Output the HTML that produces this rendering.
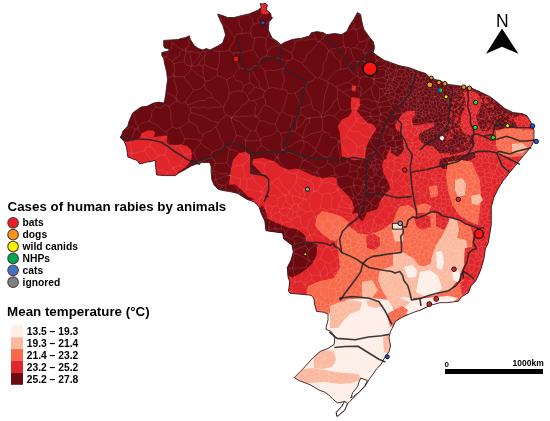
<!DOCTYPE html>
<html><head><meta charset="utf-8"><style>
html,body{margin:0;padding:0;background:#fff;width:550px;height:421px;overflow:hidden}
svg{position:absolute;left:0;top:0}
.t{font-family:"Liberation Sans",Arial,sans-serif;font-weight:bold;fill:#000}
</style></head><body>
<svg width="550" height="421" viewBox="0 0 550 421">
<defs><clipPath id="br"><polygon points="163.7,40.4 178,39.5 180.8,38.5 185.6,37.6 189.4,35.7 190.3,39.5 192.2,42.3 194.3,45.7 198.5,48.5 202.8,50 206.4,48.5 210,50 214.2,47.8 218.5,45.7 222.8,42.8 224.2,38.5 225.6,35 223.1,26.2 219.8,19.6 217.6,14.2 222,15.3 227.5,17.5 234,17.5 242.7,15.3 249.4,13.8 254.5,11.6 258.1,10.2 259.5,8.7 261.7,7.3 260.6,5.8 260.3,3.6 262.5,4 265.4,3.3 267.5,5.1 266.8,7.3 266.1,10.2 269,11.6 270.8,13.8 271.2,16.7 272.6,17.5 271.2,19.6 269,21.8 268.3,30 272.2,38.2 277.6,41.5 280.9,44.7 284.2,42.5 292.9,39.3 301.6,38.2 309.3,36 311.5,32.7 316.9,31.6 323.5,32.7 326.4,34.6 335,33.5 341.4,34.6 346.7,31.4 349.9,25 354.2,18.5 357.4,12.6 360.6,14.3 361.7,20.7 363.8,29.2 369.1,36.7 373.4,42 374.5,47.4 373.4,52.7 377.7,56 384.1,60.2 390.5,62.4 399,65.6 409.5,67.7 418.9,71.3 426,73.6 430.7,78.4 440.2,80.7 447.3,84.3 456.7,85.5 463.8,86.6 470.9,87.8 480.4,92 489.8,96.5 497,102 504.5,108.3 513,112.6 522,113.6 527,115.7 531.2,122.8 534,130 534,138.5 532.6,144.2 528.3,150 521.2,158.5 515.5,165.6 508.4,174.1 502.7,181.3 498.4,188.4 494.1,197 491.3,207 491.3,218.3 491.2,225.7 489.8,234.3 488.3,242.8 485.5,248.5 484,258.5 481.2,268.5 478.4,275.6 475.5,281.3 471.2,285.6 468.4,292.7 461.3,297 458.4,301.2 447,302.7 439.9,302.7 430,305.5 421.4,309.8 412.8,312.6 402.8,316.9 395.7,321.2 390.5,331.6 389,337.3 390.5,346 389,351.7 384.7,357.4 381.1,364.4 376.7,368.7 373.8,373.1 369.5,378.9 365.1,386.2 357.8,393.5 352,399.3 347.6,403.6 346.2,406.5 344.7,410.2 341.1,413.1 338.2,416 336.7,416 336.3,412.4 338.9,409.5 341.8,406.5 343.3,403.6 344.7,401.5 337.5,402.9 333.1,399.3 328.7,394.9 324.4,392 320,390.5 310,384.7 298.6,380.4 294.3,377.5 302.9,368.9 312.8,358 320.4,351.3 328,348.4 334.1,344.6 334.7,339 333.7,335.1 330.9,331.3 326.1,329.4 326.1,327.5 328,320 328,314.2 324.2,312.3 316.6,311.4 314.7,304.7 313.8,298 310.9,295.2 301.4,294.3 290,293.3 288.5,291.3 289.7,281.8 288,277 287.3,267.5 290.9,260.4 293.3,252 292,245 283.8,239 282.6,233 266,230.7 264.8,220.8 261.3,213.6 258.9,206.5 254,201.8 247,199.4 237.5,193.4 230,191.6 225.6,191 218.4,189.5 214,185 211.8,179.3 211.1,172 211.1,166.2 209.6,162.5 202.4,162.5 196.5,164 190.7,166.2 184.9,169.8 179.1,172.7 175.5,175.6 164.5,175.6 156.5,174.9 155.8,167.6 155.1,160.4 150,161.8 148,161.8 139.7,164.1 137.3,160.6 127.8,157 126.6,147.5 124.3,141.6 120.7,138 123,130.9 127.8,126.1 129,121.4 132.6,113 140.9,107.1 147.6,106 153.3,103.1 159,102.1 163.7,103.1 164.7,100.2 165.6,94.6 166.6,87 167.5,79.4 166.6,71.8 164.7,64.2 163.7,58.5 161.8,55.6 161.8,52.4 167.5,51.3 169.4,49 164.7,48 163.7,46.1"/></clipPath></defs>
<polygon fill="#6c0a12" points="163.7,40.4 178,39.5 180.8,38.5 185.6,37.6 189.4,35.7 190.3,39.5 192.2,42.3 194.3,45.7 198.5,48.5 202.8,50 206.4,48.5 210,50 214.2,47.8 218.5,45.7 222.8,42.8 224.2,38.5 225.6,35 223.1,26.2 219.8,19.6 217.6,14.2 222,15.3 227.5,17.5 234,17.5 242.7,15.3 249.4,13.8 254.5,11.6 258.1,10.2 259.5,8.7 261.7,7.3 260.6,5.8 260.3,3.6 262.5,4 265.4,3.3 267.5,5.1 266.8,7.3 266.1,10.2 269,11.6 270.8,13.8 271.2,16.7 272.6,17.5 271.2,19.6 269,21.8 268.3,30 272.2,38.2 277.6,41.5 280.9,44.7 284.2,42.5 292.9,39.3 301.6,38.2 309.3,36 311.5,32.7 316.9,31.6 323.5,32.7 326.4,34.6 335,33.5 341.4,34.6 346.7,31.4 349.9,25 354.2,18.5 357.4,12.6 360.6,14.3 361.7,20.7 363.8,29.2 369.1,36.7 373.4,42 374.5,47.4 373.4,52.7 377.7,56 384.1,60.2 390.5,62.4 399,65.6 409.5,67.7 418.9,71.3 426,73.6 430.7,78.4 440.2,80.7 447.3,84.3 456.7,85.5 463.8,86.6 470.9,87.8 480.4,92 489.8,96.5 497,102 504.5,108.3 513,112.6 522,113.6 527,115.7 531.2,122.8 534,130 534,138.5 532.6,144.2 528.3,150 521.2,158.5 515.5,165.6 508.4,174.1 502.7,181.3 498.4,188.4 494.1,197 491.3,207 491.3,218.3 491.2,225.7 489.8,234.3 488.3,242.8 485.5,248.5 484,258.5 481.2,268.5 478.4,275.6 475.5,281.3 471.2,285.6 468.4,292.7 461.3,297 458.4,301.2 447,302.7 439.9,302.7 430,305.5 421.4,309.8 412.8,312.6 402.8,316.9 395.7,321.2 390.5,331.6 389,337.3 390.5,346 389,351.7 384.7,357.4 381.1,364.4 376.7,368.7 373.8,373.1 369.5,378.9 365.1,386.2 357.8,393.5 352,399.3 347.6,403.6 346.2,406.5 344.7,410.2 341.1,413.1 338.2,416 336.7,416 336.3,412.4 338.9,409.5 341.8,406.5 343.3,403.6 344.7,401.5 337.5,402.9 333.1,399.3 328.7,394.9 324.4,392 320,390.5 310,384.7 298.6,380.4 294.3,377.5 302.9,368.9 312.8,358 320.4,351.3 328,348.4 334.1,344.6 334.7,339 333.7,335.1 330.9,331.3 326.1,329.4 326.1,327.5 328,320 328,314.2 324.2,312.3 316.6,311.4 314.7,304.7 313.8,298 310.9,295.2 301.4,294.3 290,293.3 288.5,291.3 289.7,281.8 288,277 287.3,267.5 290.9,260.4 293.3,252 292,245 283.8,239 282.6,233 266,230.7 264.8,220.8 261.3,213.6 258.9,206.5 254,201.8 247,199.4 237.5,193.4 230,191.6 225.6,191 218.4,189.5 214,185 211.8,179.3 211.1,172 211.1,166.2 209.6,162.5 202.4,162.5 196.5,164 190.7,166.2 184.9,169.8 179.1,172.7 175.5,175.6 164.5,175.6 156.5,174.9 155.8,167.6 155.1,160.4 150,161.8 148,161.8 139.7,164.1 137.3,160.6 127.8,157 126.6,147.5 124.3,141.6 120.7,138 123,130.9 127.8,126.1 129,121.4 132.6,113 140.9,107.1 147.6,106 153.3,103.1 159,102.1 163.7,103.1 164.7,100.2 165.6,94.6 166.6,87 167.5,79.4 166.6,71.8 164.7,64.2 163.7,58.5 161.8,55.6 161.8,52.4 167.5,51.3 169.4,49 164.7,48 163.7,46.1"/>
<g clip-path="url(#br)">
<polygon fill="#e0262a" points="122.4,142 131.4,141.2 139.5,137.9 142,133 147.7,130.5 153.5,130.5 155.1,133 153.5,137.1 156,137 164.1,135.5 167.4,136.3 166.6,141.2 169,145.3 173.9,145.3 180.5,144.5 187,146.1 191.1,149.4 191.9,154.3 191.1,160.8 187,165.7 182.9,169 178,172.3 175.6,180 150,180 115,170 115,142"/>
<polygon fill="#e0262a" points="259.5,2.5 267.8,4.5 266.1,10.2 269.7,12.4 266.8,14.5 261.7,13.8 261.2,8"/>
<polygon fill="#e0262a" points="229,185 231.6,166 233,160 239,153.1 245,151.9 249.7,154.3 250.9,159 250.9,173.3 262.8,175.6 267.5,179.2 268.7,187.5 266.3,194.7 262.8,200.6 255.6,199.4 248.5,197 242.6,191.1 234.3,184"/>
<polygon fill="#e0262a" points="252.1,163.8 253.3,159 262.8,157.8 274.7,161.4 281.8,167.3 288.9,169.7 296,168.5 303.2,170.9 312.7,175.6 322.2,178 331.7,176.8 340,179 345,170 370,165 384,160 388,157 400,158 420,157 442.8,156.3 453.5,154.2 462,152 468.5,150 472.7,147.8 474.9,143.5 472.7,137.1 474.9,132.8 480,132 495,130 510,128 530,126 540,126 540,420 250,420 250,200 268.7,197 266,187 268,180"/>
<polygon fill="#e0262a" points="351.7,97.1 359.2,98.2 360.3,105.7 357,111 361.3,116.4 367.8,122.8 374.2,124.9 376.3,129.2 372,135.6 369.9,144.2 367.8,154.9 365.6,161.3 352.8,162.4 342.1,160.2 341,148.4 340,133.5 337.8,126 342.1,119.6 348.5,116.4 351.7,112.1 350.6,103.5"/>
<polygon fill="#e0262a" points="351.7,85.3 356,86 355.5,91.8 352,91"/>
<polygon fill="#e0262a" points="402.4,113.3 408.3,110.8 414.9,110.8 414.9,116.6 411.6,120 413.3,125 419.9,125 426.6,123.3 433.2,123.3 434.9,125.8 426.6,130 419.9,133.3 418.3,138.3 424.9,144.9 433.2,146.6 439.9,153.2 450,153.2 450,160 400,165 385,156.6 386.6,146.6 400,144.9 403.3,141.6 401.6,133.3 396.6,130 395,125"/>
<polygon fill="#e0262a" points="463,92 470,90 478,94 482,100 480,108 476,116 478,124 482,132 476,134 470,135 463,133 460,126 461,116 466,106 465,99"/>
<polygon fill="#e0262a" points="513,118 522,115 530,118 533,127 518,128"/>
<polygon fill="#6c0a12" points="320,159.2 320,176.3 328.5,177.4 336,176.3 337.1,184.9 343.5,191.3 347.8,195.6 352.1,200.9 354.2,208.4 352.1,213.7 357.4,212.6 359.5,219.1 362.7,221.2 367,212.6 373.4,210.5 377.7,208.4 379.8,202 384.1,195.6 390.5,189.1 388.4,182.7 384.1,174.2 382,165.6 384.1,159.2 388.4,152.8 390.5,146.4 386.2,140 380,125 369.1,140 366,148.5 364.9,159.2 353.6,160.2 343,156.6"/>
<polygon fill="#6c0a12" points="390.5,140 403,141 404,150 398,157 391,153"/>
<polygon fill="#6c0a12" points="438.5,164.9 440.7,158.5 453.5,156.3 464.2,154.2 474.9,153.1 476,157.4 468.5,160.6 457.8,164.9 451.4,169.1 442.8,169.1"/>
<polygon fill="#6c0a12" points="262,205 265,209 267.5,218.4 277,223.2 284.2,226 289,228 296,229.1 301,232 305.3,236 306.3,241.3 312.3,242.3 317.4,245.3 316.4,255.4 312.3,263.5 306.3,269.5 300.2,273.6 292.1,277.6 285,275 280,260 265,232 255,215"/>
<polygon fill="#f86a4c" points="496,131 505,128.5 520,128 533,128 536,135 536,150 525,156 510,157 500,155 496,145"/>
<polygon fill="#fbb9a0" points="512,144 522,143 528,148 522,153 512,152"/>
<polygon fill="#f86a4c" points="448,162 462,160 472,162 476,172 480,180 481,195 480,210 478,225 470,222 460,216 452,205 448,190 446,175"/>
<polygon fill="#f86a4c" points="428.5,187 437,185 438,196 431,198"/>
<polygon fill="#f86a4c" points="415.7,206 425,203.5 431.4,206 428,212.8 417,213"/>
<polygon fill="#fbb9a0" points="455,180 462,178 466,184 465,195 458,197 455,190"/>
<polygon fill="#fbb9a0" points="471,196 480,194 483,200 478,205 472,204"/>
<polygon fill="#f86a4c" points="317,216 322.3,210.9 332.7,213.5 340.6,216.1 348.4,221.4 345.8,231.8 340.6,242.3 330,240 320,232 315,225"/>
<polygon fill="#f86a4c" points="330,213.3 340,216.6 345,223.3 351.6,228.3 358.3,233.3 368.3,235 378.3,231.6 384.9,228.3 393.2,221.6 396.6,211.6 399.9,206.6 408.2,205 413.2,208.3 418,216 432,212 450,217 460,220 466,224 471,227 473,236 473,243 471,251 468,254 467,259 462,271 458,276 452,285 440,294 425,298 411,298 396,304 385,306 370,300 353,298 340,300 330,300 318,292 306,296 308,286 320,281 334,278 340,268 338,250 333,236"/>
<polygon fill="#e0262a" points="366,236 374,234 380,238 380,246 374,250 367,248"/>
<polygon fill="#e0262a" points="338,238 336,250 333,262 330,250"/>
<polygon fill="#e0262a" points="414,217 424,214 430,217 431,227 422,230 416,226"/>
<polygon fill="#e0262a" points="436,213 446,214 450,221 444,230 436,226"/>
<polygon fill="#f86a4c" points="430,296 445,292 456,286 462,280 470,280 474,288 468,296 458,301 445,303 432,303"/>
<polygon fill="#e0262a" points="460,283 467,279 473,284 469,292 462,295"/>
<polygon fill="#fbb9a0" points="391.6,229 403.2,229 403.2,241.6 395,241.6"/>
<polygon fill="#fbb9a0" points="393,252 401.6,251.6 413.3,258.3 420,266.6 410,280 405,290 398,290 393,275"/>
<polygon fill="#fbb9a0" points="432,256 436,245 442,236 447,226 450,218 457,220 459,230 457,238 466,240 468,250 464,265 458,280 450,290 440,293 436,285 430,268"/>
<polygon fill="#fbb9a0" points="380,270 392,266 404,268 410,285 414,298 408,302 398,302 388,300 382,290 378,280"/>
<polygon fill="#fbb9a0" points="362,282 372,280 378,290 372,298 362,297"/>
<polygon fill="#fbb9a0" points="405,268 415,266 425,266 435,262 445,262 450,270 452,285 445,292 430,296 415,298 408,292"/>
<polygon fill="#fdeee8" points="404,267 412,265 417,270 416,277 408,278"/>
<polygon fill="#fdeee8" points="420,272 430,270 438,276 442,288 436,295 424,296 416,292 418,282"/>
<polygon fill="#fdeee8" points="436,252 442,251 444,262 442,270 437,268"/>
<polygon fill="#fdeee8" points="452,270 458,269 461,276 458,282 453,280"/>
<polygon fill="#e0262a" points="465,248 472,247 476,255 474,268 468,272 464,262"/>
<polygon fill="#fdeee8" points="395,300 404,297 414,299 424,298 436,297 448,296 458,298 452,303 440,305 428,306 420,310 410,314 400,315"/>
<polygon fill="#fdeee8" points="318,300 334,303 350,299 370,298 390,300 395,312 392,330 390,345 385,360 375,375 360,395 345,410 330,405 300,385 290,378 300,368 315,356 328,348 334,340 326,328 325,318"/>
<polygon fill="#f86a4c" points="306,290 318,288 330,290 345,292 350,298 340,304 333,310 328,315 318,313 312,300"/>
<polygon fill="#fbb9a0" points="330,306 340,302 352,300 362,302 360,310 350,314 344,320 338,328 330,328"/>
<polygon fill="#fbb9a0" points="366,300 378,301 384,306 376,308 368,306"/>
<polygon fill="#fbb9a0" points="388,300 400,298 410,302 404,308 395,310"/>
<polygon fill="#f86a4c" points="387,314 394,310 402,306 408,310 404,318 396,324 390,327"/>
<polygon fill="#fbb9a0" points="383,337 390,335 392,345 389,354 384,352"/>
<polygon fill="#fbb9a0" points="313,353 322,350 334,351 336,360 332,367 322,369 314,368"/>
<polygon fill="#fbb9a0" points="292,378 300,370 312,368 325,370 335,372 348,373 358,374 362,379 352,383 340,384 325,382 310,383 300,384"/>

<path d="M489.8 104.6l-0.2-0.1l-1.2 0.3l-0.4 0.1l2-0.6zM487.8 129.7l-1.1 0.3l-0.9-1.1l0.6-0.6l0.8 0.6zM488.4 114.7l-1.1 0.4l0.1-0.4l0.1-1.6l0.8-0.3zM489.6 118.5l-0.6 0.4l-1.8 0.6l1.6-2l0.2 0.6zM506 116.5l-1.6-0.2l0-1.3l-0.2-0.3l0.5 0.1zM509.2 127.3l-1.9-3.9l0.1-0.3l1.1 0.3l1.9 1.7zM469.7 112.6l-0.1-0.6l-0.1-1l1.1 0.5l0.2 0zM447.8 141.9l-0.9 1.4l-1.5-2.3l-0.2-0.4l0.6-0.1zM471.2 147.4l-0.5-1.5l-0.3-0.2l0.9-2.3l2.4 0.5zM455 100l-0.6 0.6l-0.9 0l-0.3-1.7l2-0.1zM475.8 132.5l-1.2-1.3l0.9-1.2l0.6 0.5l0.1 0.1zM492.2 116.8l-3.8-0.1l0.2-0.8l0.1-0.5l1.5-0.4zM492.3 129.8l-0.4-0.5l0.6-0.9l0.8 0.4l0.5 0.2zM456.5 130.6l-0.6 0.4l-1.4-0.9l-0.3-0.4l1-0.3zM459.1 106.7l0 0.3l-0.3 0.6l-1.2 0l1.8-1.3zM464.8 126.4l-2.7 0.5l-0.2-0.9l1.6-3.2l1 0.4zM485 111.9l-0.3 0.1l0 0l0-0.5l2.7-2.1zM455.3 145.2l-0.9 0.1l-0.6 0.2l1.3-1.7l0.4 0.8zM487.7 102.9l-1.2 1.1l-2.1-1.2l-0.5-1.1l3.5-0.3zM478.3 130.4l-2.6 0.9l-0.3-0.2l-0.5-0.8l3.9-1.4zM465.9 107.7l-3.7-1l1-0.4l1.9-2l1.1 1.6zM473.6 138.4l-1.7-1.4l0.9 0.3l0.9 0.7l-0.3 0.3zM458.6 139.7l-0.7 0.2l0.7 0.3l-0.9-1.3l0.4 0.4zM495.4 123.3l-2.1-1.3l0.8-0.6l0.5 0.4l0.6 0.8zM464.2 144.9l-0.6-2.9l1 0l0.4 1l0.9 0.6zM490.6 120l-0.7 0.9l-0.5 0.3l-0.2-0.7l1.8-1.2zM466 96.6l-2.6 0.6l-1-0.6l3.8-1.8l0.4 0.5zM486.4 103.1l-1.5-0.6l-1.1-2.5l1.6-0.4l0.7 0.3zM514.3 122.6l-0.3 0.3l-1.1-1.9l0.2-0.5l1.9 0.8zM486.6 113.8l-0.2 0.7l-1.5-1.5l1.1-1.2l0.7 0.5zM443.4 129.5l-0.6-0.9l-0.1-0.1l1.5-0.1l0.2 0.3zM473.2 102.3l-2-2.2l1.4-0.2l0.7-0.2l1.1 1.2zM510.9 115.9l-1.2 1.3l-0.9-2.1l1.4-0.3l0.5 0.7zM449.8 117.2l0.9 0.5l-1 0l-2.2-2.8l2.8 0.4zM449.7 118.4l0.4-1.1l-0.5-0.3l2-1.8l1.2 0.7zM478.6 102.6l-1.2-1.8l0.7-0.3l0-0.7l0.1 0.5zM468.3 146.7l-1-0.8l-0.7 0.4l0.1-1l0.3-0.6zM483.5 104.4l-2.5 1.2l0.6-0.9l-1.2-0.4l0.3-0.5zM487.8 129.3l0 0.1l-1.4 0.2l0.1-0.1l-0.1-0.1zM473.9 118.2l-3.6-1.7l1.3-0.6l1.3-0.9l1.8 2zM472.7 118.4l-1.1-1.4l0.6-0.2l0.4-0.2l0.5-0.2zM465.2 107.7l-0.4 0.5l0 0.2l-1.3-1.2l0.2 0.1zM466 115.3l-3.7 1.2l0.8-1.1l-0.4-0.9l1.6-1.3zM457.4 120.7l-2-0.3l-1.1-2.5l3.3-0.9l1.8 1.1zM451.8 133.5l-0.7 0.2l-0.1 0.3l-0.4-1.4l0.2-0.2zM472.4 93.5l-0.1 0.3l-1.7 0l1.1-1.8l0.1-0.1zM467.1 122.2l-0.2 0l-0.2-0.7l0.1-0.9l0.9-0.5zM458.5 108.9l0.1 0.2l-1.1 0.2l-2.6-1.3l2.4-0.3zM484.9 117.6l-0.1 0l-0.5-1.4l0.8-0.4l1.2 0.1zM508.1 125.4l0.2 0.2l-0.4 1.4l-1-0.2l-1.2-2.1zM486.5 116.6l-0.1 0.5l-1.4 0.2l0.4-1.4l0.5 0.1zM488.7 107.9l0.5 0.5l0.3 0.1l-0.1 0.4l0.8 0.4zM480.3 112.5l-2.6 0.2l1-2.2l0.3 0.6l0.4-0.9zM472.4 127.7l-0.7 0.5l-0.3 0.2l-0.6-1.4l1.7-0.1zM447.2 126.1l-0.1-0.6l-0.6-0.8l1.7-0.2l1.2 0.8zM452.3 115.7l-0.8 1.8l0.4-3.9l1.4 1.6l-0.5 0.3zM459.7 125.9l-2.2-1.3l0.7-0.8l0.5-1l1.2 0.9zM447.4 124.8l-0.3 0.6l-0.4 0l-0.7-0.2l0.3-1.4zM446.8 134.6l-1.2 0.5l-0.9 0.3l-0.4-1.5l0.2-1.2zM478.5 117l-0.9 0.5l-0.8-1l0-0.4l1.2-0.5zM451.8 125l-0.2 0.7l-3.4 0.8l-0.2-0.7l0.7-2.2zM466.2 114.2l-0.7-1l0.7-0.7l0.8-0.4l0.6 0zM457 123.4l-0.9 0.4l-1.8-3.3l0.7 0.3l1.8-1zM490.9 108.7l-1-1.9l0-1.3l0.8-1.2l0.9 0.1zM467.5 92.7l0.8-1.1l0.2 0.2l0.2 0.5l0.3 0.1zM458.5 121.9l-3.2 0.3l-0.7-0.1l-0.4-1l4.4 0.5zM460.7 149.2l-1.4 1l-1 0.1l-1.6 0.1l0.8-3.5zM490 98.3l-3.3-1.1l1.2-1.1l0.6-0.4l0.6 1zM456.2 89.6l-1.2 0.3l-0.7-1.3l0.2-0.3l0-0.4zM462.3 96.2l-1.1-0.3l0.9-2.4l0.4-0.1l1 0.4zM459.5 113.5l-2.2-2.3l0.3-1.5l2 0.9l0.4 0.4zM450.7 117l-0.1-0.7l-1.2-2.3l2.1-0.6l1.1 0.4zM469.7 95.9l-0.7-0.4l-0.2 1.1l0.3-2.9l0.1 1zM450.5 113.6l0.9 0.5l-4-1.3l2.4-1.8l1 1.7zM442.7 147.4l1.9-1.5l0.8-0.2l0.2 0.5l0.5-0.2zM483.7 97.6l-0.3-0.3l-1.3-0.4l0.5-1.7l1.3 0.7zM490.9 100.8l-0.6-0.8l-0.1-0.9l0.4 0l0.7-0.2zM449.4 136l0.1 0.7l-3.1 0.6l2.6-4.3l1.5 1.6zM470.1 121l-0.1-0.4l-0.3-0.7l1-0.1l1.3 0.7zM493 115.6l0.6 0l-0.6 0.1l-1.7 1.4l-0.6-1.2zM489.8 101.1l-1-0.4l-1.7 0.9l-0.3-0.5l-0.8-0.8zM464.4 145.3l-0.9 0.2l-0.3-1.2l2.2-1.8l0.1 0.9zM461.2 148.9l0 0.5l-0.8 0.1l-1.3-0.2l0.1-1.2zM481 134.7l-2.6 0.2l-0.9-0.1l1.1-2.6l1.4-0.8zM498.5 116.1l-1.5 0l0.4-2.1l0.3 0l0.6 0.4zM470.5 97.9l-3.1-0.7l1-1.3l-0.2-0.9l0.8 0.1zM474.6 129.1l-1.4-1.2l2.7-1.5l0.3 0l0.7-0.3zM458.9 114.9l-0.4 0.9l-2.7-0.4l-0.6-1.8l1 0.3zM446.6 140.7l-0.1-2l0.1-1.1l3.4 0.4l-0.5 1.2zM498.2 114.5l-1.3-0.1l-0.4-0.3l0.3-0.2l0.9-1.4zM520.7 125.7l-0.5-0.8l0.7 0l-0.3-0.1l2-1.3zM475.3 115.4l-0.1 0.6l-1.7-0.3l-0.9-0.5l0.8-3.1zM482.7 119l0 0.6l-0.6 0.3l-2.1-1.4l1.1-1zM460.7 103.1l-2.9 0.1l0.4-1.1l-1-0.2l0.9-0.9zM464.9 105.4l-0.9-1.2l-0.3-0.5l0.1 0l1.5-1.1zM492.9 128.2l-1.5 0.1l0.4-1.4l0.9-0.7l1 1.3zM465.7 89.8l-0.9-0.6l0.3-1.7l1.9 0l0.4 0.5zM469.1 133.6l-0.2 0.2l0.5-1.4l0.1 0.1l0.3 0zM512.3 116.9l-0.7 0l1-2.1l1.3 1l0 0.1zM467 145.5l0.2 0.7l-1-2.7l0.3 0.1l0.7 0.4zM463.4 124.9l-0.1-1.5l-0.1-0.2l0.9-0.5l0.3 0.4zM490.3 120.5l-0.5-1.4l0.1-0.2l0.4-0.4l1.2 0.9zM509.8 117.8l0-0.5l1.1-1.4l1.3 1.2l-0.4 0.1zM483.5 102.5l-1 0.6l-0.7 0.2l-0.8-3l0.7-0.5zM453.6 89.2l-1.4-1.9l1.6 0.1l0.3 0.3l-0.3 0.5zM493.3 120.8l-0.3 0l0.3-1.1l0 0.1l0-0.1zM458.4 118.4l-0.3 0.4l-0.3 0l-0.8 1.9l0.5-2.7zM495.5 102.1l0 0.4l-2.1 0.1l-0.4-0.9l3-0.5zM465 138l0.1-0.3l0.2 0.1l0.1-0.1l1 0.7zM516.2 115.9l-0.9-0.4l-0.2-1.3l0.4 0.3l0.5-0.3zM489.8 117.7l-0.9 0.5l-0.1-0.2l-0.9-1.2l1.4 0zM460.5 95.1l-2.5-0.1l0.1-0.3l-0.1-0.1l2.6-0.4zM496.6 107.6l-0.3-0.1l-0.3-0.9l0.8-0.2l1.3 0.5zM443.7 121.9l-0.1-1.2l-0.4-0.6l0.3 0.1l1-0.1zM456.8 100.7l-1.1 0.6l-1-0.8l1.1-1.7l1 0.5zM451.4 128.6l0.3 0.1l-0.4-0.1l-1.6-0.8l1-0.3zM493 109.3l-0.4-0.2l0.4-1.1l1 0.1l0.4 0.5zM455.6 110.1l-1.9 0.2l-0.2-1.6l0.8-0.5l1.6 1.2zM507.4 116l-0.1 0.1l-1.1 0l-1.4-1.8l2.4 0.4zM480.8 103.3l-1 0.4l0-1.3l1 0l0.1 0.6zM485.5 117.1l-0.1 0.2l-0.9 0.2l-0.3 0.2l0.3-1.7zM472.9 133l-2.6-1.5l0.7-0.5l0.3 0.4l0.2 0zM461.8 102.2l0.1 0l-1.2 0.8l0.2-1.5l1.3 0.5zM472.6 96.7l-2.7-2.8l0.8-0.1l1.4-0.9l0.3-0.3zM523.3 129.7l-2.2-0.9l0-0.1l1-0.3l3.3-0.5zM466.3 137.2l-0.1-0.3l-0.6-1.2l0.2-0.8l1.6-1.5zM463.1 87l0.1 0.6l-2.7 0.4l-0.8-0.5l3.5-1.2zM507.1 115.8l-0.4-0.3l-2-1.3l1.9-0.4l0.2 0.6zM460.6 134.2l-0.6 0.7l-1.9-0.5l1-1.5l0.3-0.7zM443.9 126.9l0-1.8l0.7-0.8l0.6 0.2l0.6 0.9zM453.5 132.8l-2.2 0.9l-0.8-1.3l1.6-2.3l0.8 0.9zM522.9 118.7l-1-1.7l0.1-0.2l0.9-1.4l0.4 0.1zM495.1 100.7l-0.7 0.5l-1.4-0.1l0-0.6l0.7-2.2zM470.8 108l-0.9-0.9l0-0.7l0.5-0.5l0.4 0.4zM491 127.9l0.5-0.6l1.2-1.9l-0.2 0.5l0.5-0.2zM458.7 116.6l-0.4-0.3l0.4-0.3l0.4-0.4l1 1zM468.2 128.5l-0.4 0.5l-1.1 0.7l-0.2-1.9l1-0.9zM483.1 120.3l-0.6 0l-0.3-0.3l0.2-1.6l0.2 0.7zM461.2 134.7l-1.3-1.4l0.5-0.2l0.7 0.9l0.3 0.1zM516.8 124.5l-1.1-0.3l-0.1-0.5l1-1.3l0.4-0.2zM446.3 123l-0.8 1.7l-0.7 0.3l1.3-3.9l0.3 1.8zM474.8 145.3l0.4 0.4l-2.1 0.8l-1.2-1.2l0.2-0.9zM526 127l0.5-0.5l0.4-0.9l0.9 0.1l0.3 0.5zM452.7 111l-1.9-1.8l0-0.2l1.2-2.4l0.6 0.3zM459.4 116.5l-2.5-0.5l-0.1-0.7l1.2-0.8l0.7-0.5zM469.9 136.2l-0.8-0.6l1.6-0.7l0.9-0.4l0.7 0.7zM457.2 129.4l-2.3-0.3l0.8-1.6l0.3 0l0.6 0.6zM456.4 107.5l1-0.6l0.2-0.1l0.6 0.4l0.5 0.5zM453.1 104.2l-1.9 0.1l-0.2-1l0.5-1.5l2.7-0.2zM452.2 89.4l0.4-0.5l-0.2-0.3l-0.2-0.2l0.2 0zM464.2 107.2l-1.2 0.3l-0.1 0.1l0.6-2.1l0.7 0.4zM443.6 144.7l-0.1 0l-0.2 0.1l0.9-1.5l0.1 0.4zM465.2 118.4l-1.6 0.8l-0.2-1.2l-0.1-0.8l1.5-0.1zM476.6 105.7l-0.2 0l0.6-2.4l0.5 0.3l0.4 0zM453.9 134.5l-2.5-1.9l0.7-1.2l0.4-0.4l1.2 0.6zM491.4 119.4l-2.2 0.4l-0.9-1l0.9-0.7l2.3 0.6zM488.6 127.7l-1.9-2.8l1.5-2.5l0.7 1l0.8 0.9zM469.9 146.9l-0.1-1.5l0.3-0.2l0.5 0.3l0.1 0.3zM444.1 132.9l-0.8 0.8l-1.8-1.8l2-0.4l0.5 0.5zM529.5 130.1l-1.1-0.2l-0.8 0.2l-0.6-0.6l-1.5-0.8zM462.9 101.2l-2.4 1.7l-1-2l2.3-1.5l0.2-0.1zM447.7 146.9l-2.7-0.8l0.5-0.8l2.6 0.1l0.4 0.1zM511.7 116.9l-0.5 0.1l-2.1 1.4l0.4-3.6l1 0.5zM488.1 103.4l-2.6-1.2l0.5-0.1l0.9-1.8l2.1 1zM523.5 124.8l-4.4-0.3l0.1-2l3 0.1l0.2 1.6zM448.8 140.2l-0.5-4.8l1.2 0.8l1.3-0.2l1 1.7zM456.6 149.2l0.3 0.3l-0.5 0.4l-1.4-1.3l1.7-0.2zM523.9 120.2l-2.2-1.6l0.9-0.7l0.6-0.2l0.1-0.4zM494.5 113.5l-0.9 0.8l-1-0.1l-0.4-0.6l1.5-1.7zM499.2 118.1l-2.3 1.3l-0.4-0.3l0.3-1.5l1.4-2.7zM448.6 111.4l0.3 0.3l-0.5-0.2l0.7-0.8l-0.5 0.1zM502.6 112.2l-1 0.9l0 0.6l-0.5-3.1l1.8-0.2zM448.5 111.5l-1.3-0.4l0-0.2l0 0l0.4-0.2zM528.2 117.1l-2.7-0.9l1.7-0.4l0.7 0.4l-0.1 0.4zM463.6 145.2l-0.9 0.2l-1.8-1l0.8-0.3l1.1 0.2zM447.2 136.2l-2.2-0.7l0.5-0.9l0.2 0l1.6 0.5zM474.9 94.3l0.1 1.1l-2.4-2.1l0.1-0.9l1.6-0.6zM487.1 101.2l-2 0.1l-0.5-0.1l-0.9-1.3l2.1-2.8zM448.8 123.2l-1.8-0.2l0.1-1.7l0.7-0.2l0.6 1.2zM475 107.5l-0.6 0.5l-0.2 0.2l-0.2-0.4l1.5-0.9zM496.4 129.3l-1-0.4l0.1-1.8l0.7 0.6l0.4 0.1zM452.5 93.4l-0.9-0.8l0-1l0.1-0.1l1.1 0.5zM456.7 116.5l-0.4 0.2l-0.9-2.2l0.7-0.4l2.7 0.6zM465.5 137.4l-0.6-0.2l0.1-0.6l2.4-0.3l2.1 1.4zM484.2 120.3l-2.5-0.2l0.4-0.4l-0.3-0.7l3.3-0.3zM452.7 113.8l-3.2-0.6l1-1.3l1.2 0.5l0.7 0.5zM465.7 147.6l-0.2 0.9l-0.9-0.3l-2.1-0.6l0-0.4zM519.2 119.9l-1.2 1.2l0.5-3.7l1.3 1.5l0.5 0.1zM452 131.4l-0.1 0.2l-3.3-0.1l0.9-0.6l2.7-1.9zM455.8 122.1l-2.3 0.5l0.2-0.3l0-0.4l0.6-1.5zM451.1 136.9l-1 1.2l-1.1-2.4l-0.4-0.6l2.1 0.6zM511.2 124.9l-5.5 0.2l1.9-2.8l2.6 0.2l-0.7 1zM491.7 126.5l-0.8 0.9l-0.1 0l-2-1.8l2.5 0.1zM531.6 130.9l-0.4-0.6l0.3-0.7l2.3-1.8l0.1 0.4zM460.2 129.3l-2.7 2.2l-0.7-1.9l-0.3-1.9l1.2-0.2zM477.4 123.7l-0.7 1l-1.2-0.5l1.2-2.8l1.8 1.4zM484.5 97.1l-1.3 1.1l-0.1 0.2l-1.2-1l-0.6-2.3zM496.5 110.3l0.4 0.2l-0.1 0.1l-0.2 0.2l-0.5-1.9zM455.8 91.9l-0.2-0.7l1.5-1.1l1.9 0.4l0.2 0.4zM524 125.8l-2.7 0.9l1.2-3.1l1.6 1.3l-0.4 0.1zM471.7 115.8l-0.7 0.1l-0.7-0.1l1-3.2l1.4 1.5zM478.9 113.5l-0.7-0.2l-0.7-1.1l-0.2-0.4l2.2 0.4zM473.1 97.8l0.3 0.2l-0.4 0.3l-1.8 0.3l0-2.5zM512.5 120.9l-2.4-0.8l1.4-0.4l0.4-0.4l-0.1 0.4zM502.7 119.6l-0.6-0.2l-0.7-0.5l0-0.4l0.2-0.5zM516.6 127.3l-1.4 0.8l0.2-0.4l0.1-1.4l1.5 0.4zM489.3 107.7l-1.2 0.8l-0.4-0.8l-1.2-1.2l2.7-1.3zM511.3 121.2l-3.6-1.6l1.8-0.9l0.3 0.4l0.7 0.4zM463.7 136.9l-0.1 0.4l-0.6-0.3l-0.2-1.9l1.8 0.6zM451.6 131.8l-0.6-0.8l-0.1-0.1l0.5-0.7l0.8 0.1zM493.7 108.1l-2.8-0.9l0.9-1.8l2.3-0.7l-0.1 1.8zM490.3 130.7l0.1 0.8l-1 1.5l-0.5-4.4l1.5 1.5zM463.2 100.5l-0.2-0.2l-0.1-0.1l-1.6-1.2l2.7-0.7zM528.3 124.1l-0.7 0.3l0.1 0.6l-1.2-0.2l-0.2-1.3zM486.5 97.9l-0.6-0.5l-1.4-0.4l0.7-1.3l1.1 0.2zM445.6 126.6l-0.4-0.2l-1.6 0.1l0.2-1l0.2 0zM478.2 114.5l-0.7 0.6l-0.6 0.1l-0.7-1.1l1.5-0.1zM485.6 120.8l-0.5 0l-0.3 0.1l-0.4-2.7l0.5 1zM453.7 141l-1.4 0.5l0.2-0.4l-0.4 0l0.4-0.2zM498.9 122.4l-1.6 2.1l0.1-1.1l-1.2 0.4l0.1-1.5zM470 139.9l-0.6 0.6l-0.6 0.6l-2.4-1.4l1.7-1.8zM492.7 129.6l-0.1 0.5l0 0.1l-2.7 0.3l1.2-3.2zM454.6 121.8l-0.1-2.2l1.7-2l0.3 0.9l1 0.4zM452 118.7l-2.2 0.2l-0.4 0.6l3.3-2.8l-0.3 0.6zM491.5 113.7l-0.2 1.1l-1.1-0.3l-0.8-0.4l1.2-1.6zM473.5 130.8l-0.5-0.8l0.4 0.2l1.3-1l0.4 0.2zM471.1 112.3l-0.9 1.6l-1.6-2.6l1.4-2l0 0.8zM483.2 110.3l0.5-2.6l0.6-0.5l1 0.9l0.2 0zM493.6 130l-0.6-0.5l0.8-1.8l0.1 0.3l0.7 0.3zM472.4 106.4l-0.9 0.4l-0.4 0l-0.5-0.9l1-0.3zM474.9 110.8l0.3 0.2l-1.1 0.1l0.3-1.6l0.5-0.2zM487.1 129.1l-3.9 0.3l0.6-0.8l1.7-1.1l1-0.1zM486.1 112.4l-0.4-0.3l-0.5 0.4l-0.6-2.9l0-0.3zM453.3 93.3l-2.5 0.7l-0.1-0.9l0.8-2.1l2.5 0.2zM524.9 115.2l-0.3 0.4l-0.4-0.2l-1.1-0.4l0.9-0.8zM467.7 143.2l-2-0.5l1-1.4l-0.2-0.1l3.4 0.2zM476.2 131.3l-0.5-0.4l-0.2-1.5l0.5-1.8l0.8 0.3zM529.7 128.6l-0.1 0.8l-2.2-1.6l2.1-0.9l1 0.8zM487.2 101.4l-1.1 0.2l0 1l-0.6-0.4l0.2-3.5zM521.7 117.7l-2.3-1.4l-0.8-0.9l0.4-1l0.3 0.2zM476.2 101l-1.1 0.5l0.2-2.3l0.1 0l0.7 0.1zM446.9 144.1l-0.9 0l-0.1-0.1l-0.3-1l0.1-0.5zM478.2 94.9l-1.5-3.7l0.8 1.6l0.1-0.1l0.2 0.6zM495.8 103.4l-1-0.8l-1.2-1.9l0.9-0.3l1 0.2zM518.1 115.3l-0.7-0.2l-0.4 0.3l0.5-1.6l0.6 0.3zM467.4 120.1l-0.3 0.5l-1.5 0l0.3-0.3l0.8-1zM457.1 106.4l0.5-0.6l-0.3 0l0.7-0.4l-0.2-0.5zM474.3 112.5l-0.2-0.2l-0.8-2.3l0.7-0.3l0.3 0.5zM495.8 122.8l0 0.1l-0.5 0l-1.2 0.2l0.2-2.2zM446.2 116.5l-0.6 0l0.5-0.8l1.4-0.4l0.2 0.1zM526.6 129.2l-1.6 1.3l-1.3-0.3l-0.5-2.1l0.9 0zM453.5 137.9l-2.6 0l0.8-1.1l1.6-0.2l0 0.7zM531.5 128.8l-0.6 1.6l-1.8-1.4l-0.3-0.4l2.8-0.9zM519 126.3l0-0.6l0.8 0.1l0.4 0.1l0.7 0.5zM498.5 124.8l-1.1-0.2l1.1-1.2l0.4 0.1l0.2-0.1zM465.6 143.4l-0.4-0.3l-0.4-0.2l-0.4 0.1l-1-0.5zM487.4 128.5l0.2-1.8l0 0l1.2-0.1l0.2 0.5zM477 112.8l1.2-0.9l0.4 0.7l0.5 0l-0.5 0.5zM485.6 131.1l-0.2-0.3l-1-0.7l0.8-1.1l0.9 0.4zM454.7 87.6l-0.6-1l0.8-1.3l0.3 0l0-0.2zM492.6 105.5l-0.6-0.2l-1.8 0.5l-0.6-1.4l2.3-0.6zM484.7 108.8l-0.4 0l-0.3 0.8l-0.3 0l-1.4-1.4zM512.3 119.3l-0.4 0.2l-0.2-0.9l0.4-0.1l0.1 0.5zM478.4 131l-2.5-1.5l2.2-2.8l1.8 1.5l-0.5 1.1zM479.2 119.8l-2.7-3.3l0.3 0.9l2 0.1l0.6 0.1zM469.6 148.5l-0.1 0.8l-1.2-1l-0.5-1.4l2.7-1.6zM451.9 138.4l0 0.5l-1 0.3l-0.9-2.3l1.3-0.1zM460.9 95.9l-0.8-0.3l1-1.2l1.2 0.2l0.4 0.1zM526.4 124.7l-0.1 0l-1.5 1l-0.7-1.1l1.6-0.5zM451.3 127.2l-0.2 0l-0.1 0.1l-1.2-1.8l0.5 0.1zM452.6 132.5l0.1 0.2l-0.7-1.6l1.3 0.7l-0.6 0.2zM486.4 109.5l-0.5-0.2l0.3 0.2l-1.1 0.2l0.7-1.7zM483.3 125.4l0-0.6l0.1-0.4l1.7 0.4l-0.1 0.4zM512.7 120.5l-3.4-2l3.1-1.2l0.2 0.1l0.4-0.1zM466.1 129.2l-0.5 0.2l-0.2 0.2l-0.1-1.9l1.1 0.5zM457.8 107.5l0-0.5l0.5-1.3l1.3 0.6l0.3 0.7zM466 107.4l-1.1-1.8l1.8-0.3l0.6-0.4l0.1 0.4zM460.5 142.1l-1-0.1l0.7-1.8l0.6 0l0.2 0.2zM472.8 90.4l-1.5-0.3l-2.7-0.8l0.8-1.4l2.7-1zM488.3 96.9l-1.8 0l-0.3-0.5l-0.3-0.6l0.4-1.6z" fill="#e0262a" fill-opacity="0.75"/>
<path d="M416.3 90.6l0.1-0.5l0.1-0.3l0.4 0.1l0.7 0.1zM416.2 86.3l-0.1 0.1l-0.5 0.2l-0.3-0.6l-0.1-0.5zM440.5 115.4l-0.1-1l0.2-0.5l0 0.4l0.4 0.2zM451 98.4l-1.3 0.1l-0.4-0.5l0.9-0.9l0.3 0.8zM409.3 101.9l-0.8 0.5l-0.7-1.5l0.6-0.3l0.1-0.3zM420.2 91.7l-0.7 0.7l-0.7-0.1l-0.9 0.1l1.7-1.4zM427.9 105.3l0.1 0.1l-1 0.1l0.3-0.8l0-0.1zM406.6 103.3l-0.8-1.4l-0.2-0.4l1.4-1.1l0.2 0.5zM426.2 126.3l-0.9 0l-0.3-0.2l0.7-1.1l0 0.2zM413.6 88.7l0.4-0.1l0.7-1.1l0-0.2l1.1 0.8zM419.5 126l-0.3 0.1l0 0l0.4-0.8l0.2 0.2zM433.8 120.6l-3.2-0.1l0.5-0.1l-0.5-0.7l2.1-0.2zM439.6 84l0-0.1l-0.7-0.9l0.7-0.1l0.3 0.4zM427.7 114.3l-0.5 0.2l0.9-1.9l0.5-0.1l0.7 0.4zM413.6 101l-0.1-0.6l-0.6-0.3l0.6-0.2l0.2-0.4zM442.6 123.3l-0.4-0.4l-0.3-1.7l0.2-0.1l0.3-0.6zM434.1 98.1l-1 0.9l-0.4-0.2l0.1-0.4l0.7-0.9zM421.1 123.8l-2.6-1.2l1.5-0.6l0.1 0.6l0.9 0.6zM418.6 84l-1.4 0.7l0-0.9l0.4-0.8l0.6 0.3zM421.7 86.8l-0.4 0.1l-1.3-1.7l0.9-0.2l0.6 0.8zM429.6 103.6l-0.4-0.4l-0.1-0.2l-0.1-0.5l1.1 0.4zM425.4 116.8l0.1 0.2l0 0.5l-0.8-0.1l-0.6-0.7zM435.6 97.3l-1.2 0.4l-0.3-0.2l-0.4-0.7l1.5-1zM428.4 115l-0.1-0.5l-0.6-0.5l-0.1-0.4l1.2-0.8zM410.4 89.6l-0.4 0l-0.4-0.2l-0.3-0.2l-0.1-0.4zM415.5 72.7l-0.2 0.3l-0.8-0.1l-0.6 0.1l-0.3-1.4zM416.8 94.4l-0.2 0l-0.2-0.1l-0.5-0.4l0.5-0.7zM413.8 93.6l-0.6 0.4l-0.7-0.7l0.6-0.4l0.1-0.2zM412.6 86.9l-1.2-0.2l0-0.3l0-0.2l-0.2-0.3zM418.3 78l0.4 0.6l0.1 0.2l-0.2 0.3l0.5 0.2zM428.1 120.3l-1.1 0l0.7-0.6l0.2-0.2l0.5 0.4zM442.4 109.1l-1 0.6l0.4-1.4l0.4 0l0.3 0zM442.5 109l-0.6-2.3l0.8 0.4l1 0.3l-0.1 0.4zM415.9 83.8l-0.2-1.1l0.1-0.2l0.7-0.2l0.4 0.6zM421 88.1l-1.2-0.1l0.5-1.5l0.1 0.2l0.1-0.1zM421.1 122.8l-0.6-1.1l0-0.8l0.7 0.2l1.2 0.2zM430.1 112.9l-1.1 0.9l-0.7-1.4l0.1-0.3l1-1.2zM442.1 82.9l-0.7 0.4l-1.8-1.8l0.6-0.2l0.9-0.7zM416.5 84.4l-0.1-0.2l-0.6-2.4l0.5 0.3l1.6 0.8zM441.6 129.8l-1 0.3l-0.3-0.2l0-1.7l1-0.4zM450.8 91.9l-0.4-0.3l-0.2-0.7l1.6-0.7l-0.2 0.7zM423.4 82.4l-0.5 1l-0.4-0.3l-1-0.2l1.6-2.3zM430.9 111.4l-0.1 0.1l-0.1-0.3l-0.2 0.2l-0.2-1.4zM427.3 95.7l-0.8 1l-0.6 0.1l-0.8-0.8l0.3-1.4zM426.9 125.8l-0.6-0.1l2.5-1.6l-0.3 0.4l0.9 0.6zM415.8 93l-0.4-0.8l-0.2-0.5l0.1-0.1l0.2-1.2zM427.2 138.3l-0.9-2l0.1-0.3l1.1 0.4l0.2 0.5zM416 110.6l-0.2 0.3l0.1-0.4l-0.4-0.8l1.8-0.8zM420.7 107.4l-0.7 0.1l0.2-0.9l0.7 0l0 0.3zM435 131.4l0 0.2l0.2 0.5l-1.4-0.5l1-1zM424 122.5l0-0.1l0.9 0l0 0.1l0 0zM420.4 112.3l1.4-0.9l0.1-0.2l0.5 0l0.5 0.7zM446.7 101l-0.8-0.3l-0.2-0.2l0-0.9l0.3 0zM409.8 98.3l-2.1 0.7l0.6-1.6l1.4 0.2l-0.2 0.2zM431 123.8l-0.6-0.1l-0.1 0l0 0l0.7-1.4zM417.4 98.6l-1.3-0.8l1.3 0.3l-0.2 0.3l0.2 0.1zM415.7 114.7l-1.3-1.2l0.4-0.8l0.6 0l0.8 0.5zM441.5 92.6l-1.2-1.8l0.4 0.3l0.1-0.3l0.6 0.2zM433.8 93.1l-0.7 0.1l-0.6-0.2l0.2-0.3l1.5-1.7zM418.3 103.9l-1.3 0.5l0.1-0.3l-0.3-0.4l-0.3-0.3zM407.8 99l-0.3 0.5l-0.4-0.6l0-0.3l1.3-1.6zM438 130.7l-0.2 0l0.3-0.2l0.6-0.3l0.3 0.4zM447.8 102.8l-0.3 0.3l-1.4-0.9l1.6-1.4l0.2 0.2zM423 115.7l0.2-1.2l0.9 0.4l0 0.2l-0.1 0zM409.4 105.8l-1.6-1.2l0.5-0.6l0.9-0.4l0.5 0.1zM435.6 104.8l-0.1 0.3l-0.5 0l0.1-1l0.1 0.2zM415.7 89.6l0.1 0.6l0 0.1l-1.5-2.2l1.8 0.9zM441.3 98.8l0 0.7l-1.5 0l0.4-1.8l1.4 0.2zM428.2 133.3l-0.6-0.2l-0.9-1.3l1.9-0.2l0.1 0.5zM419.5 100.7l-0.4 0.3l-2-0.2l0.7-1.6l0-0.2zM414.9 103.6l-0.6 0.1l-0.8-0.2l0.9-0.8l0.3 0.3zM433.2 102.5l-0.3-0.1l-0.4-1l0.5-0.3l1 0.4zM440.7 89.5l-1.1-0.6l0.3-0.1l0.5 0.4l0.3 0.1zM419.4 87.7l-0.5 0.4l-0.1-0.1l-0.4-2.4l0.9 0.8zM413 108l-0.2-0.3l-0.4-0.5l1.3-0.3l0.2 0.1zM416.4 92.7l-0.5-1.9l0.5-0.1l0.5 0.4l0.7-0.3zM414.2 80l-0.7-0.2l-0.5 0.8l-0.5-2.9l0.8 0.8zM433 131.7l-0.3-0.3l1.1-1l-0.1 0.4l0.5 0.3zM427.5 96.1l-0.1 0.6l-0.6 0.6l-0.9-1.8l1.1-0.6zM447.7 86.1l-0.3 0.2l-0.4 0.1l-0.4-0.4l0-0.5zM418.5 75.9l0.1 0.3l-1.6-0.4l0-1l0.7-0.7zM433.7 123.4l-1.7 0.6l0.3-1.7l0.2 0.1l0.7-0.4zM425.5 134.5l-0.5 0.3l0.4-1.3l0.7-0.4l0.5-0.3zM420.4 93.1l-0.5 0.2l-0.5-0.1l-0.1-0.6l0.7 0zM423 116.6l0.2 0.1l-2.9-0.5l2-0.9l1.1 0.8zM434.3 84.4l-0.8-1.7l0.1-0.2l0.4-0.6l1.3 0.7zM424.2 114.9l-1.2 0.5l-1-1.1l0.2-0.7l0.1 0zM430.5 105l-1.2-0.4l-0.4-0.4l0-0.1l0.8-1zM443.8 87.7l-0.5-0.1l-0.8-0.7l-0.1-0.2l1.6 0.2zM445.9 98.4l-0.3-0.2l-0.7 0.4l-1.1-1.7l1-0.4z" fill="#b8303a" fill-opacity="0.6"/>
</g>
<path d="M294.7 377.8l0.2-0.9M298.7 375.9l-3.2 0.4M302.6 378.1l-3.9-2.2M298.7 375.9l0.1-2.9M300.6 381.2l2-3.1M304.8 373.8l-3.3-3.5M302.6 378.1l1.1-0.3M307.3 364.5l-0.3-0.1M306.8 379.6l-3.1-1.8M303.7 377.8l1.1-4M307 372l-2.2 1.8M307.5 383.8l-0.7-4.2M306.8 379.6l1.3-0.5M311.2 374.6l-4.2-2.6M307 372l1.3-4.2M313.2 358.3l-0.4-0.3M308.3 367.8l-1-3.3M312.5 361.4l-5.2 3.1M314.1 381.3l-6-2.2M310.8 376.5l-2.7 2.6M315.2 371.6l-6.9-3.8M310.8 376.5l3.9 2M310.8 376.5l0.4-1.9M314.1 300.6l1-1.6M315.2 371.6l-4 3M312.5 386.1l1.9-3.3M320.3 367.8l-7.8-6.4M312.5 361.4l0.7-3.1M313.2 358.3l0.9-0.8M314.1 357.5l-0.1-0.6M315.5 307.5l2-1.8M314.1 381.3l0 0.3M314.7 378.5l-0.6 2.8M314.1 357.5l3.3-1.1M316.2 309.9l4.7 1.9M314.4 382.8l-0.3-1.2M314.1 381.6l5.2-2.5M314.4 382.8l3.6 0.2M314.7 378.5l4.6-3.9M319.4 371.3l-4.2 0.3M317.1 388.8l1.9-1M317.5 305.7l-1.6-6.6M317.6 356.2l-0.3-2.1M321 301.5l-4.7-2.4M320.2 360.1l-2.8-3.7M317.4 356.4l0.2-0.2M320.3 305.9l-2.8-0.2M318.4 355.9l-0.8 0.3M321.7 391.1l0.8-0.4M318 383l1.9 1.7M318 383l1.3-3.9M325.8 356.2l-7.4-0.3M318.4 355.9l2.2-4.7M319 387.8l1.4 0.8M319 387.8l0.9-3.1M319.3 374.6l1.1 2.3M319.4 371.3l-0.1 3.3M320.4 376.9l-1.1 2.2M319.4 371.3l0.6-0.9M319.9 384.7l3.1-1.1M320 370.4l8 3M320.3 367.8l-0.3 2.6M320.2 360.1l0.4 7.4M320.2 360.1l4.9-2.2M320.3 305.9l1.1 2.2M320.3 305.9l0.7-4.4M320.3 367.8l0.3-0.3M323.4 379.7l-3-2.8M320.4 388.6l2.1 2.1M320.4 388.6l2.6-1.3M320.6 367.5l1-0.6M320.9 311.8l0.1 0.1M320.9 311.8l0.3-0.5M321 301.5l0.5 0l4.6 2.8M321.4 308.1l-0.2 3.2M321.2 311.3l2.3-0.8M326.1 304.3l-4.7 3.8M325.4 349.9l-0.9-0.2M325.1 357.9l-3.5 9M329.4 364.7l-7.8 2.2M322.5 390.7l0.3 0.2M322.7 391.4l0.1-0.5M323.6 390.5l-0.8 0.4M324 386.1l-1-2.5M324.3 381.7l-1.3 1.9M323 387.3l0.6 3.2M324 386.1l-1 1.2M324.3 381.7l-0.9-2M329.3 374.9l-5.9 4.8M323.5 310.5l4.9 2M323.5 310.5l4.3-2.4M327.8 389.6l-4.2 0.9M327.8 389.6l-3.8-3.5M327.2 329.8l-1.1-1.6M327.8 382.4l-3.5-0.7M327.7 321.2M326 356.7l-0.9 1.2M325.4 349.9l0.7 1.6M325.4 349.9l0.3-0.6M325.8 356.2l0.2 0.5M326.1 351.5l-0.3 4.7M326 356.7l2.2 1.3M329.5 304.6l-3.4-0.3M326.1 351.5l5.5 0.2M328 314.2l0.8-0.7M328.9 391.8l-1.4 2.3M327.7 321.2l2.9 1.7M327.7 321.2l0.1-0.3M328.7 389.7l-0.9-0.1M328.4 312.5l-0.6-4.4M329.5 305.5l-1.7 2.6M333.9 315.3l-6 5.3M330.2 385.4l-2.4-3M328.4 381.3l-0.6 1.1M328 373.4l0.8 0.6M328 373.4l2.2-7.5M328.2 358l2.1 4.3M328.2 358l4.4-2.4M328.6 330.4l1.1-0.6M328.8 313.5l-0.4-1M328.4 381.3l1-6.3M333.8 378.9l-5.4 2.4M328.9 391.8l-0.2-2.1M330.2 388l-1.5 1.7M328.8 313.5l4.9-0.3M329.3 374.9l-0.5-0.9M332.8 369.9l-4 4.1M331.5 393.9l-2.6-2.1M329.4 375l-0.1-0.1M333.7 376.3l-4.3-1.3M329.4 364.7l0.8 1.2M329.4 364.7l0.9-2.4M329.5 304.6l0 0.9M330.1 303.7l-0.6 0.9M329.5 305.5l3.5 4.5M329.7 298.2l0.4 5.5M335.4 329.9l-5.7-0.1M329.7 329.8l0.9-6.9M330.6 303.7l-0.5 0M335.2 388.9l-5-0.9M330.2 385.4l0 2.6M332.3 367.4l-2.1-1.5M333.8 382.7l-3.6 2.7M330.3 362.3l5.7-1.3M331 346.5l0.7 0.7M337.6 344.3l-5.2 1.4M337 306.9l-6.4-3.2M330.6 303.7l3.6-0.9M330.6 322.9l1.8 0.1M332.4 398.4l-0.1 0.1M331.2 250.1l8.1-2M331.5 393.9l0.9 4.5M331.5 393.9l4.4-0.6M331.6 351.7l1 3.9M331.6 351.7l0.2-0.2M337.9 348.5l-6.2-1.3M331.8 351.5l-0.1-4.3M336.5 350.6l-4.7 0.9M332.8 369.9l-0.5-2.5M336 366.9l-3.7 0.5M336.6 327.3l-4.2-4.3M335.9 319.4l-3.5 3.6M332.4 398.4l1.5 0.4M332.6 355.6l2.7 0.6M335.6 372l-2.8-2.1M332.8 226.1l4.6 2M333 310l0.7 3.2M337 307.1l-4 2.9M338.1 271.7l-4.5 1.8M334 313.5l-0.3-0.3M334.4 377.2l-0.7-0.9M335.6 372l-1.9 4.3M333.8 382.7l2.1 0.9M333.8 378.9l0 3.8M333.8 378.9l0.6-1.7M333.9 398.8l0.2 1.3M333.9 398.8l3.3-1.2M333.9 315.3l2 4.1M333.9 315.3l0.1-1.8M334 336.1l0.3-0.5M334 275.4l2.6 3.3M338.5 312.7l-4.5 0.8M337.4 228.1l-3.3 7.2M334.2 274.7l5.1 0.7M336.5 296.7l-0.1 0.1l-2.2 6M336.5 302.7l-2.3 0.1M334.3 335.6l1-3.1M334.3 335.6l6.2 0M334.4 377.2l1.4 0.3M334.6 340.1l3 1.7M337.1 390l-1.9-1.1M335.2 388.9l0.7-5.3M335.3 332.5l5.1 2.1M335.3 332.5l0.1-2.6M335.3 356.2l0.3 0.4M335.3 356.2l1.2-5.6M335.4 329.9l1.2-1.5M337.6 371l-2 1M336 361l-0.4-4.4M342.9 354.7l-7.3 1.9M335.8 377.5l4.5 3.1M341.8 372.8l-6 4.7M338 410.5l0.8 1.5M335.9 393.3l1.3 4.3M337.1 390l-1.2 3.3M335.9 383.6l3.1-0.3M335.9 319.4l2.3 0.5M337.2 367.9l-1.2-1M336.5 361.2l-0.5 5.7M336.5 361.2l-0.5-0.2M338 349.1l-1.5 1.5M340.2 361.6l-3.7-0.4M336.5 296.7l1.2 0.6M336.5 296.7l-0.6-5.3l5 0.2M336.5 302.7l1.3 3M339.4 299.9l-2.9 2.8M336.6 327.3l0 1.1M339.3 324l-2.7 3.3M336.6 278.7l-0.3 2.3l3.2 1.3M336.6 278.7l2.7-3.3M340.6 268.4l-4-0.3M336.6 268.1l-0.1 0.1l1.6 3.5M337.8 264l-1.2 4.1M336.6 328.4l3.6 1.5M339.7 311l-2.7-3.9M337 306.9l0 0.2M337 306.9l0.8-1.2M338.3 389.7l-1.2 0.3M337.2 367.9l0.4 3.1M337.2 367.9l3.7-1.9M340.1 398.4l-2.9-0.8M338.8 412l-1.3 4M337.4 228.1l1.9 0.1M338.6 402.7l1.5-4.3M337.6 344.3l0.3 4M337.6 341.8l0 2.5M337.6 371l4.2 1.8M337.6 341.8M345.2 345.4l-7.6-3.6M337.6 341.8l4.3-3.1M339.4 299.9l-1.7-2.6M337.7 297.3l5.2-4M337.8 264l5.4 0.3M337.8 264l-3.2-4.1l1-2.1l2.6-0.5M342.3 304.8l-4.5 0.9M338 349.1l-0.1-0.6M337.9 348.3l0 0.2M345.2 345.4l-7.3 2.9M343.4 353.5l-5.4-4.4M340.9 273.8l-2.8-2.1M340.6 241.1l-2.5-0.3M339.3 247.2l-2.8-4.6l0.3-0.5l1.3-1.3M338.1 240.8l-2.4-5.2l4.2-1.1M338.2 319.9l1.1 4.1M341.5 317.4l-3.3 2.5M341 258.4l-2.8-1.1M341.7 250.8l-3.5 6.5M338.3 389.7l3.6 3M338.3 389.7l0.8-1.4M338.5 312.7l3 4.7M338.5 312.7l1.2-1.7M338.8 412l2.8-1.2M339 383.3l0.1 5M339 383.3l0.8-1M339.1 388.3l4.9-1.4M339.3 247.2l0 0.9M339.3 247.2l1.5-4M339.9 234.5l-0.6-6.3M339.3 228.2l0.6-0.5M340 275.2l-0.7 0.2M339.3 248.1l0.1 0M342.1 324l-2.8 0M342.2 301l-2.8-1.1M341.7 250.8l-2.3-2.7M345 244.9l-5.6 3.2M341.3 287l-6.9 1.9l5.1-6.6M340.1 282.2l-0.6 0.1M340.1 310.8l-0.4 0.2M339.8 382.3l3 2.4M339.8 382.3l0.5-1.6M340.2 234.6l-0.3-0.1M339.9 227.7l3.9 1M340.7 222.5l-0.8 5.2M341 279.7l-1-4.5M340.9 273.9l-0.9 1.3M342.8 285.1l-2.7-2.9M340.1 282.2l0.9-2.5M340.9 398.2l-0.8 0.2M340.1 310.8l3.4 1.3M342.5 307.3l-2.4 3.5M341.9 411.1l-0.5 1.8M340.2 329.9l0.4 4.2M340.2 329.9l4-0.8M342 239.8l-1.8-5.2M340.2 234.6l1.6-0.4M340.2 361.6l0.7 4.4M340.2 361.6l2.7-1.8M340.3 380.7l4.3 2.3M340.3 380.6l0 0.1M342.3 378.8l-2 1.8M340.6 407.7l1 3.1M341.9 406.3l0.5-0.2M340.5 335.6l-0.1-1M340.4 334.6l0.2-0.5M341.9 338.7l-1.4-3.1M340.8 243.2l-0.2-2.1M340.6 241.1l1.4-1.3M340.6 334.1l2.8-1M340.6 268.4l0.3 5.4M340.6 268.4l0.8-0.7M340.8 243.2l4 0.9M340.9 273.8l0 0.1M340.9 398.2l2.9 1.1M341.9 392.7l-1 5.5M340.9 366l1 0.8M340.9 291.6l2 1.7M340.9 291.6l0.4-4.6M340.9 273.9M340.9 273.9l2.9-2.6M346.4 276.3l-5.5-2.4M341 258.4l2 2.9M343.4 256.7l-2.4 1.7M346.6 278.3l-5.6 1.4M342.8 285.1l-1.5 1.9M343.8 271.3l-2.4-3.6M341.4 267.7l2.2-2.8M341.5 317.4l2.2 0.3M341.9 411.1l-0.3-0.3M342.1 250.9l-0.4-0.1M347.7 237.7l-5.9-3.5M341.9 234l-0.1 0.2M341.8 372.8l1.2 0.1M341.9 366.8l1.1 6.1M347.4 365.1l-5.5 1.7M347.7 390.6l-5.8 2.1M341.9 338.7l2.1 0M343.8 228.7l-1.9 5.3M347.1 231.8l-5.2 2.2M343.3 411.4l-1.4-0.3M342 239.8l3.3 0.3M342.1 324l2.2 5.1M345.7 320.8l-3.6 3.2M345.3 253.1l-3.2-2.2M346 247.7l-3.9 3.2M342.2 301l0.8 2.2M342.2 301l1.7-2.2M342.3 304.8l0.2 2.5M343 303.2l-0.7 1.6M342.3 378.8l5.9 3M343.8 373.4l-1.5 5.4M342.4 406.1l0 0.1M343.8 399.3l-0.5 2.5M342.7 404.8l-0.3 1.3M342.4 406.2l2.8 2.8M347 404.8l-4.6 1.4M342.5 307.3l4.5 2.4M344 386.9l-1.2-2.2M342.8 384.7l1.8-1.7M346.2 285.5l-3.4-0.4M342.9 359.8l1.1 0.6M342.9 359.8l0-5.1M343.4 353.5l-0.5 1.2M342.9 293.3l2.5 0.5M343.8 373.4l-0.8-0.5M343 261.3l0.2 3M347.7 258.6l-4.7 2.7M343 303.2l0.7 0.1M343.2 264.3l0.4 0.6M343.4 353.5l2.4-1M347.7 258.6l-4.3-1.9M343.4 256.7l1.9-3.6M345.3 337l-1.9-3.9M343.4 333.1l1.2-3.1M344.8 315.9l-1.3-3.8M343.5 312.1l3.5-2.4M346.6 266.1l-3-1.2M348.3 309.2l-4.6-5.9M348.6 303.2l-4.9 0.1M345.7 320.8l-2-3.1M344.8 315.9l-1.1 1.8M343.8 271.3l3.6-1.7M343.8 228.7l0.1 0M343.8 399.3l1.7 0M343.8 373.4l1.5-0.2M347.1 299.7l-3.2-0.9M343.9 298.8l1.6-4.8M343.9 228.7l2.8 1.6M346.2 223.2l-2.3 5.5M347.9 343.8l-3.9-5.1M344 338.7l1.3-1.7M344 360.4l3.4 4.6M349.3 358.7l-5.3 1.7M346.6 387.8l-2.6-0.9M344.6 330l-0.4-0.9M344.3 329.1l-0.1 0M350.2 325l-5.9 4.1M347.8 382.5l-3.2 0.5M347.3 332.8l-2.7-2.8M344.8 244.1l0.2 0.8M345.3 240.1l-0.5 4M344.8 315.9l3.8-2.3M345 244.9l0.2 0.1M347.9 345.3l-2.7 0.1M346 247.7l-0.8-2.7M350.6 244.3l-5.4 0.7M345.8 253.2l-0.5-0.1M346 336.5l-0.7 0.5M345.3 240.1l2.9-1.6M345.3 373.2l3 1.5M345.3 373.2l2.5-5.5M345.5 294l-0.1-0.2M345.4 293.8l0.2-0.5M345.5 294l0.3 0.2M347.9 400.5l-2.4-1.2M347.7 390.6l-2.2 8.7M346.2 285.5l-0.6 7.8M345.6 293.3l4-1.6M349.7 322.5l-4-1.7M345.8 253.2l2.8 1.3M347.8 248.4l-2 4.8M352 295.2l-6.2-1M348.8 298l-3-3.8M349.7 357.8l-3.9-5.3M346.9 351.3l-1.1 1.2M350.3 337l-4.3-0.5M347.3 332.8l-1.3 3.7M347.8 248.4l-1.8-0.7M347.7 284.6l-1.5 0.9M346.6 278.3l-0.2-2M346.4 276.3l2.5-3.2M347.9 390.4l-1.3-2.6M346.6 387.8l1.2-5.3M347.8 280.2l-1.2-1.9M346.6 266.1l0.8 2.8M351 262.3l-4.4 3.8M346.7 230.3l0.7 1M346.7 230.3l2.3-5.9l1.5 5.5M351.9 353.3l-5-2M348.5 346.5l-1.6 4.8M347.8 309.7l-0.8 0M348.6 303.2l-1.5-3.5M347.1 299.7l1.7-1.7M347.1 231.8l0.6 5.9M347.4 231.3l-0.3 0.5M347.3 332.8l2.5-0.5M347.4 231.3l2.1-0.3M347.4 365.1l0.4 2.6M347.4 365.1l0-0.1M348.9 273.1l-1.5-3.5M347.4 268.9l0 0.7M347.4 365l1.7-0.9M353.2 268.5l-5.8 0.4M348.2 258.5l-0.5 0.1M347.9 390.4l-0.2 0.2M347.7 284.6l2.7 0.8M347.8 280.2l-0.1 4.4M348.2 238.5l-0.5-0.8M348.2 381.8l-0.4 0.7M347.8 248.4l4-0.6M347.8 280.2l5.7-2.5M348.6 313.6l-0.8-3.9M348.3 309.2l-0.5 0.5M347.8 367.7l4.7 1.5M347.9 400.5l0.5 0.7M352.7 393.6l-4.8 6.9M347.9 390.4l0.7 0.1M347.9 345.3l0-1.5M349 342.7l-1.1 1.1M348.5 346.5l-0.6-1.2M349.5 381l-1.3 0.8M349.8 238.9l-1.6-0.4M348.2 258.5l2.9 3.5M348.6 254.5l-0.4 4M348.3 309.2l1.4-1.3M348.9 375.2l-0.6-0.5M348.3 374.7l4.2-5.5M348.4 401.2l0.6 1.1M352.4 398.9l-4 2.3M348.5 346.5l3.5 0.5M349.2 303.4l-0.6-0.2M352.7 393.6l-4.1-3.1M353.6 385.6l-5 4.9M348.8 313.7l-0.2-0.1M351.1 253.3l-2.5 1.2M352.4 313.8l-3.6-0.1M350.6 320l-1.8-6.3M351.2 299.2l-2.4-1.2M349.6 380.3l-0.7-5.1M348.9 375.2l7.4-0.9M351.3 273.6l-2.4-0.5M350.3 337l-1.3 5.7M355.7 339.4l-6.7 3.3M353.8 366.9l-4.7-2.8M350.2 362.7l-1.1 1.4M349.2 303.4l0.5 4.5M349.2 303.4l1.9-1.5M349.3 358.7l1 3.6M349.3 358.7l0.4-0.9M349.5 381l2.2 1.3M349.6 380.3l-0.1 0.7M349.5 231l2.5 2.9M350.2 230.2l-0.7 0.8M349.6 380.3l8.4-4.3M351.5 291.9l-1.9-0.2M350.4 285.4l-0.8 6.3M349.7 322.5l0.8 1.5M350.6 320l-0.9 2.5M353.7 356.9l-4 0.9M349.7 307.9l2.3 0.5M349.8 238.9l0.7 0.9M349.8 238.9l2.4-3.8M349.8 332.3l0.5 0.5M351 327.6l-1.2 4.7M351 327.6l-0.8-2.6M350.5 324l-0.3 1M350.2 230.2l3.6 1.4M350.5 229.9l-0.3 0.3M354.1 363.6l-3.9-0.9M350.3 362.3l-0.1 0.4M351 336.6l-0.7 0.4M355.7 332.8l-5.4 0M351 336.6l-0.7-3.8M353.4 360.1l-3.1 2.2M351.3 285.5l-0.9-0.1M350.5 229.9l3-1.6M350.5 324l9.2-0.3M350.5 239.8l0.4 0.9M355.7 238l-5.2 1.8M351.9 247.7l-1.3-3.4M350.6 244.3l0.3-3.6M354.8 315.9l-4.2 4.1M350.9 240.7l6.9 1.6M355.4 337.6l-4.4-1M356.2 331.7l-5.2-4.1M353.8 266.4l-2.8-4.1M351 262.3l0.1-0.3M351.1 253.3l3.1 1.7M351.1 253.3l0.7-5.5M352.4 302.3l-1.3-0.4M351.1 301.9l0.1-2.7M351.2 262l-0.1 0M352.2 298l-1 1.2M354.2 255l-3 7M352.8 261.8l-1.6 0.2M353.5 277.7l-2.2-4.1M351.3 273.6l3.2-2.4M351.3 285.5l3.9 3.2M354.5 281.4l-3.2 4.1M352 295.2l-0.5-3.3M355.2 288.7l-3.7 3.2M351.7 382.3l1.8 2.3M359.8 377.1l-8.1 5.2M351.8 247.8l0.1-0.1M354.3 247.6l-2.4 0.1M353.7 356.9l-1.8-3.6M354.2 351l-2.3 2.3M352 347M352 347l5.5-4.4M352.2 235.1l-0.2-1.2M352 233.9l1.8-2.3M352 347l5.9 1.6M354.2 351l-2.2-4M352.4 295.5l-0.4-0.3M353.4 310.2l-1.4-1.8M352 308.4l1.5-1.2M355 298.5l-2.8-0.5M352.2 298l0.2-2.5M356.1 234.9l-3.9 0.2M352.4 295.5l3-1.2M352.4 313.8l2.4 2.1M352.4 313.8l1-3.6M352.4 302.3l2.9 0.3M352.4 302.3l1.1 4.9M352.5 369.2l2.1-0.3M354 393.9l-1.3-0.3M357.8 263.8l-5-2M357.5 258.9l-4.7 2.9M353.2 268.5l1.3 2.7M353.8 266.4l-0.6 2.1M353.4 360.1l1.4 2.4M354 357l-0.6 3.1M358.9 311.2l-5.5-1M353.6 385.6l-0.1-1M358.4 381.5l-4.9 3.1M354.6 231.1l-1.1-2.8M353.5 228.3l1.7-4.6l2 7.4M355.2 306.4l-1.7 0.8M355 278.4l-1.5-0.7M359.5 389.5l-5.9-3.9M354 357l-0.3-0.1M353.8 266.4l2.1-0.1M353.8 366.9l0.8 2M354.1 363.6l-0.3 3.3M353.8 231.6l0.8-0.5M354 357l0.4-0.1M354 393.9l1.1 2.3M354 393.9l5.5-4.3M354.1 363.6l0.7-0.7M355.9 351.5l-1.7-0.5M354.6 255l-0.4 0M357.9 250.8l-3.6-3.2M354.3 247.6l1.9-1.9M357.7 357.8l-3.3-0.9M354.4 356.9l1.7-5M354.5 271.2l3.3 0.5M359.5 284.9l-5-3.5M354.5 281.4l0.5-3M357.5 257.3l-2.9-2.3M357.9 250.8l-3.3 4.2M354.6 231.1l1.6 0.6M354.6 368.9l0.7 0.4M354.8 362.5l0 0.4M354.8 362.5l2.9-4.7M354.8 315.9l2.8 0M359.9 363.8l-5.1-0.9M355 278.4l2.2-0.7M355 298.5l1.5 3.5M355 298.5l2.1-1.9M356.5 289.1l-1.3-0.4M358.3 307.9l-3.1-1.5M355.3 302.6l-0.1 3.8M355.3 302.6l1.2-0.6M356.3 374.3l-1-5M358.1 367.4l-2.8 1.9M355.4 294.3l1.7 2.3M355.4 294.3l1.3-4.6M355.6 338.1l-0.2-0.5M355.7 332.8l-0.3 4.8M355.6 338.1l0.1 1.3M355.6 338.1l6.7-2.2M356.2 331.7l-0.5 1.1M355.7 339.4l1.8 3.2M355.7 238l3 2.5M356.2 235l-0.5 3M355.9 351.5l0.2 0.4M355.9 351.5l2-2.9M355.9 266.3l1.9 5.4M355.9 266.3l2-1.3M356.1 351.9l5.8 2.8M356.2 235l-0.1-0.1M356.1 234.9l0.1-3.2M358.5 235.5l-2.3-0.5M356.2 245.7l3 1.3M356.2 245.7l1.6-3.4M357.2 231.1l-1 0.6M356.2 331.7l2.4-1.3M358 376l-1.7-1.7M356.5 302l3.6-0.1M356.5 289.1l0.2 0.6M359.9 285.9l-3.4 3.2M356.7 289.7l3.9 3.3M357.1 296.6l2.9 0.8M359.6 279.2l-2.4-1.5M358.7 272.4l-1.5 5.3M360.7 230.8l-3.5 0.3M357.5 257.3l0 1.6M359.6 256.1l-2.1 1.2M357.5 342.6l3.9 2M357.5 258.9l1.7 2.1M357.6 315.9l2.5 3.7M357.6 315.9l1.3-4.7M357.7 357.8l3.3 0.2M357.8 242.3l0.1 0M357.8 263.8l0.1 1.2M359.2 261l-1.4 2.8M357.8 271.7l0.5 0.2M358.3 242.6l-0.4-0.3M358.7 240.5l-0.8 1.8M360.7 347.2l-2.8 1.4M357.9 250.8l0.3 0M360 268l-2.1-3M357.9 265M363 264.2l-5.1 0.8M358 376l1.8 1.1M358.1 367.4l3.4 2.5M359.9 363.8l-1.8 3.6M358.2 250.8l0.4 0.1M358.2 250.8l1-3.8M365.3 243.8l-7-1.2M360.9 246.1l-2.6-3.5M358.7 272.4l-0.4-0.5M358.3 271.9l1.7-3.9M359.4 310.6l-1.1-2.7M360.2 301.9l-1.9 6M359.6 389.2l-1.2-7.7M359.9 377.2l-1.5 4.3M360.6 237.9l-2.1-2.4M360.7 230.8l-2.2 4.7M362.3 335.9l-3.7-5.5M358.6 330.4l2.1-4.1M361.4 254.3l-2.8-3.4M364.3 247.3l-5.7 3.6M358.7 272.4l2.1 0.4M360.7 238.7l-2 1.8M359.3 310.6l-0.4 0.6M359.2 247l1.7-0.9M359.2 261l2.2 0.1M359.3 310.6l3.9 2.6M359.4 310.6l-0.1 0M362.8 308.8l-3.4 1.8M360.5 390.8l-1-1.2M359.5 389.6l0-0.1M359.5 389.5l0.1-0.3M359.9 285.9l-0.4-1M359.5 284.9l0.1-5.7M359.6 256.1l2.8 3.9M359.6 256.1l1.8-1.8M363.6 278.6l-4 0.6M359.6 389.2l1.9-1.4M360.7 326.3l-1-2.6M359.7 323.7l0.4-1.2M359.8 377.1l0.1 0.1M360.3 377.1l-0.4 0.1M359.9 285.9l0.3 0M361.4 362.6l-1.5 1.2M362.3 267.2l-2.3 0.8M360.7 298.4l-0.7-1M360.6 293l-0.6 4.4M360.1 319.6l0 2.9M360.1 319.6l1.2-0.8M360.1 322.5l6.9-1M360.1 301.9l0.1 0M360.1 301.9l0.6-3.5M360.2 301.9l1.8 0.9M360.2 285.9l3.2 6.4M364.4 285.4l-4.2 0.5M360.3 377.1l3.8 0.8M361.5 369.9l-1.2 7.2M360.6 237.9l0.1 0.8M360.6 237.9l2.4-3.3M363.4 292.3l-2.8 0.7M360.7 238.7l3.1 1.4M360.7 298.4l5.5-1.6M362.6 353.7l-1.9-6.5M361.4 344.6l-0.7 2.6M360.7 230.8l0.6-0.3M360.7 326.3l3.7 1.6M360.8 272.8l4 1.2M360.8 272.8l2.4-4.5M360.8 225.7l0.6 4.5M364.3 247.3l-3.4-1.2M361.4 359l-0.4-1M361.9 354.7l-0.9 3.3M361.3 318.8l2.2-2.9M361.3 318.8l5.7-0.7M361.3 230.5l1.7 4.1M361.4 230.2l-0.1 0.3M361.4 261.1l1.6 3.1M362.4 260l-1 1.1M364.2 343.3l-2.8 1.3M362.1 363.1l-0.7-0.5M361.4 362.6l0-3.6M363.9 254.5l-2.5-0.2M371.2 359.1l-9.8-0.1M364.3 230.2l-2.9 0M361.5 387.8l2.6-9.9M361.5 387.8l2.6-0.6M361.5 369.9l1.9-0.8M362.6 353.7l-0.7 1M365.3 303.1l-3.3-0.3M362.8 308.8l-0.8-6M368.1 364.8l-6-1.7M362.1 363.1l1.4 5.2M363.2 268.3l-0.9-1.1M362.3 267.2l1.1-2.6M362.3 335.9l2 0.7M363.6 259.2l-1.2 0.8M362.6 353.7l4.5-1M365.6 308.7l-2.8 0.1M363 264.2l0.4 0.4M363 234.6l3.8 0.6M363.2 313.2l0.3 2.6M363.2 313.2l4-1.3M364.9 269.4l-1.7-1.1M363.4 369.1l3.7 3.8M363.5 368.3l-0.1 0.8M363.4 292.3l1.8 0M367.2 264.3l-3.8 0.3M363.5 315.9l0-0.1M363.5 315.9l3.5-0.2M367.2 311.9l-3.7 3.9M367.6 367.3l-4.1 1M363.6 259.2l4 2.8M364.5 255.3l-0.9 3.9M365.1 280.5l-1.5-1.9M363.6 278.6l1.2-4.6M363.8 240.1l1.5 3.7M363.8 240.1l2.7-2.5M364.5 255.3l-0.6-0.8M363.9 254.5l2.1-6.8M364.1 377.9l0.5-0.1M364.3 343.4l-0.1-0.1M364.2 343.3l0.1-6.7M364.3 343.4l3.4 5M372.1 342l-7.8 1.4M365.6 247.2l-1.3 0.1M367.2 334.2l-2.9 2.4M364.3 230.2l4.6 2.4M364.3 230.2l3.3-4.3l4 4.3M367.2 334.2l-2.8-6.3M364.4 327.9l4.8-2.1M367.2 288.2l-2.8-2.8M365.4 282.2l-1 3.2M364.5 255.3l2.8 0.6M365.9 384.9l-1.3-7.1M364.7 377.8l-0.1 0M367.7 381.9l-3-4.1M367.4 376.2l-2.7 1.6M364.9 273.9l-0.1 0.1M364.9 269.4l0 4.5M366 268.5l-1.1 0.9M366.2 273.9l-1.3 0M365.4 282.2l-0.3-1.7M369 278.6l-3.9 1.9M365.2 292.3l1.2 2.8M367.2 288.2l-2 4.1M365.9 244.8l-0.6-1M365.6 308.7l-0.3-5.6M366.7 302.5l-1.4 0.6M370.5 282.2l-5.1 0M365.6 308.7l0.5 0.3M366 247.7l-0.4-0.5M365.6 247.2l0.3-2.4M368.1 243.2l-2.2 1.6M372 250.3l-6-2.6M370 270.3l-4-1.8M367.2 264.3l-1.2 4.2M366.1 309l1.2 2.4M369.1 306.7l-3 2.3M368.1 299.4l-1.9-2.6M366.2 296.8l0.2-1.7M369 278.6l-2.8-4.7M369.5 272.8l-3.3 1.1M370.6 293.9l-4.2 1.2M366.5 237.6l3.3 3.1M366.5 237.6l0.3-1.8M366.7 302.5l2.4 4.2M368 301.1l-1.3 1.4M366.8 235.2l0 0.6M368.9 232.6l-2.1 2.6M366.8 235.8l5.6 3.3M367 315.7l0 2.4M367 315.7l1.3-2M367 318.1l1.3 1.5M367 321.5l2.2 4.2M368.3 319.6l-1.3 1.9M370.1 354.3l-3-1.6M367.1 352.7l0.6-4.3M367.1 372.9l0.5 2.6M368 369.2l-0.9 3.7M367.9 263.8l-0.7 0.5M368.9 288.1l-1.7 0.1M373 334.4l-5.8-0.2M367.3 311.9l-0.1 0M367.3 311.4l0 0.5M367.3 311.4l4.8-2.3M367.3 311.9l1 1.8M367.3 255.9l1.3 3.1M367.3 255.9l4.8-3.1M369.5 378.9l-2.1-2.7M367.5 376.1l-0.1 0.1M371.3 376.4l-3.8-0.3M367.6 375.5l-0.1 0.6M367.6 262l0.3 1.8M368.6 259l-1 3M368 369.2l-0.4-1.9M368.1 364.8l-0.5 2.5M374.4 369.3l-6.8 6.2M367.7 348.4l5.6-0.9M369.1 264.3l-1.2-0.5M373.8 368.7l-5.8 0.5M368 301.1l3.1 1.8M368 301.1l0.1-1.7M373.4 297.2l-5.3 2.2M374 245.4l-5.9-2.2M368.1 243.2l1.7-2.5M369.8 363.9l-1.7 0.9M368.3 319.6l2.7-0.3M368.3 313.7l0.4 0.1M373.3 258.5l-4.7 0.5M368.7 313.8l2.5 5.3M371.4 313.5l-2.7 0.3M368.9 232.6l2.5-1M368.9 288.1l2.1 1M371.1 283l-2.2 5.1M370.7 278.8l-1.7-0.2M369.1 306.7l2.8-0.1M371.4 265.9l-2.3-1.6M373.3 258.5l-4.2 5.8M373.8 333.7l-4.6-7.9M369.2 325.8l0-0.1M370.8 324.7l-1.6 1M369.5 272.8l3.2 2.2M369.5 272.8l0.5-2.5M369.8 240.7l2.5-1.1M369.8 363.9l1.4 1.1M369.8 363.9l1.4-4.8M370.1 270.1l-0.1 0.2M372 358.2l-1.9-3.9M370.1 354.3l4.1-5.5M370.1 270.1l5.8 0.8M371.4 265.9l-1.3 4.2M370.5 282.2l0.6 0.8M370.7 278.8l-0.2 3.4M373.2 296.1l-2.6-2.2M371 289.1l-0.4 4.8M372.5 277.4l-1.8 1.4M371 319.3l-0.2 5.4M374 324.6l-3.2 0.1M373 289l-2 0.1M371.2 319.1l-0.2 0.2M371.1 283l0.9 0.1M371.1 302.9l1 3.5M375 300.4l-3.9 2.5M372 358.2l-0.8 0.9M373.8 368.7l-2.6-3.7M371.2 365l6.4-1.6M371.2 319.1l2.1-0.4M375.1 265.5l-3.7 0.4M371.4 313.5l1 1.1M372.6 311.8l-1.2 1.7M371.4 231.6l0.4 0.5M371.7 230.4l-0.3 1.2M371.6 230.2l0.1 0.2M374 220.1l-2.4 10.1M375.5 228.9l-3.8 1.5M375.1 233l-3.3-0.9M371.8 232.1l1.3 5.3M371.9 306.6l0.2 2.5M372.1 306.4l-0.2 0.2M372 358.2l5.6 0M372 283.1l2.9 1.6M374 280.7l-2 2.4M372.1 252.8l-0.1-2.5M372 250.3l3.2-2.8M373.2 346.4l-1.1-4.4M372.1 342l1-1.6M374.9 305.7l-2.8 0.7M372.2 309.3l-0.1-0.2M372.1 252.8l0.8 1M372.2 309.3l5.2 0.7M372.2 309.3l0.4 2.5M372.9 240.3l-0.6-0.7M372.3 239.6l0.1-0.5M372.4 314.6l0.9 4.1M372.4 314.6l3.2-0.6M373.1 237.4l-0.7 1.7M374 280.7l-1.5-3.3M372.5 277.4l0.4-0.7M372.6 311.8l2.9 0.7M372.9 276.7l-0.2-1.7M372.7 275l2.8-2.3M376.6 254.1l-3.7-0.3M373.7 258.3l-0.8-4.5M372.9 240.3l4.4 0.8M372.9 240.3l1.1 5.1M372.9 276.7l3.7 1.3M373 289l1.8 4.4M374.2 288.2l-1.2 0.8M373.1 340.4l-0.1-6M373 334.4l0.8-0.7M373.1 237.4l4.3-0.2M373.1 340.4l3.2 1M373.2 346.4l0.1 1.1M373.2 346.4l6.6-2.9M373.4 297.2l-0.2-1.1M374.8 293.4l-1.6 2.7M373.5 318.8l-0.2-0.1M374.2 348.8l-0.9-1.3M373.7 258.3l-0.4 0.2M375.6 299l-2.2-1.8M375.8 322.7l-2.3-3.9M377 316.4l-3.5 2.4M374.6 259l-0.9-0.7M374.4 369.2l-0.6-0.5M373.8 333.7l1.5-0.8M374 280.7l3.3 1.4M375.2 247.5l-1.2-2.1M375.9 332.1l-1.9-7.5M375.8 322.7l-1.8 1.9M378.7 350.6l-4.5-1.8M374.2 288.2l3.2 0.8M374.2 288.2l0.7-3.5M374.4 369.3l0.6 2M374.4 369.3l0-0.1M374.4 369.2l1.4-0.6M375.4 264.7l-0.8-5.7M376.9 258.5l-2.3 0.5M376.9 293.1l-2.1 0.3M374.9 305.7l4.1 1.4M374.9 305.7l0.1-5.3M374.9 284.7l1.5-1.1M375 300.4l0.6-0.9M375.1 233l4.5 2.8M380.1 231.1l-5 1.9M375.1 265.5l0.9 1.1M375.1 265.5l0.3-0.8M379.1 247l-3.9 0.5M381.1 337l-5.8-4.1M375.3 332.9l0.6-0.8M375.4 264.7l5.1-3M375.5 272.7l3.3 2.7M375.5 272.7l0.4-1.1M378.7 229.5l-3.2-0.6M376.9 224.1l-1.4 4.8M375.5 312.5l0.1 1.5M375.5 312.5l1.9-2.5M375.6 299.5l4.9 5.2M375.6 299.5l0-0.5M378 297.7l-2.4 1.3M375.6 314l1.4 2.4M375.8 368.6l0.5 0.7M375.8 368.6l2.6-2M380.2 323.1l-4.4-0.4M380.4 272.8l-4.5-1.2M375.9 270.9l0 0.7M376.2 269.8l-0.3 1.1M382 327.7l-6.1 4.4M381.4 267.2l-5.4-0.6M376 266.6l0.2 3.2M382.2 271.1l-6-1.3M379.8 343.5l-3.5-2.1M381.1 337l-4.8 4.4M376.4 283.6l2.5 3M377.3 282.1l-0.9 1.5M376.6 278l1.7 3.3M376.6 278l2.2-2.6M377.9 254.9l-1.3-0.8M376.6 254.1l3.4-5.6M376.9 293.1l1.1 4.6M376.9 293.1l2-1.3M376.9 258.5l3.5 0.7M377.9 254.9l-1 3.6M378.6 316.5l-1.6-0.1M377.3 282.1l1-0.8M377.3 241.1l1.4 1.5M377.3 241.1l0.1-3.9M377.4 289l1.5 2.8M377.4 289l1.7-1.7M377.4 237.2l2.2-1.4M378.7 309.3l-1.3 0.7M377.6 363.4l0-5.2M377.6 358.2l1.6-1.1M377.6 363.4l0.8 3.2M380.1 254.6l-2.2 0.3M378 297.7l1.6-0.3M378.1 102.7l10.1-2.1M378.3 281.3l2 0.1M378.8 366.7l-0.4-0.1M378.6 316.5l0.8 1M378.6 316.5l1.1-2M378.7 309.3l1 5.2M379.1 308.6l-0.4 0.7M379.8 245.5l-1.1-2.9M378.7 242.6l1-2.7M378.7 350.6l0.7 5.5M378.7 350.6l2.9-3.3M378.7 229.5l1.4 1.6M378.7 229.5l1.7-4.3l0.4-0.1l2 4.7M378.8 275.4l0.6-0.1M378.9 291.8l1.7 0.6M378.9 286.6l0.2 0.7M380.7 282.4l-1.8 4.2M379.1 308.6l-0.1-1.5M380.5 304.7l-1.5 2.4M380 248.5l-0.9-1.5M379.1 247l0.7-1.5M379.1 287.3l3.4 0.1M379.1 308.6l5.5 2.5M383.7 359.4l-4.5-2.3M379.4 356.1l-0.2 1M379.4 317.5l0.8 5.6M382.6 317.3l-3.2 0.2M380.9 276.5l-1.5-1.2M379.4 275.3l1-2.5M379.4 356.1l6.6-3.3M379.5 97.9l5.3-3.3M379.6 235.8l0.1 0M380 297.6l-0.4-0.2M380.6 292.4l-1 5M380.3 236.3l-0.6-0.5M380.7 231.6l-1 4.2M379.7 314.5l1.5-0.3M384.1 240.2l-4.4-0.3M379.7 239.9l0.6-3.6M382.4 344.5l-2.6-1M379.8 245.5l3.9-2.2M382.6 302.4l-2.6-4.8M383.6 296.8l-3.6 0.8M380 248.5l0.5 0.5M380.1 254.6l0.3 4.6M380.1 254.6l0.3-0.4M380.1 231.1l0.6 0.5M380.3 323.2l-0.1-0.1M382 327.7l-1.7-4.5M384.7 320.1l-4.4 3.1M380.4 281.5l-0.1-0.1M381.3 280l-1 1.4M384.5 238l-4.2-1.7M380.4 254.2l3.6 1M380.4 254.2l0.1-5.2M380.4 259.2l0.4 0.4M382.2 271.1l-1.8 1.7M385.6 282.7l-5.2-1.2M380.4 281.5l0.3 0.9M382.3 264.1l-1.8-2.4M380.5 261.7l0.3-2.1M382.1 303.8l-1.6 0.9M382 249.6l-1.5-0.6M381.5 292.1l-0.9 0.3M382.5 285.3l-1.8-2.9M382.2 231.1l-1.5 0.5M382.4 259.1l-1.6 0.5M381.3 280l-0.4-3.5M383.3 275.4l-2.4 1.1M384.9 338.7l-3.8-1.7M382.7 315.2l-1.5-1M384.6 311.1l-3.4 3.1M381.3 280l3.7-1.1M381.4 267.2l2.3 3.2M382.3 264.1l-0.9 3.1M383.7 293.7l-2.2-1.6M383.3 288.5l-1.8 3.6M381.6 347.3l5 3.9M382.4 344.5l-0.8 2.8M382.2 327.8l-0.2-0.1M386.3 250.2l-4.3-0.6M384.3 255.1l-2.3-5.5M388.1 307.3l-6-3.5M382.6 302.4l-0.5 1.4M383.7 270.4l-1.5 0.7M382.2 231.1l2.1 0.9M382.8 229.8l-0.6 1.3M382.2 327.8l2.3 3.2M382.2 327.8l1.5-0.6M382.3 264.1l4.3-0.7M386 341.2l-3.6 3.3M382.4 259.1l5.2 1.6M382.4 259.1l1.6-3.9M383.3 288.5l-0.8-1.1M382.5 285.3l0 2.1M385.6 283.9l-3.1 1.4M384.8 318.2l-2.2-0.9M382.7 315.2l-0.1 2.1M386.4 299.3l-3.8 3.1M382.7 315.2l3.3-0.5M382.8 229.8l1.7-1.8M383.1 223.5l1.3 3.7M385.7 288.6l-2.4-0.1M384.2 276.7l-0.9-1.3M384.6 272.5l-1.3 2.9M386.4 299l-2.8-2.2M383.7 293.7l-0.1 3.1M383.7 270.4l0.6 0.2M383.7 327.2l4.1-5.2M390.8 326.9l-7.1 0.3M387.3 244.6l-3.6-1.3M383.7 243.3l0.4-3.1M386.8 293.2l-3.1 0.5M384.3 255.1l-0.3 0.1M384.1 240.2l0.4-2.2M384.2 276.7l0.8 2.2M387.1 275.3l-2.9 1.4M384.3 255.1l0.2 0M384.3 232l1.4 3.6M386.7 230.9l-2.4 1.1M384.6 272.5l-0.3-1.9M384.6 270.4l-0.3 0.2M384.5 228l-0.1-0.8M384.4 227.2l6-1.6M384.5 228l2 0.8M384.5 255.1l3.7 3.9M384.5 255.1l2.2-2.2M384.5 238M385.7 235.6l-1.2 2.4M384.5 238l4.1 1.1M385.6 335.6l-1.1-4.6M391.2 330.1l-6.7 0.9M384.6 311.1l0.5 0M387.1 275.3l-2.5-2.8M386.6 263.4l-2 7M386.3 270.3l-1.7 0.1M387.8 322l-3.1-1.9M384.7 320.1l0.1-1.9M384.8 94.6l3.6 3.6M384.8 94.6l0.2-0.3M384.8 88.3l1.3 2.7M384.8 88.3l-3.1 0.2l3.3 5.8M385.5 88l-0.7 0.3M385.7 317.1l-0.9 1.1M386 341.2l-1.1-2.5M384.9 338.7l0.7-3.1M385 94.3l0.9-0.7M385.1 278.9l-0.1 0M386 281.9l-0.9-3M386.4 278.3l-1.3 0.6M385.1 311.1l1.2 3.1M388.2 307.4l-3.1 3.7M385.3 75.8l-2.6 1.7l4.5 2.3M385.3 75.8l0.4-4.9l0.9-0.2M388.2 74.9l-2.9 0.9M385.5 88l3.2 0.3M386 84.9l-0.5 3.1M390.2 332.9l-4.6 2.7M385.6 283.9l0-1.2M385.6 282.7l0.4-0.8M385.6 283.9l2.7 2.7M386.7 291.4l-1-2.8M385.7 288.6l2.6-2M389.4 318.4l-3.7-1.3M385.7 317.1l0.3-2.4M388.6 234.3l-2.9 1.3M386.1 91l-0.2 2.6M389.5 93.1l-3.6 0.5M386.1 341.2l-0.1 0M386 314.7l0.3-0.5M386 84.9l4.1 0M386 84.9l-1-1.3l2.5-1.8M387 354.4l-1-1.6M386.6 351.2l-0.6 1.6M386 281.9l1.7-0.1M388.9 89.7l-2.8 1.3M389 345.6l-2.9-4.4M386.1 341.2l3.4-0.9M388 314.4l-1.7-0.2M387.3 251.1l-1-0.9M387.3 244.6l-1 5.6M392.6 273.4l-6.3-3.1M390.4 266.8l-4.1 3.5M386.4 299.3l0-0.3M388.2 294.3l-1.8 4.7M388.1 300.2l-1.7-0.9M388.5 279.1l-2.1-0.8M387.3 275.5l-0.9 2.8M386.7 230.9l-0.2-2.1M386.5 228.8l3.9-3.2M388.8 74.4l-2.2-3.7M386.6 70.7l1.7-2.2M387.5 262.7l-0.9 0.7M388.5 350.5l-1.9 0.7M386.7 291.4l0.1 1.8M386.7 291.4l1.9-0.8M386.7 252.9l2.9 4.5M387.3 251.1l-0.6 1.8M389.8 232.3l-3.1-1.4M386.8 293.2l1.4 1.1M387.3 275.5l-0.2-0.2M387.5 81.8l-0.3-2M387.2 79.8l0.2 0M387.3 251.1l1.1-0.1M387.3 244.6M387.3 244.6l1.5-4.8M389.3 244.8l-2-0.2M393.2 274.9l-5.9 0.6M392.6 80.3l-5.2-0.5M388.9 77.8l-1.5 2M387.5 61.5l3.3 2M387.5 61.5l-3.7 4l4.6 2.7M387.5 61.5l-0.1-0.2M387.5 262.7l3 2.9M387.6 260.8l-0.1 1.9M387.5 81.8l3.1 2.3M387.6 260.8l0-0.1M387.6 260.7l0.6-1.7M394 261.3l-6.4-0.5M387.7 281.8l3.1 4.4M388.8 280.6l-1.1 1.2M390.1 322l-2.3 0M389.4 318.4l-1.4-4M391.7 313.8l-3.7 0.6M388.1 300.2l0 7.1M392.7 299.8l-4.6 0.4M388.1 307.3l0.1 0.1M388.2 74.9l0.7 2.9M388.2 74.9l0.6-0.5M388.2 259l1.4-1.6M389.4 294.1l-1.2 0.2M390.2 307.7l-2-0.3M388.2 100.6l3.3 3.7l1.2-0.7M388.4 100.2l-0.2 0.4M388.3 286.6l1.2-0.1M388.3 68.5l2.5 5.6M388.4 68.2l-0.1 0.3M388.4 100.2l0-2M388.4 100.2l6.2-2.8M388.4 98.2l1.8-2.2M389.9 252.1l-1.5-1.1M388.4 251l1.3-1.4M389.2 67.8l-0.8 0.4M389.2 350.9l-0.7-0.4M389 345.6l-0.5 4.9M388.5 279.1l0.3 1.5M393.8 275.5l-5.3 3.6M388.6 239.1l0.2 0.7M390.4 237.6l-1.8 1.5M390.9 292.1l-2.3-1.5M388.6 290.6l0.9-4.1M390.4 237.6l-1.8-3.3M388.6 234.3l1.2-2M389.1 88.9l-0.4-0.6M390.1 84.9l-1.4 3.4M388.8 280.6l3.6 1.6M391.6 241.8l-2.8-2M388.8 74.4l1.9-0.3M393.1 79.1l-4.2-1.3M389.6 93l-0.7-3.3M389.1 88.9l-0.2 0.8M389 345.6l1.5 0.5M389.1 88.9l3.8 0.5M389.2 67.8l4.9 2.5M390.8 63.5l-1.6 4.3M389.3 244.8l1.2 1.4M389.3 244.8l2.4-2.5M389.4 294.1l3.3 5.7M390.1 293.6l-0.7 0.5M390.5 319.2l-1.1-0.8M390.8 286.2l-1.3 0.3M390.2 96l-0.7-2.9M389.6 93l-0.1 0.1M394.7 91.8l-5.1 1.2M389.9 257.2l-0.3 0.2M389.7 249.6l0.8-3.4M393.2 249.4l-3.5 0.2M393 230.8l-3.2 1.5M394.1 260.8l-4.2-3.6M392 255.4l-2.1 1.8M389.9 252.1l2.1 3.3M393.5 250.6l-3.6 1.5M390.1 84.9l0.3-0.3M390.8 326.9l-0.7-4.9M390.1 321.9l0 0.1M390.1 293.6l2.9 1.3M390.9 292.1l-0.8 1.5M390.5 319.2l-0.4 2.7M395.3 321.9l-5.2 0M394.6 97.2l-4.4-1.2M392.8 310.2l-2.6-2.5M393.1 303.2l-2.9 4.5M390.4 237.6l3.5 0M392.8 270.8l-2.4-4M390.4 266.8l0.1-1.2M390.4 84.6l0.8 0.9M390.4 84.6l0.2-0.5M390.4 225.6l1.6 0.3l1 4.9M390.8 318.7l-0.3 0.5M390.5 246.2l0.3 0M391.3 265.4l-0.8 0.2M390.6 84.1l1.3-1.2M390.7 74.1l2.9 4M390.7 74.1l0.1 0M393.4 248.8l-2.6-2.6M395.2 245l-4.4 1.2M394.1 70.3l-3.3 3.8M392.5 63.1l-1.7 0.4M391.8 286.2l-1 0M391.6 327.8l-0.8-0.9M390.8 318.7l0.9-4.9M390.8 318.7l5.5-0.6M394.1 288.3l-3.2 3.8M391.2 85.5l5.5 2.6M392.9 89.4l-1.7-3.9M395.7 267.8l-4.4-2.4M393.9 263.3l-2.6 2.1M391.6 327.8l0.2 1.2M392.7 327.1l-1.1 0.7M391.7 242.3l-0.1-0.5M393.6 238.7l-2 3.1M391.7 242.3l3.4 1.8M393.3 312.4l-1.6 1.4M394.1 288.3l-2.3-2.1M392.4 282.2l-0.6 4M391.9 82.9l6.2 3.3M392.6 80.3l-0.7 2.6M395.9 255.1l-3.9 0.3M395.6 276.7l-3.2 5.5M393 79.5l-0.4 0.8M393.2 274.9l-0.6-1.5M392.8 270.8l-0.2 2.6M396 65.9l-3.2-2.6M393.1 299.9l-0.4-0.1M392.7 103.6l6.1 0.6M392.7 103.6l2.1-5.6M392.8 310.2l0.5 2.2M394.4 309.2l-1.6 1M392.8 270.8l2.9-3M394.8 90.6l-1.9-1.2M394.7 232.2l-1.7-1.4M393 294.9l1.4 4.2M394.8 293.1l-1.8 1.8M399 83.7l-6-4.2M393.1 79.1l-0.1 0.4M393.1 299.9l0 3.3M393.1 299.9l1.3-0.8M393.1 79.1l0.5-1M393.1 303.2l2.8 1.4M393.8 275.5l-0.6-0.6M393.5 250.6l-0.3-1.2M393.2 249.4l0.2-0.6M395.7 314l-2.4-1.6M395.5 247.2l-2.1 1.6M395.8 253.4l-2.3-2.8M393.6 78.1l0.1-0.1M393.6 238.7l1.9 4.7M393.9 237.6l-0.3 1.1M395.8 69.8l-2.1 8.2M395.2 77.7l-1.5 0.3M395.6 276.7l-1.8-1.2M396 267.7l-2.1-4.4M394.4 262.6l-0.5 0.7M395.9 235.9l-2 1.7M394.4 262.6l-0.4-1.3M394.1 260.8l-0.1 0.5M394.1 70.3l1.7-0.5M395.9 257.6l-1.8 3.2M395.6 288.6l-1.5-0.3M394.4 223.3l5.6 3.8M394.4 299.1l1.4-0.3M394.4 262.6l0.4 0.1M395.9 304.6l-1.5 4.6M394.4 309.2l4.6-1.5M394.6 97.2l0 0.2M395.7 93.8l-1.1 3.4M394.8 98l-0.2-0.6M394.7 232.2l1.2 3.7M394.7 232.2l4.3-2.4M394.7 91.8l1 2M394.7 91.8l0.1-1.2M394.8 293.1l1.8 4.8M395.6 288.6l-0.8 4.5M394.8 262.7l4.9 3.1M394.8 262.7l3.9-2M394.8 90.6l1.9-2.5M398.7 99.9l-3.9-1.9M401.8 112.7l-6.8 1.5M395.2 245l-0.1-0.9M395.1 244.1l0.4-0.7M400.1 81.5l-4.9-3.8M396.6 76.6l-1.4 1.1M395.2 245l0.8 1.1M396.9 250.9l-1.4-3.7M395.5 247.2l0.5-1.1M400 239.6l-4.5 3.8M395.9 288.6l-0.3 0M395.6 276.7l0.4 0M398.5 94.1l-2.8-0.3M396 267.7l-0.3 0.1M396.3 318.1l-0.6-4.1M395.7 314l1.3-0.4M398.4 301.7l-2.6-2.9M396.6 297.9l-0.8 0.9M396.2 69.7l-0.4 0.1M396 254.9l-0.2-1.5M396.9 250.9l-1.1 2.5M395.9 288.6l2.9 2.6M395.9 288.6l3.4-3.7M398.9 237.4l-3-1.5M395.9 257.6l0-2.5M395.9 255.1l0.1-0.1M395.9 257.6l2.8 3.1M399.6 304.8l-3.7-0.2M396.2 267.7l-0.2 0M396 255l6.5 3.4M396 254.9l0 0.1M397.5 246.2l-1.5-0.1M399.3 284.9l-3.3-8.2M396 276.7l1.6-0.7M396 254.9l5.3-2.1M396 65.9l0.2 3.8M396 65.9l1.3-1M396.2 267.7l2.1 6.2M396.2 267.7l3.5-1.9M396.2 69.7l0.8 0.4M397.6 320l-1.3-1.9M402 125.4l-5.5-4.5M398.4 296.8l-1.8 1.1M401.5 76.6l-4.9 0M397.3 70.9l-0.7 5.7M396.7 147l7.3-2.7M396.7 88.1l1.3-1.2M399.3 249.2l-2.4 1.7M397 70.1l0.3 0.8M399.5 69.6l-2.5 0.5M397 313.6l5.3 0.1M397 313.6l2.3-5M406.7 124.9l-9.5-4.7M401.5 75.1l-4.2-4.2M397.5 246.2l1.8 3M397.5 246.2l1.4-0.7M403 207.1l-5.4-1.6M397.6 276l7.3 7.5M397.7 275.9l-0.1 0.1M397.7 275.9l0.6-2M397.7 275.9l4.9-0.4M402.4 90.6l-4.4-3.7M398 86.9l0.1-0.7M398.8 84.9l-0.7 1.3M401.7 267.7l-3.4 6.2M398.4 296.8l1.9 0.3M398.8 291.2l-0.4 5.6M398.4 301.7l1.2 3.1M398.4 301.7l2.2-1.5M399.8 96.8l-1.3-2.7M401.9 92.3l-3.4 1.8M398.7 260.7l2.3 1.1M400.1 102l-1.4-2.1M398.7 99.9l1.1-3.1M398.8 291.2l2.1 0.2M401.9 109.2l-2.8-1.4l-0.3-3.6M398.8 104.2l0.8-1.1M398.8 84.9l4.2 0.3M399 83.7l-0.2 1.2M398.9 245.5l3.7 1.3M398.9 245.5l1.8-5.2M400 239.6l-1.1-2.2M401.7 234.8l-2.8 2.6M400.1 81.5l-1.1 2.2M399 134.1l3.8 1M399 307.7l0.3 0.9M399 307.7l1.1-2.3M400 230.5l-1-0.7M400 227.1l-1 2.7M399.3 308.6l3.5 4.6M399.3 249.2l2.4 0.5M399.3 284.9l4.6-0.5M399.5 69.6l1.4-3.6M405 69.5l-5.5 0.1M404.9 106.2l-5.3-3.1M400.1 102l-0.5 1.1M399.6 304.8l0.5 0.4M399.7 265.8l0.3 0M404.2 96.5l-4.4 0.3M400 227.1l4.2-1.9M401.7 267.7l-1.7-1.9M400 265.8l1-4M400 230.5l4 0.3M401.7 234.8l-1.7-4.3M400.7 240.3l-0.7-0.7M400.1 81.5l1.7-1.5M400.1 102l2.8-1.1M400.1 305.4l4.6 4.3M400.1 305.2l0 0.2M402.1 304.1l-2 1.1M400.3 297.1l0.3 3.1M400.3 297.1l1.6-0.1M402.3 301l-1.7-0.8M400.7 129.7l0.6 0M400.7 240.3l0.2 0M402.4 155.3l-1.6-0.4M400.9 240.3l3.5 4.6M400.9 240.3l4.7-1.6M400.9 291.4l0.7 1.2M400.9 291.4l3-1.3M402 260.9l-1 0.9M401.3 252.8l1.7 1.5M401.3 252.8l0.4-3.1M401.3 129.7l1.8 0.6M401.3 129.7l0.7-4.3M401.8 77.2l-0.3-0.6M401.5 75.1l0 1.5M404.4 71.8l-2.9 3.3M401.6 292.6l2.6 1.8M401.6 292.6l0.3 4.4M401.7 234.8l2.1-0.9M401.7 249.7l0.2-0.2M403.2 268l-1.5-0.3M403.8 115.3l-2-2.6M401.8 112.7l0.1-3.5M401.8 80l0-2.8M401.8 77.2l4.1-0.6M401.8 80l2.5 1.1M403 297.2l-1.1-0.2M401.9 249.5l5.6 1.7M402.6 246.8l-0.7 2.7M401.9 92.3l2.4 4.1M401.9 92.3l0.5-1.7M401.9 109.2l2-0.4M402 125.4l4.4-0.2M402.1 317.3l0.2-3.6M402 260.9l4.4 1.7M402.5 258.4l-0.5 2.5M403.9 304.1l-1.8 0M402.4 301.2l-0.3 2.9M408.2 168.7l-5.9-2M405 174.9l-4.6-3.7l-0.7-1.2l2.6-3.3M402.3 166.7l-0.1-2.6l0.5-0.8M402.3 301l0.1 0.2M403 297.2l-0.7 3.8M402.3 313.7l0.5-0.5M402.4 90.6l3-1.3M405.9 300.1l-3.5 1.1M402.4 155.3l0.5 0.6M402.4 155.3l0.8-4.8M403.1 257.8l-0.6 0.6M402.6 246.8l1.8-1.9M402.6 275.5l3.5 2.9M404 273.4l-1.4 2.1M408.2 164l-5.5-0.7M403.7 158.8l-1 4.5M402.8 135.1l1.5 2.4M403.1 130.3l-0.3 4.8M402.8 313.2l1.1-0.5M402.9 100.9l0.6 0.3M402.9 100.9l1.3-4.4M402.9 155.9l0.8 2.1M402.9 155.9l6.2-4.3M405.7 89l-2.7-3.8M403 85.2l1.3-1.3M403.1 257.8l-0.1-3.5M403 254.3l3.9-1.7M405.2 210.9l-2.2-3.8M405.1 204.3l-2.1 2.8M404.3 297l-1.3 0.2M403.1 130.3l2.2-0.7M403.1 257.8l5.1-0.3M404 273.4l-0.8-5.4M403.2 268l1.5-0.3M403.2 150.5l-3.1-1.8l4.1-3M403.2 150.5l0.9-0.5M403.5 101.2l3.6 0.7M403.5 101.2l1.4 5M403.7 158l-0.1 0.2l0.1 0.6M403.7 158l2.8-0.5M403.7 158.8l5.7 3.7M403.8 233.9l2.3 1.2M403.8 233.9l0.2-3.1M403.8 115.3l-5.8 4.6l6.4 0.8M406.2 115.2l-2.4 0.1M404.7 290.5l-0.8-0.4M403.9 284.4l0 5.7M403.9 222.4l0.1 0.5M404.5 212.8l-0.3 0.1l-6.1 5.2l5.8 4.3M408 217.2l-4.1 5.2M407.7 114.6l-3.8-5.8M403.9 108.8l1.7-1.8M406.9 313.8l-3-1.1M403.9 312.7l0.8-3M403.9 284.4l0.8-0.6M403.9 304.1l1.9 4.6M405.2 303.7l-1.3 0.4M404 144.3l0 0.1M404.2 142l-0.2 2.3M404 144.4l7.2 2.2M404 144.4l0.2 1.3M404 273.4l2.7-0.5M404.2 225.2l-0.2-2.3M409.6 222.1l-5.6 0.8M404 230.8l1.2-1.8M409.1 151.6l-5-1.6M404.1 150l0.7-2.1M407.3 200.9l-3.2-3.3M404.1 197.6l-1.9 0.7l-0.8 2.8l3.7 3.2M404.1 197.6l2-2.8M412.5 143.1l-8.3-1.1M404.2 142l-1.2-2.4l1.3-2.1M404.8 147.9l-0.6-2.2M404.2 96.5l0.1-0.1M405 226.1l-0.8-0.9M404.2 294.4l0.1 2.6M405.1 292.9l-0.9 1.5M405.5 96.2l-1.2 0.2M407.2 298l-2.9-1M404.3 81.1l0 2.8M406.8 80.8l-2.5 0.3M404.3 137.5l2-0.7M407.4 85.9l-3.1-2M404.4 71.8l1.9 4.4M405 70.2l-0.6 1.6M404.4 244.9l3.6 0.2M404.4 120.7l2.4 4M405.2 119.8l-0.8 0.9M407.8 216.6l-3.3-3.8M404.5 212.8l0.5-0.9M404.7 290.5l0.4 2.4M408.1 290.4l-3.4 0.1M404.7 267.7l2.5 2.2M406.5 265.6l-1.8 2.1M408.1 289l-3.4-5.2M404.7 283.8l0.2-0.3M404.7 309.7l1.1-1M404.8 147.9l6.2-1.1M404.9 106.2l0.7 0.8M405.7 283l-0.8 0.5M405 226.1l0.4 1.3M405 226.1l6.3-1.4M405 211.9l7.1 0.2M405 211.9l0.2-1M405 69.5l0 0.7M405 69.5l0.4-0.7M405 174.9l-2.4 4.4l4.6 5.3M405 174.9l2.5-0.7M405.1 66.8l0.3 2M405 70.2l4.5 4.1M410.1 295.1l-5-2.2M406.5 204l-1.4 0.3M409.5 305.1l-4.3-1.4M405.2 303.7l0.7-3.6M411.6 120.9l-6.4-1.1M406.2 115.2l-1 4.6M405.2 229l4 4.2M405.4 227.4l-0.2 1.6M405.2 210.9l2.1-2M405.3 129.6l1.8 5.5M405.5 129.4l-0.2 0.2M411.7 229.4l-6.3-2M409 68.7l-3.6 0.1M405.4 89.3l1.6 5.7M405.4 89.3l0.3-0.3M405.5 129.4l5.5 1.5M405.5 129.4l0.9-4.2M405.5 96.2l2.3 3.5M406.9 95.3l-1.4 0.9M407.2 106.5l-1.6 0.5M405.6 238.7l2.4 6.4M405.9 238.4l-0.3 0.3M405.7 89l0.8-0.3M411.4 284.4l-5.7-1.4M406.2 279.7l-0.5 3.3M405.7 186.1l1 8.4M405.7 186.1l-2.7 1.1l-2 3l5.1 4.6M405.7 186.1l1.5-1.3M407.9 307.9l-2.1 0.8M406.9 80.5l-1-3.9M406.3 76.2l-0.4 0.4M407.2 298l-1.3 2.1M409.9 239.1l-4-0.7M405.9 238.4l0.2-3.3M408.4 234.2l-2.3 0.9M406.1 278.4l0.1 1.3M406.1 278.4l2.4-2.5M406.7 194.5l-0.6 0.3M406.2 115.2l1.5-0.6M406.2 279.7l4.4-0.4M406.3 136.8l5.8 3M406.3 136.8l0.8-1.7M409.6 75.5l-3.3 0.7M406.4 262.6l0.5 0.9M406.4 262.6l1.9-5.1M406.4 125.2l0.3-0.3M409.8 90.2l-3.3-1.5M406.5 88.7l0.9-2.8M406.5 265.6l4 1.5M406.5 265.6l0.4-2.1M406.5 204l1.1 1M407.3 200.9l-0.8 3.1M406.5 157.5l3.6 1M406.5 157.5l3.5-4.2M406.7 272.9l1.4 1.1M407.2 269.9l-0.5 3M406.8 124.7l-0.1 0.2M406.7 194.5l0.9 0M408.3 82.7l-1.5-1.9M406.9 80.5l-0.1 0.3M411.3 123.4l-4.5 1.3M406.9 315.1l0-1.3M408.7 313.5l-1.8 0.3M406.9 95.3l4.6 2.6M406.9 95.3l0.1-0.3M406.9 80.5l4.1-3.6M408.2 257.5l-1.3-4.9M406.9 252.6l0.6-1.4M406.9 263.5l4.5-0.7M407 95l2.3-1.8M407.8 102.8l-0.7-0.9M407.8 99.7l-0.7 2.2M407.1 135.1l4.3-3M407.2 184.8l0-0.2M407.2 184.6l3.7-5M407.2 184.8l1.8 1.2M407.2 298l3-0.5M408.3 114.6l-1.1-8.1M408.1 105.9l-0.9 0.6M407.2 269.9l2.2 0M407.6 205l-0.3 3.9M407.3 208.9l4.5-0.2M407.3 200.9l5.5-0.9M409 84.1l-1.6 1.8M409.4 249.5l-1.9 1.7M407.5 174.2l3.4 5.4M410.1 170.6l-2.6 3.6M407.6 194.5l5.4 3.4M407.6 194.5l3.7-4.7M408.8 204.9l-1.2 0.1M407.7 114.6l0.6 0M411.5 97.9l-3.7 1.8M407.8 216.6l0.2 0.6M407.8 216.6l4.3-4.5M408.1 105.9l-0.3-3.1M407.8 102.8l4.3-1.9M410.1 311.5l-2.2-3.6M409.5 305.1l-1.6 2.8M408 217.2l0.2 0.1M409.3 245.5l-1.3-0.4M408.1 290.4l0-1.4M408.1 289l3.3-4.6M408.1 290.4l2.4 1.8M408.5 275.9l-0.4-1.9M408.1 274l0.8-0.6M410.7 106.8l-2.6-0.9M408.2 257.5l0.1 0M408.2 164l0 4.7M409.4 162.5l-1.2 1.5M411.3 217.8l-3.1-0.5M408.2 217.3l1.4 4.8M410.1 170.6l-1.9-1.9M408.3 257.5l0.2 0.1M408.3 82.7l0.7 1.4M408.3 82.7l4-4M408.3 114.6l0.3 0.1M410.5 238.3l-2.1-4.1M409.2 233.2l-0.8 1M408.5 275.9l3 0.4M408.5 257.6l2.9 4.3M412.3 256l-3.8 1.6M411.6 120.7l-3-6M408.6 114.7l1.9-1.5M409.2 314.1l-0.5-0.6M410.1 311.5l-1.4 2M408.8 204.9l3 3.8M408.8 204.9l4.2-2.4M408.9 273.4l3.5 0M408.9 273.4l1.1-2.8M409 186M409 186l6.6-4M410 69.4l-1-0.7M409 68.7l0.7-0.9M409 84.1l1.8 0.2M411.3 189.8l-2.3-3.8M409 186l6.1-0.7M409.1 151.6l0.1 0M409.8 232.9l-0.6 0.3M409.2 151.6l0.8 1.7M409.2 151.6l1.3-2.7M410.1 247.6l-0.8-2.1M409.7 244.7l-0.4 0.8M409.9 93.6l-0.6-0.4M409.3 93.2l0.5-3M411.7 253.1l-2.3-3.6M410.1 247.6l-0.7 1.9M410 270.6l-0.6-0.7M410.5 267.1l-1.1 2.8M409.4 162.5l0.3-0.1M409.5 74.3l0.1 1.2M409.5 74.3l0.7-1.1M409.5 305.1l0.9-0.5M410.6 222.5l-1-0.4M411 76.9l-1.4-1.4M409.7 244.7l0.2-5.6M414.5 241.8l-4.8 2.9M412.1 166.8l-2.4-4.4M409.7 162.4l0.8-0.7M412.4 235l-2.6-2.1M411.1 231l-1.3 1.9M409.8 90.2l1-0.2M410.5 238.3l-0.6 0.8M409.9 93.6l2.9 0.3M411.7 97.9l-1.8-4.3M410 69.4l2.4 0.5M410 69.4l0.2 3.8M410 153.3l1.9 1.4M410 270.6l1.8 0.6M410.1 295.1l0.1 2M410.5 292.2l-0.4 2.9M410.5 161.7l-0.4-3.2M410.1 158.5l1.3-1.1M411.4 247.8l-1.3-0.2M410.5 170.5l-0.4 0.1M412 311.2l-1.9 0.3M410.2 297.5l1 1.3M410.2 297.1l0 0.4M410.2 73.2l2.7-1.5M417.9 292.5l-7.7 4.6M413.1 310.2l-2.7-5.6M411.4 303.4l-1 1.2M410.5 267.1l2.5-1.4M410.5 148.9l4 3.6M411 146.8l-0.5 2.1M414.1 289.2l-3.6 3M410.5 170.5l0.7 0.2M412.1 166.8l-1.6 3.7M414.3 161.9l-3.8-0.2M410.9 238.3l-0.4 0M410.7 106.8l-0.2 6.4M410.9 113.2l-0.4 0M411.3 224.7l-0.7-2.2M412.2 220l-1.6 2.5M410.6 279.3l1 5.1M410.6 279.3l0-0.1M410.6 279.2l3.8 0.9M411.5 276.3l-0.9 2.9M411.2 106.6l-0.5 0.2M412.9 93.1l-2.1-3.1M412.3 88.8l-1.5 1.2M412.8 85.7l-2-1.4M412.8 80l-2 4.3M410.9 238.3l4.1 1.7M410.9 238.3l1.7-2.4M410.9 179.6l2.9-0.2M410.9 113.2l5.1 2M413.7 111.3l-2.8 1.9M411 76.9l1.1 0.4M411 130.9l0.4 1.2M412.4 126.4l-1.4 4.5M411.2 146.6l-0.2 0.2M414.2 233.6l-3.1-2.6M411.7 229.4l-0.6 1.6M411.2 170.7l0.8 0.6M411.2 170.7l7.8-4M412.6 145.1l-1.4 1.5M414 108.4l-2.8-1.8M411.2 106.6l2-2.2M411.2 298.8l0.6 1.2M411.2 298.8l7.7-3.9M411.3 217.8l0.9 2.2M415.7 214.4l-4.4 3.4M411.3 189.8l3 0.9M411.3 123.4l1.1 3M411.3 123.4l0.2-0.3M413.9 226.5l-2.6-1.8M413.1 265.1l-1.7-2.3M411.4 262.8l0-0.9M411.4 284.4l0.2 0M414.3 161.3l-2.9-3.9M411.4 157.4l1-1.5M411.4 132.1l2.3 1.7M411.4 303.4l7.3 4.1M411.8 300l-0.4 3.4M411.4 247.8l4.2 3.4M417.7 246.1l-6.3 1.7M411.4 261.9l3.1-3M411.5 123.1l6.9 0.5M411.6 120.9l-0.1 2.2M412.3 276l-0.8 0.3M411.5 97.9l0.2 0M411.6 120.9l0-0.2M411.6 284.4l1.7 0.4M411.6 120.7l4.7-2.8M411.7 253.1l0.6 2.9M415.7 252l-4 1.1M413.3 228.1l-1.6 1.3M411.7 97.9l0.2 0M411.8 271.2l0.6 2.2M414.7 268.6l-2.9 2.6M411.8 208.7l1.8 0.4M411.8 300l4.5 0.4M411.9 97.9l0.6 1.6M413.5 95.9l-1.6 2M411.9 154.7l0.5 1.2M414.5 152.5l-2.6 2.2M412 311.2l0.7 1.5M413.1 310.2l-1.1 1M412 171.3l4.6 1M414.2 176.4l-2.2-5.1M414.7 211.2l-2.6 0.9M412.1 77.3l0.2 1.4M412.1 77.3l0.2-0.1M412.5 143l-0.4-3.2M412.1 139.8l2.5-4.3M412.1 100.9l1.1 3.5M412.1 100.9l0.4-1.4M415.8 163.3l-3.7 3.5M415.8 221.5l-3.6-1.5M412.3 88.8l2.3 1.2M412.8 85.7l-0.5 3.1M412.3 276l2.7 2.9M412.3 276l0.7-1.7M412.3 77.2l4.6 1.8M412.3 77.2l0.6-0.6M412.3 78.7l0.5 1.3M413.8 256.6l-1.5-0.6M415.1 157l-2.7-1.1M412.4 126.4l4.1 1.9M412.6 235.9l-0.2-0.9M414.2 233.6l-1.8 1.4M412.4 273.4l0.6 0.9M412.4 69.9l0.5 0.5M412.4 69.9l0.3-1M412.5 143.1l0.1 2M412.5 143.1l0-0.1M412.5 143l4.4-1.3M412.5 99.5l4 0.8M414.8 146.5l-2.2-1.4M416.6 237.3l-4-1.4M412.8 80l2.8 2M412.8 85.7l1.6-0.5M413 202.5l-0.2-2.5M412.8 200l0.5-1.1M413.5 95.9l-0.7-2M412.8 93.9l0.1-0.8M412.9 71.7l1 1.3M412.9 71.7l0-1.3M412.9 70.4l2.3-0.5M413.7 75l-0.8 1.6M412.9 76.6l6-0.4M414.7 91.9l-1.8 1.2M417.3 272.9l-4.3 1.4M413 265.7l1.7 2.7M413 265.7l0.1-0.6M413 197.9l0.3 1M413 197.9l2.8-6M414.2 204.5l-1.2-2M417.2 309.6l-4.1 0.6M413.1 265.1l3.2-1.9M413.2 104.4l2.8-0.1M414.1 289.2l-0.8-4.4M413.3 284.8M419.2 199.3l-5.9-0.4M413.3 284.8l1.1-4.7M413.3 284.8l6.6-1.3M413.3 228.1l3.1 3.8M413.3 228.1l0.6-1.6M413.5 95.9l2-0.3M413.6 209.1l1.1 2.1M413.6 209.1l0.6-4.6M413.7 133.8l0.9 1.7M416.8 129.1l-3.1 4.7M413.9 73l-0.2 2M413.7 75l4.8-1.2M413.7 111.3l3.1 0.3M413.7 111.3l0.3-2.9M415.8 180.6l-2-1.2M413.8 179.4l0.4-3M413.8 256.6l0.7 2.3M417.1 254.2l-3.3 2.4M415.4 225.5l-1.5 1M413.9 73l4.9-1.7M414 108.4l2.5-0.2M416.3 290.3l-2.2-1.1M422.1 204.2l-7.9 0.3M416.4 233.3l-2.2 0.3M414.2 176.4l2.9-1.7M415.8 191.9l-1.5-1.2M414.3 190.7l0.8-5.4M414.3 161.9l0-0.6M414.3 161.3l0.8-4.3M415.8 163.3l-1.5-1.4M415 278.9l-0.6 1.2M417.7 86.9l-3.3-1.7M415.6 82l-1.2 3.2M417.1 244.4l-2.6-2.6M415 240l-0.5 1.8M414.7 152.4l-0.2 0.1M414.5 258.9l1.3 0.8M414.6 90l0.1 1.9M417.7 89l-3.1 1M414.6 135.5l1.8 0M414.7 152.4l2.6 2.4M416.1 149.9l-1.4 2.5M414.7 268.4l0 0.2M414.7 268.4l6-3.1M414.7 91.9l1.9 1.3M414.7 268.6l2.3 2.7M415.3 211.6l-0.6-0.4M416.1 149.9l-1.3-3.4M419.1 146.2l-4.3 0.3M415.7 278.7l-0.7 0.2M416.7 238.4l-1.7 1.6M415.8 156.8l-0.7 0.2M415.1 185.3l0.6-0.6M415.3 211.6l0.4 2.8M418.5 210.2l-3.2 1.4M420.6 226.6l-5.2-1.1M415.4 225.5l0.4-4M415.5 95.6l1.6 3.4M415.5 95.6l0.5-0.4M415.6 251.2l0.1 0.8M419.6 247.2l-4 4M415.7 184.7l-0.1-2.7M415.8 180.6l-0.2 1.4M416.2 81.7l-0.6 0.3M417.2 309.6l-0.4 1.7M415.7 278.7l2 0.5M415.7 278.7l2-5.4M418.4 217.7l-2.7-3.3M417.3 185.7l-1.6-1M417.1 254.2l-1.4-2.2M415.8 191.9l2.4-0.4M418 218.9l-2.2 2.6M415.8 180.6l2-0.5M416.3 263.2l-0.5-3.5M419.5 258.8l-3.7 0.9M415.8 163.3l3.8 0.6M419.9 163.7l-4.1-6.9M415.8 156.8l1.7-1.3M416.3 117.9l-0.3-2.7M416 115.2l0.5-0.7M416.4 104.8l-0.4-0.5M416 104.3l1.2-2.8M419.3 96l-3.3-0.8M416.6 93.2l-0.6 2M418.4 151.1l-2.3-1.2M416.2 81.7l3.3 0.8M416.9 79l-0.7 2.7M416.3 300.4l2.4 7.1M416.3 300.4l3.1-1.1M416.3 117.9l2.5 0.9M416.3 290.3l1.6 2.2M416.3 290.3l4.4-3.8M419.3 264l-3-0.8M419.6 137.5l-3.2-2M417.3 134.3l-0.9 1.2M416.4 104.8l3.3 0.6M416.5 108.2l-0.1-3.4M417.2 234.8l-0.8-1.5M416.4 233.3l0-1.4M416.4 231.9l5.4-3.2M416.5 128.3l0.3 0.8M416.5 128.3l0.1-0.2M416.5 114.5l0.3-2.9M419.7 114.4l-3.2 0.1M416.5 108.2l0.4 0.4M416.5 100.3l0.7 1.2M416.5 100.3l0.6-1.3M416.7 238.4l-0.1-1.1M416.6 237.3l0.6-2.5M418.8 91.6l-2.2 1.6M418.8 124l-2.2 4.1M416.6 128.1l6.2-1.9M417.1 174.7l-0.5-2.4M419.5 170.4l-2.9 1.9M419.8 239.8l-3.1-1.4M418.4 129.9l-1.6-0.8M416.8 111.6M419.2 111.7l-2.4-0.1M416.9 108.6l-0.1 3M416.9 79l2.5-1.9M420.4 143.2l-3.5-1.5M416.9 141.7l2.9-3.9M416.9 108.6l2.5-0.4M417.3 272.9l-0.3-1.6M421.7 267l-4.7 4.3M417.1 254.2l0.8 0.1M417.1 99l1.2-0.7M417.7 246.1l-0.6-1.7M419.8 239.8l-2.7 4.6M420.4 177.3l-3.3-2.6M417.2 234.8l3.1-0.5M417.2 309.6l2.1-1.6M417.8 101.6l-0.6-0.1M417.7 273.3l-0.4-0.4M418.4 129.9l-1.1 4.4M420.1 132.7l-2.8 1.6M419.7 189.8l-2.4-4.1M417.3 185.7l3.4-2.2M417.5 155.5l-0.2-0.7M418.4 151.1l-1.1 3.7M420.7 156.3l-3.2-0.8M417.7 273.3l1.7 0.6M417.7 246.1l1.9 1.1M418.9 91.4l-1.2-2.4M418 87.7l-0.3 1.3M417.7 279.2l2.2 4.3M417.7 279.2l1.7-1.2M418 87.7l-0.3-0.8M417.7 86.9l2.4-3.5M417.8 180.1l2.9 3.4M420.4 177.3l-2.6 2.8M417.8 101.6l2.9 3M417.8 101.6l0.1-0.1M417.9 101.5l1.8-2.5M422.1 100.8l-4.2 0.7M417.9 254.3l1.8 4.4M417.9 254.3l1.2-0.7M417.9 292.5l0.9 0.7M418 218.9l3.3 5.5M418 218.9l0.4-1.2M418 87.7l3.2 0.1M419.9 195.7l-1.7-4.2M418.2 191.5l0.2-0.1M419.7 99l-1.4-0.7M418.3 98.3l1-2.3M419.2 129.9l-0.8 0M424.9 195.1l-6.5-3.7M419.7 189.8l-1.3 1.6M418.4 217.7l0.7-0.1M418.4 123.6l0.4 0.4M418.4 123.6l0.4-4.8M419.2 151l-0.8 0.1M418.5 210.2l6.7 3.4M418.5 210.2l3.7-5.9M418.5 73.8l0.4 2.4M418.8 71.3l-0.3 2.5M418.7 307.5l0.6 0.5M418.8 91.6l1.4 3.5M418.9 91.4l-0.1 0.2M418.8 124l3.9 1.2M418.8 118.8l1.5-0.5M418.8 293.2l0.1 1.7M423.1 291.2l-4.3 2M418.9 71.3l-0.1 0M419.4 77.1l-0.5-0.9M422.6 90.9l-3.7 0.5M418.9 294.9l1.1 2.2M419 166.7l0.5 3.7M419.6 163.9l-0.6 2.8M419.1 217.6l4 5M419.1 217.6l5.7-1.7M419.1 146.2l1.4 2M420.9 143.9l-1.8 2.3M419.1 253.6l4.7 1.2M421.1 247.5l-2 6.1M419.2 111.7l1 1.1M420.7 109l-1.5 2.7M420.9 154.6l-1.7-3.6M419.2 151l1.1-0.8M420.1 132.7l-0.9-2.8M419.2 129.9l3.7-1.6M422.1 204.2l-2.9-4.9M419.2 199.3l0.5-0.8M420.7 265.3l-1.4-1.3M419.5 258.8l-0.2 5.2M419.3 96l0.8-0.3M419.3 308l0.2 0M419.4 77.1l1.2 0.7M422.6 279.1l-3.2-1.1M419.4 273.9l0 4.1M419.4 273.9l3.8-0.4M419.4 108.2l1.3 0.8M419.4 108.2l0.3-2.8M419.4 299.3l3 4.3M420 297.1l-0.6 2.2M419.5 170.4l0.8 0.7M420.3 310.2l-0.8-2.2M419.5 308l3.2-2.2M419.5 82.5l0.6 0.9M420.6 77.8l-1.1 4.7M419.5 258.8l0.2-0.1M419.6 247.2l1.5 0.3M419.8 137.8l-0.2-0.3M419.6 137.5l2.2-4.3M419.6 163.9l0.3-0.2M419.7 105.4l1-0.8M419.7 198.5l0.2-2.8M419.7 198.5l5.4-1.4M421.3 117.2l-1.6-2.8M420.2 112.8l-0.5 1.6M421.2 99.2l-1.5-0.2M419.7 258.7l5.6-0.2M419.7 189.8l0.5-0.2M419.8 137.8l0.4 0.2M421.3 239.9l-1.5-0.1M419.9 283.5l1.2 0.4M419.9 195.7l5-0.6M420.7 163.4l-0.8 0.3M423.3 297l-3.3 0.1M420.1 83.4l2 0.4M421.8 133.2l-1.7-0.5M421.3 96.7l-1.2-1M420.2 95.1l-0.1 0.6M422.4 112.4l-2.2 0.4M420.2 189.6l6.1 3.5M423.6 185.9l-3.4 3.7M423.2 93l-3 2.1M420.2 138l0.5 1.2M420.2 138l3.3-0.8M422.1 235.8l-1.8-1.5M420.3 234.3l1.6-4.8M420.3 150.2l0.8 0.3M420.3 150.2l0.2-2M420.3 118.3l3.7 5.1M420.3 118.3l1-1.1M425.9 171.5l-5.6-0.4M420.3 171.1l0.2 6.2M420.4 177.3l0.1 0M420.4 143.2l0.5 0.7M420.4 143.2l0.3-4M420.5 148.2l3.9-0.7M420.5 177.3l3.2 0.2M420.6 226.6l1.3 2M421.3 224.4l-0.7 2.2M420.6 77.8M420.6 77.8l0.2 0.1M423 74.8l-2.4 3M421.9 109.1l-1.2-0.1M421.3 265.6l-0.6-0.3M422.3 184.2l-1.6-0.7M423.8 141.3l-3.1-2.1M420.7 286.5l2.5 4.7M420.7 286.5l0.4-2.6M422.1 157.8l-1.4-1.5M420.7 156.3l0.2-1.7M422.5 104.2l-1.8 0.4M420.7 163.4l0.6 0.2M420.7 163.4l1.4-5.6M420.8 77.9l3.3 3.7M425.8 77.6l-5 0.3M420.9 143.9l1.3 0.1M420.9 154.6l1.5-2.3M422.4 152.3l-1.3-1.8M421.1 150.5l4.5-1.3M421.1 283.9l1-0.5M421.7 247.3l-0.6 0.2M423.2 89.9l-2-2.1M421.2 87.8l1.4-3.1M422.1 100.8l-0.9-1.6M421.3 96.7l-0.1 2.5M424.8 96.2l-3.5 0.5M421.3 239.9l0.6 0.6M421.3 239.9l0.8-4.1M421.3 265.6l0.4 1.4M425.5 261.2l-4.2 4.4M421.3 224.4l1.8-1.8M422 116.9l-0.7 0.3M421.3 163.6l5.2 3.7M421.3 163.6l7-2.9M421.7 72.2l1.3 2.6M424.8 250.5l-3.1-3.2M422.2 246.5l-0.5 0.8M423.5 268.9l-1.8-1.9M421.8 228.7l0.1 0.8M421.8 228.7l0.1-0.1M422.4 133l-0.6 0.2M427.6 228l-5.7 0.6M424.9 234.7l-3-5.2M423.4 110l-1.5-0.9M421.9 109.1l0.6-4.9M422.2 246.5l-0.3-6M421.9 240.5l1.8-0.3M422 116.9l0.4-4.5M422 116.9l1.5 0M422.6 84.7l-0.5-0.9M424.1 81.6l-2 2.2M422.1 157.8l2.2-0.9M422.1 235.8l2.8-1.1M423.7 101.9l-1.6-1.1M422.1 283.4l2.1 1M423.2 280.2l-1.1 3.2M422.2 204.3l-0.1-0.1M424.4 147.5l-2.2-3.5M423 143.3l-0.8 0.7M422.2 246.5l4.3-1.7M422.2 204.3l1.1 0M422.3 184.2l1.3 1.7M422.3 184.2l1.4-6.7M422.4 303.6l0.3 2.2M424.6 299.6l-2.2 4M422.4 152.3l2.9-0.2M422.4 112.4M423.4 110.2l-1 2.2M422.4 133l1.3 0.8M422.4 133l0.5-4.7M425.8 115.1l-3.4-2.7M423.6 103.4l-1.1 0.8M422.6 90.9l0.6 2.1M423.2 89.9l-0.6 1M424.1 85.7l-1.5-1M422.6 279.1l0.6 1.1M423.2 273.5l-0.6 5.6M422.7 125.2l0.1 1M424 123.4l-1.3 1.8M426.3 306.4l-3.6-0.6M423.2 127.9l-0.4-1.7M423.2 127.9l-0.3 0.4M423 74.8l3.5 0M423 143.3l3.7 0.7M423.8 141.3l-0.8 2M423.1 222.6l1.7-0.8M424.4 296l-1.3-4.8M423.1 291.2l0.1 0M423.2 291.2l2-0.6M423.2 280.2l4.6-1.4M424.7 128.5l-1.5-0.6M425.6 95.1l-2.4-2.1M423.2 89.9l4.7 2M423.2 89.9M423.2 273.5l1.8-1.2M423.2 89.9l1.6-2.1M423.3 297l1.3 2.6M424.4 296l-1.1 1M423.3 204.3l2.9 7.9M423.3 204.3l2.5-1.3M423.4 110l0 0.2M423.4 110l1.9-1.8M425.1 111.4l-1.7-1.2M423.5 116.9l2.5 5.4M423.5 116.9l2.1-1.2M423.5 268.9l1.6 3.2M423.5 268.9l4.7-4.1M423.5 137.2l1 1.3M424.3 135.8l-0.8 1.4M423.6 103.4l0.1 0.2M423.7 101.9l-0.1 1.5M423.6 185.9l3.6 0M423.7 133.8l0.6 2M423.7 133.8l2.4-1.6M423.7 177.5l1-0.2M423.7 103.6l4.2 1.7M425.3 108.2l-1.6-4.6M424.8 101l-1.1 0.9M423.7 240.2l4.5 0.1M425.2 234.8l-1.5 5.4M423.8 141.3l0.6-0.4M423.8 254.8l1.5 3.7M424.8 250.5l-1 4.3M424 123.4l2-1.1M424.8 87.8l-0.7-2.1M426.6 84.3l-2.5 1.4M424.4 81.5l-0.3 0.1M426.7 286.4l-2.5-2M428.5 280.4l-4.3 4M424.3 156.9l3.5 0.8M424.3 156.9l1-4.8M427.4 135.6l-3.1 0.2M424.4 147.5l0.4 0.2M428.3 295.9l-3.9 0.1M424.4 140.9l2.8 0.7M424.4 140.9l0.1-2.4M425.7 82l-1.3-0.5M425.8 77.6l-1.4 3.9M427.6 138.7l-3.1-0.2M429.5 298.8l-4.9 0.8M428.5 179.8l-3.8-2.5M426 171.7l-1.3 5.6M424.7 128.5l1.4 3.7M424.7 128.5l2.7-0.2M426 307.5l0.3-1.1M429.4 88.1l-4.6-0.3M425.6 149.2l-0.8-1.5M424.8 147.7l1.9-3M424.8 96.2l0 4.8M429.6 100.5l-4.8 0.5M424.8 215.9l1.1 1.6M425.2 213.6l-0.4 2.3M427.1 224.4l-2.3-2.6M425.9 217.5l-1.1 4.3M427.6 250.5l-2.8 0M425.6 95.1l-0.8 1.1M425.2 234.8l-0.3-0.1M425 195.1l-0.1 0M425 272.3l2.8 6.5M425.1 272.1l-0.1 0.2M425.1 197.1l-0.1-2M425 195.1l1.3-2M425.1 197.1l2.2 4.5M426.2 271.8l-1.1 0.3M425.1 111.4l0.9 3.5M429.1 110.9l-4 0.5M425.2 213.6l1-1.4M428.4 295l-3.2-4.4M425.2 290.6l1.2-1.6M425.2 234.8l1 0M425.5 261.2l-0.2-2.7M425.3 258.5M428.2 257.2l-2.9 1.3M425.3 108.2l2.8-0.1M425.3 152.1l1.5-1.6M425.5 261.2l2 1.8M426.8 150.5l-1.2-1.3M425.6 95.1l1.4-0.4M425.6 115.7l2.1 2.2M425.6 115.7l0.2-0.6M425.7 82l0.9 1.9M428.7 80.3l-3 1.7M427.1 76.7l-1.3 0.9M429.1 207.7l-3.3-4.7M427.3 201.6l-1.5 1.4M426 114.9l-0.2 0.2M432.2 219.5l-6.3-2M425.9 171.5l0.1 0.2M426.5 167.3l-0.6 4.2M429.2 172.5l-3.2-0.8M426 122.3l1-0.2M426 114.9l3.5-1.9M427.5 132.8l-1.4-0.6M429.6 238.9l-3.4-4.1M428.5 230.5l-2.3 4.3M430.4 273.8l-4.2-2M429.9 268.4l-3.7 3.4M428.8 211.4l-2.6 0.8M426.3 193.1l0.1-0.1M427.4 306.5l-1.1-0.1M430.6 194l-4.2-1M427.2 185.9l-0.8 7.1M426.4 289l6.4 2.2M426.4 289l0.3-2.6M426.5 167.3l3.1-1.4M428.9 246.6l-2.4-1.8M426.5 244.8l1.7-4.5M427.1 76.7l-0.6-1.9M426.5 74.8l0.1-0.6M429.5 87.5l-2.9-3.2M426.6 83.9l0 0.4M429.2 82.6l-2.6 1.3M426.7 144l0 0.7M427.6 142.6l-0.9 1.4M430.4 147.4l-3.7-2.7M428.2 285.6l-1.5 0.8M426.8 150.5l1.3 0.1M427.9 123.1l-0.9-1M428.3 120.2l-1.3 1.9M429.8 98.5l-2.8-3.8M427.7 93.7l-0.7 1M427.6 228l-0.5-3.6M432.2 219.5l-5.1 4.9M427.1 76.7l2.4 1.4M427.2 141.6l0.4 1M428 139.3l-0.8 2.3M428.1 185.4l-0.9 0.5M427.3 201.6l1.3-0.2M427.4 135.6l0.2 3.1M428 134.9l-0.6 0.7M427.4 306.5l0.2 0.2M430.5 303l-3.1 3.5M428.5 131.8l-1.1-3.5M427.8 128.1l-0.4 0.2M428 134.9l-0.5-2.1M427.5 132.8l1-1M428.2 264.8l-0.7-1.8M427.5 263l3.4-1M427.6 142.6l3.2 0.7M427.6 250.5l0.7 1M427.6 250.5l1.8-2.5M428 139.3l-0.4-0.6M427.9 228.1l-0.3-0.1M427.7 117.9l0.6 2.3M427.7 117.9l2.5-2.4M427.7 93.7l3.3 0.5M427.9 91.9l-0.2 1.8M427.8 157.7l1.1 1.2M427.8 157.7l1.5-4.3M427.8 128.1l3.4 2.4M429.1 126.4l-1.3 1.7M427.8 278.8l0.2 0.1M427.9 105.3l0.2 2.8M427.9 105.3l1.1-1.1M428.1 228.5l-0.2-0.4M430.9 225.5l-3 2.6M429.1 125.1l-1.2-2M427.9 123.1l6.1-0.5M427.9 91.9l1.6-2.5M428.9 139.2l-0.9 0.1M428 134.9l1.3 0.2M428.3 279.1l-0.3-0.2M430.6 274.2l-2.6 4.7M428.1 185.4l2.3 0.9M428.1 185.4l0.4-5.6M429.3 109.1l-1.2-1M435.4 228.8l-7.3-0.3M428.5 230.5l-0.4-2M429.3 153.4l-1.2-2.8M429 149.9l-0.9 0.7M429.1 239.7l-0.9 0.6M434.7 286.9l-6.5-1.3M429.3 282l-1.1 3.6M428.2 257.2l3.3 0.9M428.2 257.2l0.1-0.2M430.2 266.9l-2-2.1M428.3 257l0-5.5M432.2 252.6l-3.9 4.4M428.5 280.4l-0.2-1.3M430.7 278.6l-2.4 0.5M428.3 295.9l1.2 2.9M428.3 295.9l0.1-0.9M429.6 165.9l-1.3-5.2M428.3 160.7l0.6-1.8M428.3 120.2l2.9-0.7M432.2 252.6l-3.9-1.1M428.4 295l4.4-3.8M428.5 131.8l2.3-0.6M431.3 232.8l-2.8-2.3M429.3 282l-0.8-1.6M430.8 178.6l-2.3 1.2M428.6 201.4l1.9 0.4M430.6 194l-2 7.4M429.2 82.6l-0.5-2.3M428.7 80.3l0.8-2.2M428.8 211.4l2.9 0.3M428.8 211.4l0.3-3.7M428.9 139.2l2.6 3.2M431.2 137.9l-2.3 1.3M429.4 248l-0.5-1.4M431.1 243.7l-2.2 2.9M428.9 158.9l0.8 0M429 104.2l2 1.5M429.9 100.8l-0.9 3.4M429 149.9l4.7 1.6M430.4 147.4l-1.4 2.5M429.1 125.1l0 1.3M433.3 124.4l-4.2 0.7M429.1 126.4l1.9 1M430.4 207l-1.3 0.7M429.1 110.9l0.5 1.8M429.1 110.9l0.2-1.8M431.1 243.7l-2-4M429.6 238.9l-0.5 0.8M432 174.4l-2.8-1.9M433.4 166.6l-4.2 5.9M429.2 82.6l2 2M435.4 283.2l-6.1-1.2M429.3 135.1l1.9 2.8M429.3 135.1l1.8-1.2M429.3 153.4l1.2 0.5M430.8 108.4l-1.5 0.7M429.4 248l1.6 0.1M429.5 88.2l-0.1-0.1M429.4 88.1l0.1-0.6M429.5 89.4l1.2 1M429.5 88.2l0 1.2M430.2 115.5l-0.7-2.5M429.5 113l0.1-0.3M429.5 88.2l4.2 0.2M429.5 298.8l1.1 1.2M429.5 78.1l0.8-0.1M429.5 87.5l1.7-2.9M429.6 112.7l2.7 0.1M429.6 165.9l3.5 0.4M429.6 100.5l0.3 0.3M429.6 100.5l0.2-2M431.9 237.9l-2.3 1M433.8 163.2l-4.1-4.3M429.7 158.9l1.7-0.9M429.8 98.5l1.3-1.2M429.9 100.8l1.6 0.5M429.9 268.4l2.9 2.4M429.9 268.4l0.3-1.5M431.5 116.7l-1.3-1.2M430.2 266.9l1.6-0.7M431.3 146.7l-0.9 0.7M430.4 273.8l0.2 0.4M430.9 273.3l-0.5 0.5M430.4 186.3l2.2 6.9M433.9 185.6l-3.5 0.7M430.6 78.3l2.3 3.8M432.3 211l-1.9-4M430.4 207l0.6-0.6M430.5 303l2 1.8M430.7 302.6l-0.2 0.4M430.5 153.9l2.2 0.1M431.6 157.6l-1.1-3.7M431 206.4l-0.5-4.6M434.9 201.6l-4.4 0.2M430.6 194l2-0.8M431.4 274.7l-0.8-0.5M430.6 300l0.1 2.6M434.6 297.3l-4 2.7M433.6 278.9l-2.9-0.3M431.4 274.7l-0.7 3.9M437.2 303l-6.5-0.4M433.8 91.3l-3.1-0.9M430.7 90.4l1.4 3.4M430.8 178.6M432 174.4l-1.2 4.2M431.1 133.9l-0.3-2.7M430.8 131.2l0.3-0.5M433.3 109.1l-2.5-0.7M430.8 108.4l0.7-2M430.8 178.6l0.6 0.3M436.4 177.2l-5.6 1.4M431.3 145.9l-0.5-2.6M430.8 143.3l0.7-0.9M432.8 270.8l-1.9 2.5M434.9 273l-4 0.3M434.8 226.1l-3.9-0.6M430.9 225.5l1.9-6M430.9 262l0.9 4.2M430.9 262l1-0.6M434.6 251.1l-3.6-3M431 248.1l2.4-3.2M431.5 106.4l-0.5-0.7M431 105.7l0.8-4.2M431 127.4l0.8 2.3M433.4 126l-2.4 1.4M434.2 208.7l-3.2-2.3M431.1 97.3l-0.1-3.1M431 94.2l1.1-0.4M433.4 244.9l-2.3-1.2M431.1 97.3l3.7-1M433.3 132.1l-2.2-1.4M431.2 130.5l-0.1 0.2M433.4 134.7l-2.3-0.8M431.2 119.5l2.2 1.2M431.2 119.5l0.3-2.8M431.2 130.5l0.6-0.8M431.2 137.9l2.2 0.4M431.2 84.6l1.8-0.8M431.3 146.7l1.4 0.4M431.3 146.7l0-0.8M431.9 237.9l-0.6-5.1M436.8 230.3l-5.5 2.5M434.9 143.9l-3.6 2M431.4 178.9l4.4 0.9M431.4 178.9l3.4 4.4M431.4 158l3.5 1.1M431.4 158l0.2-0.4M433.3 275.3l-1.9-0.6M431.8 142.2l-0.3 0.2M433.9 104.9l-2.4 1.5M431.5 101.3l0.3 0.2M435 96.5l-3.5 4.8M431.5 258.1l0.4 3.3M431.5 258.1M431.5 258.1l4.2 2.8M431.5 258.1l0.2-0.1M431.5 116.7l1.9-0.8M431.6 157.6l1.2-1.6M431.7 258l7.1 1.4M435 254.1l-3.3 3.9M434.6 216.5l-2.9-4.8M431.7 211.7l0.6-0.7M431.8 129.7l1.1-0.3M431.8 266.2l1.9-0.6M431.8 101.5l1.2 0.5M434.9 143.9l-3.1-1.7M431.8 142.2l1.7-2.4M434.3 238.1l-2.4-0.2M433.1 262.1l-1.2-0.7M432.9 173.9l-0.9 0.5M433.6 94l-1.5-0.2M434.3 252.2l-2.1 0.4M432.8 219.5l-0.6 0M434.2 208.7l-1.9 2.3M434.4 113.7l-2.1-0.9M432.3 112.8l1-3.7M435.3 79.8l-0.5-0.4M434.3 193.7l-1.7-0.5M432.7 147.1l2.5 3M432.7 147.1l3.4-1.3M432.8 156l-0.1-2M433.7 153.2l-1 0.8M432.8 219.5l1.5-0.5M432.8 156l2 0.4M432.8 291.2l0.7-0.2M432.8 270.8l1.5 0.2M433 83.8l-0.1-1.7M435.3 79.8l-2.4 2.3M436 175.2l-3.1-1.3M432.9 173.9l2.1-4.8M433.6 129.6l-0.7-0.2M433.7 126.4l-0.8 3M434.3 84.3l-1.3-0.5M433.9 104.9l-0.9-2.9M433 102l2.7-1.1M433.1 262.1l0.6 3.5M435.7 260.9l-2.6 1.2M433.4 166.6l-0.3-0.3M433.1 166.3l0.7-3.1M433.9 276.7l-0.6-1.4M434.9 273l-1.6 2.3M433.3 109.1l1.1 0M433.9 134l-0.6-1.9M434.2 131.3l-0.9 0.8M433.3 124.4l0.1 1.6M434.1 122.9l-0.8 1.5M433.6 138l-0.2-3.3M433.4 134.7l0.5-0.7M433.4 166.6M435 169l-1.6-2.4M433.4 166.6l5.6-2.3M433.5 139.8l-0.1-1.5M433.4 138.3l0.2-0.3M433.4 126l0.3 0.4M435.4 118.6l-2-2.7M433.4 115.9l1-2.2M434.1 244.8l-0.7 0.1M434 122.6l-0.6-1.9M435.4 118.6l-2 2.1M434.6 297.3l-1.1-6.3M434.4 290l-0.9 1M436.3 141.9l-2.8-2.1M435.5 281.5l-1.9-2.6M433.9 276.7l-0.3 2.2M434.2 131.3l-0.6-1.7M436.6 129l-3 0.6M435.3 137.7l-1.7 0.3M434.8 96.3l-1.2-2.3M434.4 92.1l-0.8 1.9M433.7 151.5l0 1.7M435.2 150.1l-1.5 1.4M433.7 88.4l0.4 0.3M433.7 88.4l0.6-4.1M433.7 153.2l2.5 1.5M433.7 126.4l3.1 1.6M436.2 266.4l-2.5-0.8M433.8 91.3l0.6 0.8M434.1 88.7l-0.3 2.6M433.8 163.2l1.8-2.3M435 186.3l-1.1-0.7M433.9 185.6l0.9-2.3M438.9 275.3l-5 1.4M433.9 134l3.6-1.1M436.4 106.4l-2.5-1.5M434.1 122.9l-0.1-0.3M434.1 122.9l0.8 0.1M436.9 88.4l-2.8 0.3M437.3 246.3l-3.2-1.5M434.3 238.1l-0.2 6.7M437.2 131.6l-3-0.3M434.8 208.3l-0.6 0.4M436 237.7l-1.7 0.4M434.3 84.3l1.2 0M434.3 271l1 1.4M434.3 271l1.9-4.6M434.3 219l1.3 3.4M434.5 218.8l-0.2 0.2M435.8 199.6l-1.5-5.9M434.8 193.4l-0.5 0.3M434.3 252.2l0.7 1.9M434.6 251.2l-0.3 1M435.4 111.1l-1-2M434.4 109.1l2-2.7M437 291.6l-2.6-1.6M434.8 287.5l-0.4 2.5M436.9 91.4l-2.5 0.7M434.4 113.7l0.1 0M437 114.7l-2.5-1M434.5 113.7l0.9-2.6M437.1 218.9l-2.6-0.1M434.5 218.8l0.1-2.3M434.6 216.5l4.9-4.7M438.6 298.1l-4-0.8M434.6 251.2l0-0.1M434.6 251.1l2.7-4.8M440.2 251.6l-5.6-0.4M434.8 287.5l-0.1-0.6M435.6 283.8l-0.9 3.1M434.8 96.3l0.2 0.2M435 186.3l-0.2 7.1M437.8 192.3l-3 1.1M434.8 183.3l0.8-0.7M435.4 228.8l-0.6-2.7M434.8 226.1l0.8-3.7M441.4 288.5l-6.6-1M434.9 159.1l-0.1-2.7M434.8 156.4l1.4-1.7M434.8 208.3l4.6 3.5M435.8 205.7l-1 2.6M434.9 159.1l0.8 0.9M435.9 203.1l-1-1.5M435.8 199.6l-0.9 2M435.3 272.4l-0.4 0.6M435.4 144l-0.5-0.1M434.9 123l2.6 4.4M434.9 123l4.7-0.7M438.6 173.8l-3.6-4.7M435 169.1l0-0.1M441.2 168.5l-6.2 0.5M437.5 186.9l-2.5-0.6M435 254.1l2.6 1.8M435 96.5M435 96.5l0.7 4.4M435.8 96.3l-0.8 0.2M435.2 150.1l1.2-0.2M437.2 80.1l-1.9-0.3M439 141.4l-3.7-3.7M435.3 137.7l2.2-1.2M436.7 272.8l-1.4-0.4M435.4 118.6l2.3-0.6M436.8 230.3l-1.4-1.5M435.4 111.1l2.1-0.2M435.4 144l0.7 1.6M435.4 144l0.9-2.1M435.4 283.2l0.2 0.6M435.5 281.5l-0.1 1.7M435.5 281.5l4.5-4.5M436.9 88.4l-1.4-4.1M435.5 84.3l3.3-2M438.8 162.8l-3.2-1.9M435.6 160.9l0.1-0.9M435.6 222.4l4.6 2.6M435.8 179.8l-0.2 2.8M439.1 182.5l-3.5 0.1M440 283.8l-4.4 0M435.7 260.9l2.9-0.5M435.7 160l2.2-1.5M436.2 101l-0.5-0.1M437.3 178.5l-1.5 1.3M440.6 198l-4.8 1.6M439.3 207.6l-3.5-1.9M435.9 203.1l-0.1 2.6M439.7 100.2l-3.9-3.9M437.4 95.3l-1.6 1M441.6 204l-5.7-0.9M436 175.2l0.4 2M436 175.2l2.6-1.4M436 237.7l4.7 2.4M437.2 230.5l-1.2 7.2M437.6 147.9l-1.5-2.1M436.1 145.8l0-0.2M439.7 143.6l-3.6 2M436.8 106.3l-0.6-5.3M439.6 100.8l-3.4 0.2M436.2 266.4l0.6-0.2M436.2 154.7l0.3 0M436.3 141.9l2.7-0.5M436.8 106.4l-0.4 0M436.4 177.2l0.9 1.3M436.4 149.9l1.5 1.9M436.4 149.9l1.2-2M437.9 158.5l-1.4-3.8M437.4 154l-0.9 0.7M437.2 131.6l-0.6-2.6M436.6 129l0.2-1M438.7 274.1l-2-1.3M436.7 272.8l1.3-3.4M437.3 107.2l-0.5-0.8M436.8 106.4l0-0.1M437.2 230.5l-0.4-0.2M436.8 266.2l0.7 1.4M436.8 266.2l1.9-1.8M437.1 303.5l0.1-0.5M439.1 104.8l-2.3 1.5M436.8 128l0.7-0.6M437.5 88.9l-0.6-0.5M436.9 91.4l1.1 1.6M437.5 88.9l-0.6 2.5M437 114.7l1.4 1.2M437 114.7l1-3.5M438.9 294.2l-1.9-2.6M441 290.6l-4 1M437.1 218.9l2.8 3.3M437.1 218.9l3.4-0.3M437.2 303l1-0.8M438.8 82.3l-1.6-2.2M437.2 80l0 0.1M437.2 230.5l2.7-0.7M437.2 131.6l0.5 0.9M438 246l-0.7 0.3M437.3 178.5l3.6 0.7M440.7 109.4l-3.4-2.2M437.5 110.9l-0.2-3.7M438.8 154.6l-1.4-0.6M437.9 151.8l-0.5 2.2M437.4 95.3l1.8 0.8M438 93l-0.6 2.3M437.5 186.9l0.3 5.4M438.2 186.6l-0.7 0.3M440 88.2l-2.5 0.7M438 127.2l-0.5 0.2M437.5 132.9l0.1 0.4M437.5 132.9l0.2-0.4M437.5 267.6l4.7 2.7M438 269.4l-0.5-1.8M438 111.2l-0.5-0.3M439.9 138.1l-2.4-1.6M437.5 136.5l0.1-3.2M437.6 255.9l1.2 3.5M438.8 254.8l-1.2 1.1M437.6 133.3l3.1 2.7M437.7 147.9l-0.1 0M441.6 149.2l-3.9-1.3M438.9 146.5l-1.2 1.4M437.7 118l1.9 4.3M437.7 118l0.6-1.2M437.7 132.5l1-0.2M438 192.3l-0.2 0M441.1 151.5l-3.2 0.3M440.4 158.5l-2.5 0M441 129.6l-3-2.4M439.9 125l-1.9 2.2M438 269.4l2.9 2.1M438 111.2l2.2 0M438 246l3.4 3.9M440.4 242.6l-2.4 3.4M438 192.3l3.3 3.9M438 192.3l3.5-1.8M438 93l4.4-0.4M438.2 186.6l3.2 0.7M438.2 186.6l0.9-4.1M438.2 302.2l0.7 0.8M439.4 298.9l-1.2 3.3M443.1 118.5l-4.8-1.7M438.4 115.9l-0.1 0.9M441.3 113.6l-2.9 2.3M438.6 173.8l4.1 0.5M438.6 298.1l0.8 0.8M438.6 298.1l0.3-3.9M438.6 260.4M438.8 259.5l-0.2 0.9M438.6 260.4l8.4 3M438.7 264.4l-0.1-4M439.3 264.7l-0.6-0.3M438.7 132.3l2.8 2.5M439.7 131.7l-1 0.6M438.7 274.1l0.2 1.2M438.7 274.1l2.2-2.6M438.8 259.4l0 0.1M440.4 158.5l-1.6-3.9M442.6 153.7l-3.8 0.9M439.1 82.4l-0.3-0.1M439 164.3l-0.2-1.5M438.8 162.8l3.3-3.6M440.2 251.6l-1.4 3.2M438.8 254.8l3.1-0.4M438.8 259.5l4.7-1.8M442.1 292.7l-3.2 1.5M442.1 146.6l-3.2-0.1M439.7 143.6l-0.8 2.9M440 277l-1.1-1.7M439 164.3l1.4 1M439.1 141.4l-0.1 0M440.4 83.3l-1.3-0.9M439.1 82.4l0.9-1.8M442.5 107.4l-3.4-2.6M439.1 104.8l1.2-2.8M439.1 182.5l2-1.6M439.1 141.4l0.6 2.2M440.7 139.6l-1.6 1.8M440.6 98.3l-1.4-2.2M439.2 96.1l3.4-2.9M439.3 207.6l0.1 4.2M439.3 207.6l2-1.4M443.1 269.4l-3.8-4.7M439.3 264.7l7.5-0.5M439.4 298.9l4.8-0.1M439.5 211.8l-0.1 0M440.1 211.9l-0.6-0.1M440.2 122.7l-0.6-0.4M440.3 102l-0.7-1.2M439.7 100.2l-0.1 0.6M439.7 143.6M442 144.9l-2.3-1.3M443.4 132.8l-3.7-1.1M439.7 131.7l1.3-2.1M440.6 98.7l-0.9 1.5M440.7 139.6l-0.8-1.5M439.9 138.1l0.8-2.1M440.4 224.6l-0.5-2.4M439.9 222.2l1.3-2.5M439.9 229.8l1.2 0.8M439.9 229.8l0.9-2.7M442.2 127.4l-2.3-2.4M439.9 125l0.3-2.3M440 277l1.3 0.5M440 283.8l2.4 3.3M440 283.8l1.5-1.3M440 88.2l2.7 1.8M440 88.2l0.4-4.9M442.5 213.8l-2.4-1.9M440.1 211.9l2-2.8M440.8 227.1l-0.6-2.1M440.2 225l0.2-0.4M440.2 111.2l1.1 2.4M440.2 111.2l0.5-1.8M440.2 251.6l0.9-0.6M440.2 122.7l1.8-0.6M441.1 102.2l-0.8-0.2M441.2 168.5l-0.8-3.2M443.4 162.4l-3 2.9M440.4 224.6l2.4-3M440.4 242.6l3.6 3.5M440.7 240.8l-0.3 1.8M442.1 158.9l-1.7-0.4M440.4 83.3l1.5-0.1M440.5 218.6l0.7 1.1M442.7 216.1l-2.2 2.5M440.6 98.7l0-0.4M440.6 98.3l2.8-3.9M443.1 98.6l-2.5 0.1M440.6 198l0.9 1M440.6 198l0.7-1.8M442.1 139.6l-1.4 0M440.7 109.4l1.6-1.2M440.7 240.8l6.3 3.5M440.7 240.8l0-0.7M440.7 240.1l3.9-2.9M441.5 134.8l-0.8 1.2M440.8 227.1l6-2.2M440.9 179.2l0.2 1.7M442.9 175.5l-2 3.7M440.9 271.5l0.9-0.6M441.2 129.6l-0.2 0M442.1 292.7l-1.1-2.1M441.4 288.5l-0.4 2.1M441.1 230.6l3.5 6.3M441.1 230.6l7.3-1.8M442.1 181.8l-1-0.9M441.1 102.2l2.4 0.3M441.1 102.2l1.6 5M441.1 151.5l1.5 2.2M441.6 149.2l-0.5 2.3M442.4 252.8l-1.3-1.8M441.1 251l0.3-1.1M441.2 168.5l2.8 1.9M444.3 132.1l-3.1-2.5M441.7 128.9l-0.5 0.7M442.8 221.6l-1.6-1.9M441.3 206.2l0.9 2.1M441.6 204l-0.3 2.2M441.3 196.2l2.4-1.3M441.3 277.5l0.2 0.2M441.3 277.5l2.5-3M441.3 113.6l1.2 0.2M441.9 188.1l-0.5-0.8M441.4 187.3l0.4-1.2M443.5 249.1l-2.1 0.8M441.4 288.5l0.7-0.6M441.5 282.5l1.2 0.2M441.5 277.7l0 4.8M441.5 190.5l1.8 1.5M441.9 188.1l-0.4 2.4M445.8 279l-4.3-1.3M442.6 134.7l-1.1 0.1M441.5 199l4.3 0.4M442.2 203.7l-0.7-4.7M441.6 149.2l1-1M441.6 204l0.6-0.3M441.7 128.9l4 1.3M442.2 127.4l-0.5 1.5M442.1 181.8l-0.3 4.3M446.2 185l-4.4 1.1M443.8 274.5l-2-3.6M441.8 270.9l0.4-0.6M444.2 86.3l-2.3-3.1M441.9 83.2l0.7-0.4M441.9 254.4l1.6 3.3M441.9 254.4l0.5-1.6M441.9 188.1l4-0.1M444.9 126.3l-2.9-4.2M442 122.1l0.9-0.8M442.1 146.6l-0.1-1.7M443.5 144l-1.5 0.9M442.1 159.2l0-0.3M443.4 157.5l-1.3 1.4M442.6 148.2l-0.5-1.6M446.2 183l-4.1-1.2M443.4 162.4l-1.3-3.2M442.1 139.6l1.4 4.4M444.5 138.7l-2.4 0.9M442.1 209.1l3.5 0.7M442.1 209.1l0.1-0.8M444.5 293.6l-2.4-0.9M445.6 290.7l-3.5-2.8M442.4 287.1l-0.3 0.8M443 269.6l-0.8 0.7M442.2 203.7l3.5 0.2M442.2 208.3l4.2-1.7M442.2 127.4l2.7-0.6M444 109.7l-1.7-1.5M442.5 107.4l-0.2 0.8M442.4 92.6l0.2 0.6M442.9 90.4l-0.5 2.2M445 253.1l-2.6-0.3M442.4 287.1l3.1-1.8M442.7 107.2l-0.2 0.2M443.9 117.3l-1.4-3.5M443 113.5l-0.5 0.3M442.5 213.8l0.2 2.3M446 212.1l-3.5 1.7M443.9 136.5l-1.3-1.8M442.6 134.7l0.8-1.9M443.4 94.4l-0.8-1.2M442.6 148.2l0.3 0.1M442.6 82.8l0.1-0.9M443.7 82.5l-1.1 0.3M442.6 153.7M444.6 152.1l-2 1.6M442.6 153.7l1.1 3.1M445.5 285.3l-2.8-2.6M446 280.1l-3.3 2.6M442.7 90l0.2 0.4M442.7 90l1.5-3.7M442.7 174.3l0.2 1.2M444 170.4l-1.3 3.9M444.2 106l-1.5 1.2M445.8 217.8l-3.1-1.7M442.8 221.6l3.5 0.4M446.2 90.1l-3.3 0.3M446.2 177.1l-3.3-1.6M442.9 121.3l2.5 0.3M442.9 121.3l0.2-2.8M442.9 148.3l2.2 2.1M442.9 148.3l3.7-1.9M443 269.6l3.4 2.6M443.1 269.4l-0.1 0.2M443 113.5l1-3.8M443 113.5l2.4-0.4M447 265.5l-3.9 3.9M443.1 98.6l1.7 0.8M443.1 98.6l0.7-3.9M443.9 117.3l-0.8 1.2M443.3 192l0.4 2.9M447.2 189.9l-3.9 2.1M443.8 94.7l-0.4-0.3M444.3 132.1l-0.9 0.7M447.6 160.5l-4.2-3M443.4 157.5l0.3-0.7M445.2 163.6l-1.8-1.2M443.5 257.7M443.5 102.5l0.8 0.8M444.8 99.6l-1.3 2.9M443.5 257.7l5.1 2.2M445 253.1l-1.5 4.6M443.5 249.1l0.4 0.1M444 246.1l-0.5 3M443.5 144l0.8 0M445.5 195.5l-1.8-0.6M443.7 156.8l2.8-0.8M443.8 274.5l2.6-0.6M445.3 95.3l-1.5-0.6M443.9 249.2l2.7 3.1M443.9 249.2l3.5-1.3M446.5 117.1l-2.6 0.2M444.5 138.7l-0.6-2.2M443.9 136.5l2.1-3M444 170.4l1.2-0.6M445.4 109.8l-1.4-0.1M444 246.1l2.1-0.3M444.2 298.8l1.1 3.9M445 297.7l-0.8 1.1M444.2 86.3l1.9-0.4M446.4 106.9l-2.2-0.9M444.2 106l0.1-2.7M444.3 144l2.1 1.7M444.3 144l2.2-3.9M444.3 132.1l1.1-0.3M444.3 103.3l4.6-0.4M444.5 293.6l1 2.8M444.5 293.6l1.1-2.9M444.5 138.7l1.4 0.3M444.6 152.1l2.7 0.8M445.1 150.4l-0.5 1.7M444.6 237.2l4.1 2M444.6 237.2l0-0.3M444.6 236.9l3.9-5.3M444.8 99.4l0 0.2M444.8 99.4l0.9-1.5M444.8 99.6l3.6 1.6M444.9 126.8l1.6 1.8M444.9 126.8l0-0.5M444.9 126.3l2.2-2.9M445 253.1l1.6-0.8M445 297.7l10.1 3.7M445 297.7l0.5-1.3M445.1 150.4l2-0.5M452.4 170.5l-7.2-0.7M445.2 169.8l0.4-3.6M445.6 166.2l-0.4-2.6M445.2 163.6l2.9-1.9M445.3 95.3l0.7 1.8M445.3 95.3l1.7-1.1M445.9 112.6l-0.5-2.8M446.7 109l-1.3 0.8M447.1 123.4l-1.7-1.8M445.6 121.4l-0.2 0.2M445.4 131.8l0.7 0.8M445.4 131.8l0.3-1.6M447.7 116.8l-2.3-3.7M445.4 113.1l0.5-0.5M446.7 295.9l-1.2 0.5M445.5 285.3l1 0M445.8 199.4l-0.3-3.9M449.4 193.9l-3.9 1.6M445.6 290.7l2.8-2M446 212.1l-0.4-2.3M445.6 209.8l0.8-3.2M446.5 117.1l-0.9 4.3M449.1 119l-3.5 2.4M445.6 166.2l7.6-3.4M445.7 203.9l1.5 1.5M446.3 200l-0.6 3.9M445.7 97.9l2.7 2.5M446 97.1l-0.3 0.8M445.7 130.2l0.8-1.6M445.8 217.8l0.5 4.2M448.6 215.9l-2.8 1.9M445.8 199.4l0.5 0.6M446 280.1l-0.2-1.1M445.8 279l0.1 0M446 83.6l0.1 2.3M446.5 140.1l-0.6-1.1M445.9 139l1.1-1.3M445.9 188l1.3 1.6M446.2 185l-0.3 3M445.9 279l6.8 1.3M445.9 279l1.3-1.8M447.8 112.2l-1.9 0.4M447.1 137.4l-1.1-3.9M446 133.5l0.1-0.9M446 212.1l4.1 1.3M447.7 283l-1.7-2.9M446 97.1l2.6 0.6M446.1 132.6l2.4 0.6M447.4 247.9l-1.3-2.1M446.1 245.8l0.9-1.5M447.8 87l-1.7-1.1M446.6 183.8l-0.4 1.2M447.2 181l-1-3.9M450.5 176.3l-4.3 0.8M446.2 183l0.4 0.8M446.2 183l1-2M446.2 90.1l1.1 1M446.2 90.1l1.6-2.8M447 222.7l-0.7-0.7M446.3 200l3.7-1M446.4 106.9l0.3 2.1M446.4 106.9l1.9-1.4M447.2 277.2l-0.8-3.3M446.4 273.9l0.1-0.2M449.6 85.5l-0.8-1M446.4 272.2l0.1 1.5M446.4 272.2l2.3-2.2M446.6 146.4l-0.2-0.7M446.4 145.7l2.3-3.9M447.2 205.4l-0.8 1.2M448.3 156.5l-1.8-0.5M446.5 156l0.8-3.1M446.5 273.7l4 0M447.7 116.8l-1.2 0.3M448.4 288.7l-1.9-3.4M447.7 283l-1.2 2.3M448.7 141.8l-2.2-1.7M446.5 128.6l0.5-0.1M447.5 147.2l-0.9-0.8M448 252.4l-1.4-0.1M449.5 184.5l-2.9-0.7M450.3 289.3l-3.6 6.6M446.7 295.9l2.6-0.4M446.7 109l2.5 1.2M446.8 224.9l1.8 3.5M446.8 224.9l0.2-2.2M447 265.5l-0.2-1.3M446.8 264.2l0.2-0.8M447 222.7M449.7 219.4l-2.7 3.3M451.4 222.7l-4.4 0M447.4 128.5l-0.4 0M448.4 124.3l-1.4 4.2M447 94.2l2.8 0.5M447.3 91.1l-0.3 3.1M447 265.5l1.3 1.4M448.5 260.2l-1.5 3.2M447 244.3l1.4-0.9M452.3 138.2l-5.3-0.5M447.1 137.4l-0.1 0.3M447.2 123.5l-0.1-0.1M448.5 151.7l-1.4-1.8M447.5 147.2l-0.4 2.7M447.1 137.4l2.6-2.9M448.8 205.6l-1.6-0.2M447.2 189.9l0-0.3M449.9 187.7l-2.7 1.9M449.4 193.7l-2.2-3.8M447.2 123.5l1.2 0.8M450.1 120.3l-2.9 3.2M447.2 181l5-1.3M451.2 276.9l-4 0.3M448.5 151.7l-1.2 1.2M447.3 91.1l3.7 0.4M447.4 128.5l2.6 0.6M447.4 128.5l2.5-3.7M447.4 247.9l2 1.2M447.5 147.2l1 0M448.1 161.7l-0.5-1.2M447.6 160.5l1.4-3.6M447.7 283l4.2-0.8M448.6 116.9l-0.9-0.1M451.9 90.8l-4.1-3.5M447.8 87.3l0-0.3M449.3 116.2l-1.5-4M449.2 110.3l-1.4 1.9M449.6 85.5l-1.8 1.5M448 252.4l1.6 6.5M450 250l-2 2.4M448.1 161.7l5.1 1.1M448.3 105.5l2.2 2.7M448.3 105.5l0.6-2.6M448.3 266.9l0.7 2.1M451.7 266.5l-3.4 0.4M448.3 156.5l0.7 0.4M450.2 151.9l-1.9 4.6M448.4 101.2l0-0.8M448.6 97.7l-0.2 2.7M448.4 124.3l1.5 0.3M448.4 243.4l0.9 1M448.7 239.2l-0.3 4.2M448.4 228.8l0.1 2.8M448.6 228.4l-0.2 0.4M448.4 101.2l0.7 1.4M450.3 289.3l-1.9-0.6M449.7 134.5l-1.2-1.3M448.5 133.2l1.9-3.7M452.4 234l-3.9-2.4M451.2 148.7l-2.7-1.5M448.5 147.2l1.7-2.1M450.2 151.9l-1.7-0.2M452.8 264.4l-4.3-4.2M448.5 260.2l0.1-0.3M448.6 228.4l1.7-0.3M449.6 258.9l-1 1M448.6 215.9l1.1 3.5M450.1 213.4l-1.5 2.5M448.6 116.9l0.5 2.1M449.3 116.2l-0.7 0.7M450.6 96.6l-2 1.1M450.5 273.7l-1.8-3.7M449 269l-0.3 1M448.7 239.2l0.7-0.1M448.7 141.8l0.3 0.1M448.8 205.6l2.4 0.8M450 199l-1.2 6.6M448.9 102.9l0.2-0.3M450 157.1l-1-0.2M450.2 145.1l-1.2-3.2M451 141.2l-2 0.7M451.2 269.8l-2.2-0.8M450.1 120.3l-1-1.3M449.1 102.6l2.8-0.2M449.2 110.3l0-0.1M449.2 110.2l1.3-2M450.9 111.7l-1.7-1.4M449.3 295.5l4.1 2.1M449.3 295.5l2.8-4.5M450 115.9l-0.7 0.3M452 244.7l-2.7-0.3M449.4 249.1l-0.1-4.7M453.6 242.4l-4.2-3.3M452.1 236.9l-2.7 2.2M449.4 193.9l0-0.2M449.4 193.7l1.8-2.1M449.4 193.9l3.2 3.3M450 250l-0.6-0.9M449.9 187.7l-0.4-3.2M452.4 183.2l-2.9 1.3M449.6 85.5l2.4-0.6M451.7 258.5l-2.1 0.4M453.1 219.2l-3.4 0.2M449.7 134.5l1.5 0.2M449.8 94.7l0.8 1.9M451 91.5l-1.2 3.2M455.1 301.5l-0.2 0.2M449.9 124.6l0 0.2M450.7 123.8l-0.8 0.8M449.9 124.8l0.9 1.7M449.9 187.7l1.3 0.4M452.6 197.2l-2.6 1.8M450 115.9l3.4 2.2M450 115.9l2.1-2.1M450.4 129.5l-0.4-0.4M450 129.1l0.8-2.6M454.2 161l-4.2-3.9M450 157.1l2.4-4.1M451.5 249.8l-1.5 0.2M452.1 212.7l-2 0.7M450.6 120.6l-0.5-0.3M450.2 151.9l0.5-0.1M450.2 145.1l2.9 0.6M450.3 228.1l3.8 4.6M453.5 226.8l-3.2 1.3M450.3 289.3l1.9 0.2M451.5 129.9l-1.1-0.4M450.5 108.2l0.2-0.1M451.3 274.1l-0.8-0.4M452.2 179.7l-1.7-3.4M452.4 170.5l-1.9 5.8M450.6 120.6l0.4 1M450.6 120.6l2.4-1.3M450.6 96.6l1.6 0.6M450.7 123.8l3.4 1.1M451 121.6l-0.3 2.2M452.6 110.4l-1.9-2.3M450.7 108.1l2.2-1M452.4 153l-1.7-1.2M450.7 151.8l0.5-3.1M450.8 126.5l3.5-0.6M452.1 113.8l-1.2-2.1M450.9 111.7l1.7-1.3M451 141.2l2.7 3.6M452.6 139.2l-1.6 2M451.9 90.8l-0.9 0.7M451 121.6l3.5 1.1M453.3 279.3l-2.1-2.4M451.2 276.9l0.1-2.8M451.2 191.6l0.8-2.7M457.5 190.5l-6.3 1.1M452 273.4l-0.8-3.6M453.7 269.2l-2.5 0.6M452.5 135.5l-1.3-0.8M451.2 134.7l0.3-4.8M451.2 188.1l0.8 0.8M453.5 184.7l-2.3 3.4M451.2 148.7l0.9-0.5M452.1 212.7l-0.9-6.3M451.2 206.4l4.1-3.2M452 273.4l-0.7 0.7M453.8 225.2l-2.4-2.5M451.4 222.7l1.7-3.5M451.8 129.9l-0.3 0M454.6 250.5l-3.1-0.7M451.5 249.8l0.5-5.1M456.2 263l-4.5-4.5M455.6 255.5l-3.9 3M451.7 266.5l2.3 1.3M451.7 266.5l1.1-2.1M454.5 134.4l-2.7-4.5M455.3 128.6l-3.5 1.3M451.9 102.4l1.9 1.2M451.9 102.4l0.4-4.6M452.2 282.9l-0.3-0.7M451.9 282.2l0.8-1.9M452 84.9M453.6 90.4l-1.7 0.4M452 244.7l1.6-1M456.9 188.9l-4.9 0M454.9 272.6l-2.9 0.8M452.4 85.3l-0.4-0.4M452.1 113.8l2.7 0M452.1 148.2l2.5 1.2M453.1 145.7l-1 2.5M456.7 238.2l-4.6-1.3M452.4 234l-0.3 2.9M453.7 295.5l-1.6-4.5M452.1 291l0.1-1.5M452.1 212.7l2.9 1.6M452.2 97.2l0.1 0.6M452.9 96.8l-0.7 0.4M452.4 289.3l-0.2 0.2M452.2 282.9l4.9 1.8M452.2 282.9l0.2 6.4M452.9 180.2l-0.7-0.5M452.3 97.8l3.2 1.8M452.3 138.2l0.3 1M452.5 135.5l-0.2 2.7M454.1 232.7l-1.7 1.3M452.4 183.2l1.1 1.5M452.4 183.2l0.5-3M453.6 90.4l-1.2-5.1M452.4 85.3l1-0.2M455.1 169.2l-2.7 1.3M454.2 289.3l-1.8 0M452.4 153l1.7 0.3M452.5 135.5l2-1.1M454.9 139.9l-2.3-0.7M456.7 198.4l-4.1-1.2M452.6 110.4l2.1-0.7M452.7 280.3l0.6-1M454.2 264.5l-1.4-0.1M452.9 180.2l2.5-0.6M454.7 109.6l-1.8-2.5M452.9 107.1l1-3.4M454.3 90.7l-1.4 6.1M454 96.8l-1.1 0M453 119.3l2.3 2.6M453.4 118.4l-0.4 0.9M453.1 145.7l0.3-0.3M455.4 217.5l-2.3 1.7M453.2 162.8l1 0.1M453.3 279.3l4.4 3.6M453.3 279.3M454.6 278.5l-1.3 0.8M453.4 145.4l1.3 1.5M453.7 144.8l-0.3 0.6M453.4 118.4l0-0.3M453.4 118.1l1.2-1.7M453.4 118.4l3.8 1.1M455.1 301.4l-1.7-3.8M453.4 297.6l0.3-2.1M453.5 226.8l3 2.6M453.8 225.2l-0.3 1.6M453.5 184.7l3.4 2.2M453.6 90.4l0.7 0.3M455.1 245.2l-1.5-1.5M453.6 243.7l0-1.3M457.1 239.8l-3.5 2.6M458.2 292.4l-4.5 3.1M455.8 143.8l-2.1 1M453.7 269.2l1.4 2M454 267.8l-0.3 1.4M453.8 225.2l3-2.6M453.8 103.6l0.1 0.1M455.5 99.6l-1.7 4M453.9 103.7l0.1 0M454 267.8l0.3-0.3M457.1 105.7l-3.1-2M457.7 101.6l-3.7 2.1M454 96.8l2.4 2.1M456 95.9l-2 0.9M454.3 125.9l-0.2-1M454.5 122.7l-0.4 2.2M456.5 231.8l-2.4 0.9M454.1 153.3l0.9 4.8M454.1 153.3l0.8-0.6M458.2 292.4l-4-3.1M454.4 289.1l-0.2 0.2M454.5 163.4l-0.3-0.5M454.2 161l0 1.9M454.2 161l0.7-1.4M454.3 267.5l-0.1-3M454.2 264.5l2-1.5M455.1 126.9l-0.8-1M456.7 267.1l-2.4 0.4M454.6 90.7l-0.3 0M457.1 284.7l-2.7 4.4M454.4 289.1l7.3-2.4M455.2 169l-0.7-5.6M454.5 163.4l6.5-1.8M454.5 134.4l0.6-0.1M455.2 122l-0.7 0.7M454.8 149.7l-0.2-0.3M454.6 149.4l0.1-2.5M454.6 116.4l2.8 2.6M454.8 113.8l-0.2 2.6M456.6 92.4l-2-1.7M457 88.4l-2.4 2.3M454.6 250.5l0.4 0.4M455.1 245.2l-0.5 5.3M455.9 273.8l-1.3 4.7M454.6 278.5l4-0.1M455 113.7l-0.3-4M454.7 109.7l0-0.1M456.5 109l-1.8 0.6M457.1 148l-2.4-1.1M455 113.7l-0.2 0.1M454.9 152.7l-0.1-3M454.8 149.7l2.3-1.7M454.9 159.6l0.1-1.5M454.9 159.6l5.2-2.3M457.3 152.5l-2.4 0.2M455.9 273.8l-1-1.2M454.9 272.6l0.2-1.4M454.9 139.9l1.2 3.4M457.9 138.1l-3 1.8M455 158.1l3.2-3M455 113.7l1.5 0.1M455 250.9l0.6 4.6M455 250.9l0.2-0.1M455.4 217.5l-0.4-3.2M455 214.3l0.2-0.1M455.1 301.5l0-0.1M455.1 134.3l3.2 1.8M455.8 131.7l-0.7 2.6M455.1 169.2l2 3.8M455.1 169.2l0.1-0.2M455.1 126.9l0.2 1.7M455.1 126.9l2.2-1.6M455.1 245.2l3.8-0.9M455.1 301.5l0.6 0M456.7 270.4l-1.6 0.8M456 212.6l-0.8 1.6M455.2 214.2l3.9-0.4M455.2 169l5.2-0.6M455.2 122l3 2.1M455.2 122l0.1-0.1M462 252.4l-6.8-1.6M455.3 250.7l-0.1 0.1M455.3 121.9l1.9-2.2M457.7 206.4l-2.4-3.2M456.7 198.9l-1.4 4.3M455.4 128.7l-0.1-0.1M459.9 245.8l-4.6 4.9M462.9 249.2l-7.6 1.5M459 184.1l-3.6-4.5M455.4 179.6l0.9-1.1M457.2 219.9l-1.8-2.4M457.7 128.8l-2.3-0.1M455.4 128.7l0.4 3M456.4 98.9l-0.9 0.7M455.6 255.5l0.8 0.3M455.8 143.8l2.4 3.7M456.1 143.3l-0.3 0.5M455.8 131.7l3.4 0.3M455.9 273.8l8 1.1M456 95.9l1.7 1.1M456.6 92.4l-0.6 3.5M457.7 206.4l-1.7 6.2M456 212.6l4.8-4.4M460.4 295.8l-4.3 5.7M456.1 143.3l1.8-0.4M457 263.2l-0.8-0.2M456.3 178.5l3.9 0.5M457.1 173l-0.8 5.5M460.3 262l-3.9-6.2M460.1 255l-3.7 0.8M456.4 98.9l1.5-0.1M456.5 113.8l2.3 3.4M456.5 113.8l1.7-1.1M458.6 111.7l-2.1-2.7M456.5 109l1.7-2M456.5 229.4l0.2 2.1M456.5 229.4l3.5-3.1M456.5 231.8l1.4 4.4M456.7 231.5l-0.2 0.3M456.6 92.4l1 0.2M456.7 231.5l3.1 0.1M457.5 267.8l-0.8-0.7M456.7 267.1l0.3-3.9M456.7 270.4l4.5 1.2M457.5 267.8l-0.8 2.6M456.7 198.4l0 0.5M457.9 197.1l-1.2 1.3M456.7 198.9l5.6 4.9M457.1 239.8l-0.4-1.6M457.9 236.2l-1.2 2M456.8 222.6l3.2 3.7M456.8 222.6l0.4-2.7M457.5 190.5l-0.6-1.6M456.9 186.9l0 2M458.8 184.6l-1.9 2.3M457 263.2l3.3-1.2M457 88.4l2.8 0.3M457 88.4l0.4-2.8M457.1 284.7l1.2-0.6M457.1 173l2.3 1.2M458 147.9l-0.9 0.1M458.9 241.3l-1.8-1.5M457.1 105.7l1.1 1.3M459.7 102.6l-2.6 3.1M457.2 219.9l4.2 0.2M457.2 119.5l0 0.2M457.4 119l-0.2 0.5M458.5 120.7l-1.3-1M457.3 152.5l0.9 1M458.4 151l-1.1 1.5M459.7 127.3l-2.4-2M458.2 124.1l-0.9 1.2M458.8 117.2l-1.4 1.8M459.1 193.2l-1.6-2.7M460 267.7l-2.5 0.1M457.6 92.6l1 3.4M460.3 92.3l-2.7 0.3M459.7 102.6l-2-1M458 98.8l-0.3 2.8M457.7 206.4l2.6 1.1M458.3 284.1l-0.6-1.2M457.7 282.9l0.9-4.5M457.7 97l0.2 1.8M458.6 96l-0.9 1M459.7 131.4l-2-2.6M457.7 128.8l2-1.2M458 98.8l-0.1 0M457.9 197.1l8.8 2.1M457.9 197.1l1.2-3.9M461 235.9l-3.1 0.3M457.9 138.1l0.5 4M458.9 136.8l-1 1.3M460.2 144.5l-2.3-1.6M457.9 142.9l0.5-0.8M458.4 151l-0.4-3.1M458.2 147.5l-0.2 0.4M461.8 99l-3.8-0.2M460.3 153.8l-2.1-0.3M458.2 153.5l0 1.6M458.2 124.1l1-0.4M458.2 112.7l2.9 1.5M458.2 112.7l0.4-1M461.5 146.4l-3.3 1.1M460.1 157.3l-1.9-2.2M458.2 292.4l1.3 0.4M458.2 107l0.2 0M458.3 284.1l2.8 0.6M458.9 136.8l-0.6-0.7M459.2 132l-0.9 4.1M458.4 151l2.6-0.1M460.7 108.8l-2.3-1.8M460.3 105l-1.9 2M461 141l-2.6 1.1M458.5 120.7l1 2.5M461.8 119.9l-3.3 0.8M459.6 86l1.2 1.4M458.6 96l2.8-0.3M460.9 109.8l-2.3 1.9M464.5 276.3l-5.9 2.1M460.6 116.9l-1.8 0.3M462.6 187.4l-3.8-2.8M458.8 184.6l0.2-0.5M459.9 245.8l-1-1.5M458.9 241.3l0 3M461.6 137.2l-2.7-0.4M462 240.4l-3.1 0.9M459 184.1l4.7-3.1M462.1 216.9l-3-3.1M459.3 213.7l-0.2 0.1M461.4 192.1l-2.3 1.1M459.7 131.4l-0.5 0.6M460.2 125.7l-1-2M459.2 123.7l0.3-0.5M461.5 208.7l-2.2 5M463.2 212.9l-3.9 0.8M459.4 174.2l3.8 0.9M459.4 174.2l0.8 4.8M460.1 293.9l-0.6-1.1M460.5 290.9l-1 1.9M459.5 123.2l2.8-0.7M460.2 102.6l-0.5 0M462.8 129.2l-3.1-1.6M459.7 127.6l0-0.3M459.7 127.3l0.5-1.6M459.7 131.4l2-0.2M460.8 91.7l-1-3M459.8 88.7l1-1.3M459.8 231.6l2.9 3M459.8 231.6l2.1-1.8M463.1 247.1l-3.2-1.3M460 267.7l1.2 3.9M460 267.7l1.6-3.2M460 226.3l0.7 0M460.4 295.8l-0.3-1.9M460.1 293.9l4.8-1.7M462.3 261.1l-2.2-6.1M461.9 254.2l-1.8 0.8M460.4 157.3l-0.3 0M461.5 146.4l-1.3-1.9M460.2 144.5l0.8-3.5M460.2 102.6l0.7 0.9M461.8 99l-1.6 3.6M464.2 125.5l-4 0.2M460.2 179l3.3 1.7M460.3 92.3l1.1 3.4M460.8 91.7l-0.5 0.6M460.3 207.5l0.5 0.7M460.3 207.5l2-3.7M461.5 155.6l-1.2-1.8M460.3 153.8l1.1-1.5M460.9 262.2l-0.6-0.2M462.5 106.8l-2.2-1.8M460.9 103.5l-0.6 1.5M461.6 159.1l-1.2-1.8M460.4 157.3l1.1-1.7M460.4 168.4l4.4 2.3M460.4 168.4l3.7-4.7M460.4 295.8l1.8 0.6M461.7 286.7l-1.2 4.2M460.5 290.9l3.4-0.1M460.6 116.9l0.8 0.6M461.1 114.2l-0.5 2.7M460.7 226.3l0.2 0.3M460.7 226.3l3.5-4.2M460.9 109.8l-0.2-1M460.7 108.8l1.8-1.8M460.8 91.7l0.8-0.1M460.8 208.2l0.7 0.5M460.8 87.4l2.7-0.4M460.9 226.6l4.6 0.7M462.1 229.1l-1.2-2.5M463.5 104l-2.6-0.5M462.9 111.2l-2-1.4M461.6 264.5l-0.7-2.3M460.9 262.2l1.4-1.1M461 161.6l3.1 2.1M461 161.6l0.6-2.5M462.5 139.6l-1.5 1.4M462 240.4l-1-4.5M461 235.9l1.7-1.3M461.4 152.3l-0.4-1.4M461 150.9l1.2-1.5M462.4 113.2l-1.3 1M461.1 284.7l0.7 1.7M464.5 277.7l-3.4 7M461.2 271.6l2.7 3.3M462.6 96.9l-1.2-1.2M465 153.8l-3.6-1.5M462 119.2l-0.6-1.7M461.4 117.5l3.5-1.6M464.2 222.1l-2.8-2M461.4 220.1l0.7-3.2M469 196.7l-7.6-4.6M461.4 192.1l1-0.8M465.3 154.6l-3.8 1M463.9 209.1l-2.4-0.4M461.5 146.4l0.7 0.1M461.6 159.1l3.1-0.7M465 266.9l-3.4-2.4M461.6 91.6l2.2 0.6M461.6 91.6l1.9-4M461.6 137.2l0.9 2.4M461.6 137.2l0.6-0.6M462.2 136.6l-0.5-5.4M461.7 131.2l1.2-1.3M461.8 286.4l-0.1 0.3M461.8 119.9l0.5 2.5M461.8 119.9l0.2-0.7M461.9 98.9l-0.1 0.1M461.8 286.4l1.1 0.4M463.8 255.7l-1.9-1.5M461.9 254.2l0.1-1.8M461.9 229.8l1.1 2M461.9 229.8l0.2-0.7M463.8 100.7l-1.9-1.8M462.6 96.9l-0.7 2M462 119.2l2.7 0.1M462 240.4l1.1 0.2M462 252.4l1-2.4M462.1 229.1l2.4 0.3M463.9 215.9l-1.8 1M464.8 151.7l-2.6-2.3M462.2 146.5l0 2.9M462.2 136.6l1.2-0.5M462.2 146.5l2.1-1M466 204.4l-3.7-0.6M464.2 125.4l-1.9-2.9M462.3 122.4l0 0.1M465.6 120.6l-3.3 1.8M464 260.2l-1.7 0.9M462.4 191.3l0.2-3.9M466.8 190l-4.4 1.3M462.4 113.2l2.5 2.7M462.9 111.3l-0.5 1.9M462.5 139.6l0.9 0.8M462.5 107l3.4 1.1M462.5 106.8l0 0.2M462.5 106.8l1-2.8M465.1 95.7l-2.5 1.2M466.1 183.4l-3.5 4M462.7 234.6l0.5 0M462.8 129.2l0.1 0.7M464.2 125.9l-1.4 3.3M463 250l-0.1-0.8M462.9 249.2l0.2-2.1M462.9 111.3l0-0.1M462.9 111.2l3-3.1M464.7 130.8l-1.8-0.9M462.9 286.8l1.8 1.5M468.4 284.2l-5.5 2.6M462.9 111.3l4.8 1.8M466 251.6l-3-1.6M463 231.8l0.5 2.5M463 231.8l1.8-1.9M463.1 247.1l0.8-0.6M463.1 240.6l1.3 1.2M464.5 237.5l-1.4 3.1M463.2 234.6l1.3 2.9M463.2 234.6l0.3-0.3M463.2 212.9l0.7 3M463.2 212.9l1.1-1.3M463.2 175.1l0.3 5.6M465.5 172.8l-2.3 2.3M463.4 136.1l5.4 2.9M465.3 134.6l-1.9 1.5M463.4 140.4l1.1 3.7M468.8 139l-5.4 1.4M463.6 86.8l0-0.2M463.5 104l1.5-0.8M463.5 87.6l1.2 2.8M463.5 87l0 0.6M463.5 180.7l0.2 0.3M463.5 234.3l4.5-1.5M463.6 86.8l-0.1 0.2M467.4 87.2l-3.8-0.4M464.6 181.4l-0.9-0.4M463.8 255.7l0.2 4.5M466.9 254.4l-3.1 1.3M465.1 93.8l-1.3-1.6M463.8 92.2l0.9-1.8M463.8 100.7l1.2 2.5M463.8 100.7l3.3-2.2M464.8 275.5l-0.9-0.6M464.3 211.6l-0.4-2.5M463.9 209.1l2.1-2.2M464.9 292.2l-1-1.4M463.9 290.8l0.8-2.5M466.5 216.9l-2.6-1M466.1 246.7l-2.2-0.2M463.9 246.5l0.5-4.7M464 260.2l0.3 0.1M464.1 163.7l2.2-0.3M464.2 125.5l0-0.1M466 122.9l-1.8 2.5M464.3 125.6l-0.1-0.1M464.2 222.1l2.4-0.1M464.2 125.9l3.7 3.2M464.2 125.9l0.1-0.3M468.6 125.5l-4.3 0.1M467.6 264.9l-3.3-4.6M468.7 259.2l-4.4 1.1M464.7 145.7l-0.4-0.2M464.5 144.1l-0.2 1.4M466.7 212.7l-2.4-1.1M466.3 241.3l-1.9 0.5M468.5 141.6l-4 2.5M464.5 277.7l3.9 6.5M464.5 277.7l0-1.4M470.7 238l-6.2-0.5M464.5 276.3l0.3-0.8M464.8 229.9l-0.3-0.5M464.5 229.4l1-2.1M465.1 181.8l-0.5-0.4M468 175l-3.4 6.4M466 288.8l-1.3-0.5M464.7 119.3l0.9 1.3M464.7 119.3l0.8-3.3M464.7 145.7M469.4 144.1l-4.7 1.6M464.7 130.8l0.6 3.8M466.4 130.5l-1.7 0.3M466.3 163.4l-1.6-5M464.7 158.4l0.6-1.2M464.7 145.7l5.7 1.9M464.7 145.7l1.4 3.3M467.9 90l-3.2 0.4M464.8 151.7l0.2 2.1M465.9 149.9l-1.1 1.8M465.1 275.3l-0.3 0.2M465.5 172.6l-0.7-1.9M467.1 167.4l-2.3 3.3M468 232.8l-3.2-2.9M466.4 292.3l-1.5-0.1M464.9 115.9l0.6 0.1M465 266.9l0.1 8.4M465 266.9l2-1.2M465.4 154.5l-0.4-0.7M465 103.2l1.4 0.4M465.1 181.8l1 1.6M465.1 181.8l5.4-3.8M466.7 96.6l-1.6-0.9M465.1 95.7l0-1.9M467.8 274.9l-2.7 0.4M467.3 92.1l-2.2 1.7M466.9 134.7l-1.6-0.1M465.3 154.6l0 2.6M465.4 154.5l-0.1 0.1M465.3 157.2l3.5 1.6M465.4 154.5l0.7-0.1M468 175l-2.5-2.2M465.5 172.8l0-0.2M467.3 225.9l-1.8 1.4M466.1 115.8l-0.6 0.2M471.1 170.4l-5.6 2.2M465.6 120.6l1.1 0.4M465.9 108.1l0.3-0.1M465.9 149.9l2.8 1.7M466.1 149l-0.2 0.9M466.7 291.9l-0.7-3.1M468.9 287.4l-2.9 1.4M466.9 254.4l-0.9-2.8M467.1 250.9l-1.1 0.7M472 211l-6-4.1M466 206.9l0-2.5M469 124.9l-3-2M466 122.9l0.7-1.9M466.2 204.2l-0.2 0.2M466.1 149l3.7 0.5M466.1 154.4l3 2.4M468.3 153.1l-2.2 1.3M466.1 115.8l1.6 1.7M467.7 113.1l-1.6 2.7M467.1 250.9l-1-4.2M466.1 246.7l2.9-0.2M466.1 183.4l0.4 0.3M466.2 204.2l5 0.2M466.7 199.2l-0.5 5M466.2 108l1.8 4.9M466.2 108l1-1.2M467.5 163.8l-1.2-0.4M469 246.5l-2.7-5.2M470.6 238.8l-4.3 2.5M467 104.1l-0.6-0.5M466.4 103.6l1-4.7M466.4 130.5l1.7 2.4M466.4 130.5l1.5-1.4M466.4 293.9l0-1.6M466.4 292.3l0.3-0.4M468.3 186.6l-1.8-2.9M472.5 181.3l-6 2.4M466.5 216.9l0.6 0.8M466.7 212.7l-0.2 4.2M466.6 222l0.7 3.9M466.6 222l1-0.9M466.7 96.6l0.4 1.9M466.7 96.6l2.2-0.8M466.7 199.2l0.6-0.5M468.8 291.6l-2.1 0.3M472 211l-5.3 1.7M467.7 120.7l-1 0.3M470.5 195.1l-3.7-5.1M468.3 186.6l-1.5 3.4M469.6 255.4l-2.7-1M466.9 134.7l2.5 4M466.9 134.7l0.7-0.7M467.2 106.8l-0.2-2.7M467 104.1l2.8-1M469.4 268.4l-2.4-2.7M467 265.7l0.6-0.8M467.1 98.5l0.3 0.4M467.1 217.7l0.5 3.4M472.6 212.6l-5.5 5.1M471.1 170.4l-4-3M467.1 167.4l0.4-3.6M467.1 250.9l3.6-1M467.2 106.8l1.8 0.9M467.3 225.9l4.6 5.2M467.3 92.1l2.1 1.8M467.9 90l-0.6 2.1M467.3 198.7l4.6 4.2M467.3 198.7l1.7-2M470.5 100l-3.1-1.1M467.5 163.8l1.1-0.3M468.9 264.3l-1.3 0.6M473.1 221l-5.5 0.1M470.7 134.8l-3.1-0.8M467.6 134l0.5-1.1M468.5 119.7l-0.8-2.2M471.4 115.5l-3.7 2M467.7 113.1l0.3-0.2M469.6 124.3l-1.9-3.6M467.7 120.7l0.8-1M467.8 274.9l3.3 2.7M470.5 272.5l-2.7 2.4M468.7 128.9l-0.8 0.2M469.2 88.2l-1.3 1.8M468 232.8l2.9 0.2M471 176l-3-1M469.6 112.8l-1.6 0.1M469.8 132l-1.7 0.9M469 87.8l-0.8-0.4M468.3 153.1l1.6 0.6M468.7 151.6l-0.4 1.5M472.5 187.1l-4.2-0.5M468.4 284.2l0.7 0.5M469.4 144.1l-0.9-2.5M468.5 141.6l0.9-2.4M470.5 119.5l-2 0.2M470.4 163.6l-1.8-0.1M468.8 158.8l-0.2 4.7M469.2 128.4l-0.6-2.9M468.6 125.5l0.4-0.6M469.8 149.5l-1.1 2.1M468.9 264.3l-0.2-5.1M470.2 258.1l-1.5 1.1M468.7 128.9l1.1 3.1M469.2 128.4l-0.5 0.5M468.8 158.8l0.6-0.8M468.8 139l0.5 0M469.9 288.9l-1-1.5M468.9 287.4l0.3-2.4M470 96.4l-1.1-0.6M469.4 93.9l-0.5 1.9M471 264.7l-2.1-0.4M469.6 124.3l-0.6 0.6M469 107.7l1.5 3.7M472.9 106.7l-3.9 1M471.2 246.8l-2.2-0.3M469 196.7l0.6-0.4M469.2 88.2l-0.2-0.4M469.2 87.5l-0.2 0.3M469.1 284.7l0.1 0.3M469.1 284.7l2.9-2.7M469.1 156.8l0.3 1.2M470.6 155.2l-1.5 1.6M469.2 88.2l1.5 1.2M469.2 128.4l3 0.1M471.2 285.6l-2-0.6M469.3 139l0.1 0.2M469.4 138.7l-0.1 0.3M470.5 272.5l-1.1-4.1M469.4 268.4l1.6-3.7M469.4 144.1l1.6 0.9M469.9 138.2l-0.5 0.5M469.4 93.9l1.1-0.8M469.4 158l2.8-0.1M472.2 141.1l-2.8-1.9M472.6 123.8l-3 0.5M471.4 115l-1.8-2.2M470.5 111.4l-0.9 1.4M469.6 255.4l0.6 2.7M469.6 255.4l1.3-2.3M469.6 196.3l3 4M470.5 195.1l-0.9 1.2M469.8 132l2.6 0.9M472.9 106.5l-3.1-3.4M469.8 103.1l0.8-1.2M470.1 149.3l-0.3 0.2M470.7 134.8l-0.8 3.4M469.9 138.2l6.9-2.5M469.9 153.7l0.7 1.5M472.3 152.5l-2.4 1.2M470.5 100l-0.5-3.6M473 96l-3 0.4M473.1 151.5l-3-2.2M470.4 147.6l-0.3 1.7M470.2 258.1l3.3 1.4M474.3 165.8l-3.9-2.2M470.4 163.6l2.5-4.8M470.4 147.6l0.8-1M470.6 101.9l-0.1-1.9M470.5 100M470.5 272.5l2.2-1M470.5 100l4.6-2.6M470.5 195.1M470.5 178l2 3.3M470.5 178l0.5-2M472.5 120.7l-2-1.2M470.5 119.5l0.9-4M470.5 195.1l7.9 1.6M473.7 189l-3.2 6.1M471.3 110.9l-0.8 0.5M470.5 93.1l1.9 0.9M470.5 93.1l0.2-3.7M473.3 102l-2.7-0.1M472.2 242.3l-1.6-3.5M470.6 238.8l0.1-0.8M470.6 155.2l1.6 0.9M470.7 238l0.7-2.2M472.4 132.9l-1.7 1.9M470.7 249.9l0.2 3.2M470.7 249.9l0.8-2.5M470.7 89.4l0.8 0.1M470.9 253.1l5.3 0.6M471.4 235.8l-0.5-2.8M471.9 231.1l-1 1.9M471 176l0.8-0.6M471.2 146.6l-0.2-1.6M472.6 142.5l-1.6 2.5M474.1 264.4l-3.1 0.3M475.8 278.5l-4.7-0.9M471.1 277.6l0.9 4.4M471.6 170.5l-0.5-0.1M471.2 204.4l2.6 5.4M471.2 204.4l0.7-1.5M471.2 246.8l0.3 0.6M471.2 246.8l1-4.5M474 147l-2.8-0.4M471.3 110.9l1.7 0.7M473.1 108.4l-1.8 2.5M471.5 115.3l-0.1 0.2M471.4 235.8l2.6 0.6M471.4 115l0.1 0.3M473 113.9l-1.6 1.1M471.5 89.5l2.3 1.7M472.8 88.6l-1.3 0.9M471.5 247.4l3.2 0.9M474.4 116.8l-2.9-1.5M471.8 175.4l-0.2-4.9M475.2 167.3l-3.6 3.2M471.8 175.4l3.3 0.5M473.7 229.8l-1.8 1.3M471.9 202.9l0.3-0.2M472 282l2 0.8M472 211l1 0.1M472.2 128.5l2.8 2.8M472.2 128.5l0.6-4.5M472.9 158.8l-0.7-0.9M472.2 156.1l0 1.8M472.6 155.6l-0.4 0.5M477.7 203l-5.5-0.3M472.6 200.3l-0.4 2.4M472.7 142.1l-0.5-1M472.2 141.1l4.8-4.5M475.7 242.3l-3.5 0M472.3 152.5l0.3 3.1M473.1 151.5l-0.8 1M473 96l-0.6-2M472.4 94l1.5-2.4M472.4 132.9l2.7-0.7M472.6 123.8l-0.1-3.1M472.5 120.7l0.8-0.6M473.7 189l-1.2-1.9M472.5 187.1l2.2-4.1M472.5 181.3l1.8 0.9M477.7 199.2l-5.1 1.1M472.8 124l-0.2-0.2M472.6 142.5l3.1 3.3M472.7 142.1l-0.1 0.4M472.6 212.6l0.5 8.4M473 211.1l-0.4 1.5M472.6 155.6l2.8-0.7M477.1 141.9l-4.4 0.2M472.7 271.5l3.9 1.7M472.7 271.5l2.3-5.6M475.3 124.5l-2.5-0.5M474.5 158.8l-1.6 0M473.1 108.4l-0.2-1.7M472.9 106.5l0 0.2M475.6 104.8l-2.7 1.7M475.5 112.4l-2.5-0.8M473 113.9l0-2.3M475.5 112.4l-2.5 1.5M475.1 97.4l-2.1-1.4M473 211.1l0.2-0.1M473.1 151.5l0.7-0.1M475.2 109.7l-2.1-1.3M473.6 221.2l-0.5-0.2M475.8 212.6l-2.6-1.6M473.2 211l0.6-1.2M473.3 102l2.3 2.8M473.3 102l2.6-4.4M476.3 120.5l-3-0.4M474.4 116.8l-1.1 3.3M474.4 261.4l-0.9-1.9M473.5 259.5l1.8-2.4M473.6 221.2l0.5 1.4M473.7 221.1l-0.1 0.1M479.4 190.5l-5.7-1.5M475.9 229.9l-2.2-0.1M474.1 222.6l-0.4 7.2M473.7 221.1l3.5-5.4M478.8 219.8l-5.1 1.3M476.3 207.7l-2.5 2.1M473.8 91.2l0.1 0.4M473.8 91.2l1.7-1.4M473.8 151.4l2 2.7M473.8 151.4l0.5-0.6M473.9 91.6l1.2 0.8M480.1 236.8l-6.1-0.4M474 236.4l3.8 4.8M474.3 150.8l-0.3-3.8M474 147l1.7-0.9M480.3 224.8l-6.2-2.2M475 265.9l-0.9-1.5M474.1 264.4l0.3-3M474.3 182.2l0.2 0.3M474.3 182.2l0.8-6.3M474.3 165.8l0.9 1.5M476.1 161.7l-1.8 4.1M474.3 150.8l2.1-0.7M475.1 116.6l-0.7 0.2M480.7 260.3l-6.3 1.1M476.1 161.7l-1.6-2.9M475.8 157.4l-1.3 1.4M474.7 183l-0.2-0.5M479.9 176.9l-5.4 5.6M477.7 183.7l-3-0.7M474.7 248.3l1.5 5.4M478 247.4l-3.3 0.9M475 265.9l4.2 0.9M475.1 132.2l-0.1-0.9M475 131.3l2.2-3.9M475.1 175.9l2.1-0.7M475.9 97.5l-0.8-0.1M475.1 132.2l0.6 0.8M475.1 92.4l1.1 4.8M475.1 92.4l1.9-0.6M476.3 120.5l-1.2-3.9M475.5 116.4l-0.4 0.2M476.1 167.7l-0.9-0.4M476.2 112.3l-1-2.6M475.2 109.7l1.1-1.1M475.3 124.5l1.9 2.9M475.3 124.5l2.9-3.3M475.3 257.1l6.1 1.7M476.6 254l-1.3 3.1M475.8 157.4l-0.4-2.5M475.8 154.1l-0.4 0.8M480.2 119.6l-4.7-3.2M475.5 116.4l1.5-3.3M476.2 112.3l-0.7 0.1M475.6 104.8l0.4-0.1M475.7 145.8l0 0.3M477.1 141.9l-1.4 3.9M476.6 146.6l-0.9-0.5M475.7 242.3l2.3 5.1M475.7 242.3l2.1-1.1M476.8 135.7l-1.1-2.7M475.7 133l5.3-2.2M475.9 280.4l-0.1-1.9M475.8 278.5M476.8 278.7l-1-0.2M475.8 278.5l1.9-4.2M475.8 154.1l0.3 0M481.2 212.8l-5.4-0.2M477.2 215.7l-1.4-3.1M479.2 158.1l-3.4-0.7M475.9 97.6l0-0.1M475.9 97.5l0.3-0.3M478.5 102.2l-2.6-4.6M475.9 229.9l4.7 6.2M481.4 227.8l-5.5 2.1M476.3 108.6l-0.3-3.9M478 104l-2 0.7M477.2 170.7l-1.1-3M476.1 167.7l5-1.7M477.6 161.1l-1.5 0.6M478.4 154.7l-2.3-0.6M476.1 154.1l2.5-3.3M477.1 96.6l-0.9 0.6M476.5 112.4l-0.3-0.1M476.2 253.7l0.4 0.3M481.7 210.8l-5.4-3.1M478.3 204.6l-2 3.1M478.9 108.7l-2.6-0.1M478.2 121.2l-1.9-0.7M476.4 150.1l2.2 0.7M476.4 150.1l0.2-3.5M477 113.1l-0.5-0.7M478.9 108.7l-2.4 3.7M476.6 254l0.5-0.1M478.9 146.8l-2.3-0.2M476.6 273.2l1.1 1.1M480.1 267.8l-3.5 5.4M476.8 135.7l0.1 0.2M477 136.6l-0.1-0.7M476.9 135.9l4.6-1.1M478 113.3l-1-0.2M477 91.8l1.4 1.6M477.3 90.6l-0.3 1.2M477.8 138.2l-0.8-1.6M477.1 141.9l0.5-0.3M481.4 258.8l-4.3-4.9M478.8 252.9l-1.7 1M481.3 96.6l-4.2 0M478.4 93.4l-1.3 3.2M479.9 176.9l-2.7-1.7M477.2 175.2l0-4.5M477.2 170.7l7.4 1.4M480.9 218.1l-3.7-2.4M477.2 127.4l1.1-0.2M477.6 141.6l4 3M477.6 141.6l0.2-3.4M481.6 164.8l-4-3.7M479.7 158.5l-2.1 2.6M478.8 274.5l-1.1-0.2M477.7 203l0.6 1.6M477.7 199.2l0 3.8M478.4 196.7l-0.7 2.5M480.6 186.9l-2.9-3.2M477.7 183.7l3-4.1M480 240.7l-2.2 0.5M477.8 138.2l4 1M478 104l2 2.3M478.5 102.2l-0.5 1.8M480.4 119.4l-2.4-6.1M478.2 113.3l-0.2 0M478 247.4l0.3 0M478.2 121.2l0.9-0.3M478.2 113.3l3.9 0.2M478.2 113.3l3.2-4.8M478.3 127.2l3.2 2.3M479 126.4l-0.7 0.8M478.3 247.4l0.5 5.5M481.5 246.3l-3.2 1.1M478.3 204.6l1.3 0.2M480 92.5l-1.6 0.9M479.2 158.1l-0.8-3.4M478.4 154.7l1.5-1M478.8 196.4l-0.4 0.3M478.5 102.2l2.6-1.1M478.6 150.8l0.6-0.2M479.8 91.7l0.2 0.8M478.8 219.8l1.5 5M478.8 219.8l2.1-1.7M478.8 196.4l0.5 0.2M480.1 192.2l-1.3 4.2M482.2 252.7l-3.4 0.2M480.7 107.5l-1.8 1.2M478.9 146.8l0.3 3.8M481.6 144.9l-2.7 1.9M479.1 120.9l-0.1 5.5M479 126.4l3.5-1.2M479.1 120.9l1-0.7M479.2 266.8l0.6 0.5M479.2 266.8l1.5-6.5M479.7 158.5l-0.5-0.4M479.5 150.8l-0.3-0.2M479.3 196.6l4 1.6M479.3 196.6l4.2 7.3M480.1 192.2l-0.7-1.7M480.6 186.9l-1.2 3.6M479.9 153.7l-0.4-2.9M481.3 150.5l-1.8 0.3M479.6 204.8l3 4.8M479.6 204.8l3.9-0.9M479.7 158.5l1.5 0.1M480.1 267.8l-0.3-0.5M479.8 267.3l2.1-1.3M481.2 177.3l-1.3-0.4M482.6 154.9l-2.7-1.2M481.6 242.5l-1.6-1.8M480.1 236.8l-0.1 3.9M480 106.3l0.7 1.2M480 106.3l3.2-3.3M483 93.2l-3-0.7M481.1 268.9l-1-1.1M482.2 122.7l-2.1-2.5M480.2 119.6l-0.1 0.6M480.1 192.2l1 0M480.6 236.1l-0.5 0.7M480.2 119.6l0.2-0.2M480.3 224.8l2 1.5M480.4 119.4l1.5-1.2M480.6 186.9l2.1-1.3M483.6 234.6l-3 1.5M482.7 185.6l-2-6M480.7 179.6l0.5-2.3M480.7 260.3l1.3-1M481 107.6l-0.3-0.1M480.9 218.1l0.4-0.1M481 130.8l0.6 0.9M481.5 129.5l-0.5 1.3M481.4 108.5l-0.4-0.9M481 107.6l0.8-0.3M483.2 103l-2.1-1.9M481.1 101.1l0.4-0.6M481.1 166l3.6 4.1M481.6 164.8l-0.5 1.2M481.1 192.2l6.3 3.7M481.1 192.2l3.5-1M481.9 214l-0.7-1.2M481.2 212.8l0.5-2M481.2 177.3l3.2-0.8M483.1 162.9l-1.9-4.3M481.2 158.6l0.4-0.4M481.9 218.4l-0.6-0.4M481.3 218l0.6-4M481.3 150.5l3.2 2.6M481.3 150.5l2.3-3.7M481.3 96.6l0.2 3.9M481.3 96.6l1.9-1.3M482 259.3l-0.6-0.5M481.4 108.5l1.8 2.6M483.6 234.6l-2.2-6.8M481.4 227.8l0.9-1.3M482.3 129.1l-0.8 0.4M482.6 138.8l-1.1-4M481.5 134.8l0.7-0.4M481.5 246.3l0.5 0.4M481.6 242.5l-0.1 3.8M484.3 99.9l-2.8 0.6M482.2 134.4l-0.6-2.7M484.9 131.5l-3.3 0.2M483.1 162.9l-1.5 1.9M481.6 144.9l0-0.3M481.6 144.6l0.5-0.9M482.6 154.9l-1 3.3M485.4 158.1l-3.8 0.1M483.6 146.8l-2-1.9M486.8 240.7l-5.2 1.8M481.7 210.8l0.9-1.2M481.8 107.3l5 0.8M481.8 107.3l3.6-2.8M482.1 143.7l-0.3-4.5M481.8 139.2l0.8-0.4M481.9 214l4.4-0.4M484.4 222.1l-2.5-3.7M481.9 218.4l5.3-2.4M481.9 118.2l1.2 0.1M482.5 114.5l-0.6 3.7M482 246.7l1.1 4.9M482 246.7l4.4-0.1M482.3 259.3l-0.3 0M482.1 113.5l0.4 1M482.1 113.5l1.1-2.4M482.1 143.7l3.1-1.9M483.2 257.9l-1-5.2M483.1 251.6l-0.9 1.1M483.5 134.5l-1.3-0.1M482.2 122.7l0.5 1.8M486.6 121.4l-4.4 1.3M482.3 226.3l0 0.2M484.4 222.4l-2.1 3.9M486.2 129.9l-3.9-0.8M482.5 125.2l-0.2 3.9M486.7 228.2l-4.4-1.7M483.4 260.7l-1.1-1.4M482.3 259.3l0.9-1.4M483 93.2M486.1 114.9l-3.6-0.4M482.5 125.1l0 0.1M482.5 125.1l4.2 3M482.7 124.5l-0.2 0.6M482.6 154.9l1.9-1.4M484.8 138.5l-2.2 0.3M483.8 209.3l-1.2 0.3M482.7 124.5l3.9-0.3M482.7 185.6l1.4-0.3M483.1 93.4l-0.1-0.2M485 251.7l-1.9-0.1M483.1 93.4l0.1 1.9M483.1 93.4l0.1-0.1M485.5 118.9l-2.4-0.6M486.2 114.9l-3.1 3.4M488.6 162.4l-5.5 0.5M483.2 111.1l2.1-0.2M483.2 95.3l2.1 1.6M485.4 103.6l-2.2-0.6M484.1 257.6l-0.9 0.3M484.6 200.5l-1.3-2.3M487.4 195.9l-4.1 2.3M483.5 203.9l0.4-0.1M486.1 136.9l-2.6-2.4M483.5 134.5l1.4-3M483.6 146.8l0.4 0.1M485.5 235l-1.9-0.4M486.3 213.6l-2.5-4.3M485.8 207.7l-2 1.6M483.9 203.8l1.8 1.3M484.6 200.5l-0.7 3.3M484 146.9l2.4 3.2M484 146.9l5.5-3.4M484.1 185.3l2.6 1.9M484.1 185.3l1.6-3.3M486.1 102.7l-1.8-2.8M484.3 99.9l1-2.6M484.4 222.4l6.8 3.2M484.4 222.4l0-0.3M484.4 222.1l2.9-1.9M484.4 176.5M484.4 176.5l0.6-2.6M490.4 177.7l-6-1.2M485.9 181.4l-1.5-4.9M485.6 154.4l-1.1-0.9M484.5 153.5l0-0.4M484.5 153.1l1.9-3M490.3 193.1l-5.7-1.9M486.7 187.2l-2.1 4M485 173.9l-0.4-1.8M484.7 170.1l-0.1 2M489.4 199.6l-4.8 0.9M489.4 166.5l-4.7 3.6M484.8 138.5l0.4 3.3M486.1 136.9l-1.3 1.6M486.2 129.9l-1.3 1.6M488.7 172.9l-3.7 1M489.5 143.5l-4.3-1.7M485.3 110.9l0.8 4M487 110.2l-1.7 0.7M487.4 100.1l-2.1-2.8M485.3 97.3l0-0.4M488 96.2l-2.7 0.7M485.4 104.5l1.6 2.4M485.4 103.6l0 0.9M488 160.1l-2.6-2M485.4 158.1l0.2-3.7M485.4 103.6l0.7-0.9M486.7 120.4l-1.2-1.5M487.6 115.5l-2.1 3.4M486.9 235.8l-1.4-0.8M485.5 235l1.4-6M486.7 154.8l-1.1-0.4M485.7 205.1l0.1 2.6M489.1 203.8l-3.4 1.3M485.7 182l6.1 5.9M485.9 181.4l-0.2 0.6M489 210.1l-3.2-2.4M485.9 181.4l5.3 1M486.6 102.5l-0.5 0.2M486.1 114.9l0.1 0M486.5 136.8l-0.4 0.1M487.6 115.5l-1.4-0.6M486.8 129.6l-0.6 0.3M487.6 214l-1.3-0.4M486.4 150.1l1.6-0.1M486.5 136.8l2.5 1.8M489.2 132.4l-2.7 4.4M488 102.8l-1.4-0.3M487.4 100.1l-0.8 2.4M486.6 124.2l0.4 3M487.4 122.7l-0.8 1.5M486.6 121.4l0.8 1.3M486.6 121.4l0.1-1M486.7 120.4l2.5-1.4M486.9 229l-0.2-0.8M486.7 228.2l4.5-2.2M486.7 128.1l0.1 1.5M487 127.2l-0.3 0.9M488.6 156.8l-1.9-2M489.6 152.9l-2.9 1.9M486.7 187.2l5.1 0.7M487 110.1l-0.2-2M486.8 108.1l0.2-1.2M488.1 243.1l-1.3-2.4M486.8 240.7l0-0.2M486.8 129.6l2.4 1.4M486.9 235.8l-0.1 4.7M486.8 240.5l1.9-0.2M490.2 231.9l-3.3-2.9M489.7 234.8l-2.8 1M488.2 115.4l-1.2-5.2M487 110.1l0 0.1M491.5 124.4l-4.5 2.8M487 110.1l4.1 0.5M489.2 106.1l-2.2 0.8M487.3 220.2l-0.1-4.2M487.9 214.6l-0.7 1.4M491.3 220.8l-4-0.6M487.4 195.9l2.8-0.3M490.9 123.3l-3.5-0.6M487.4 100.1l3.3-1.5M487.6 214l0.3 0.6M489 210.1l-1.4 3.9M488.2 115.4l-0.6 0.1M491.3 215.8l-3.4-1.2M488.6 162.4l-0.6-2.3M488.6 156.8l-0.6 3.3M489.6 152.9l-1.6-2.9M488.8 149.3l-0.8 0.7M491 97.8l-3-1.6M488 96.2l0.1-0.5M488 102.8l1.2 3.3M490 102.3l-2 0.5M488.2 115.4l0.1 0M488.3 115.4l1.1 1.2M491.1 112.3l-2.8 3.1M490.2 155.9l-1.6 0.9M490.8 163.8l-2.2-1.4M491 173.2l-2.3-0.3M488.7 172.9l1.5-3.4M492.5 150.5l-3.7-1.2M490.6 144.6l-1.8 4.7M489 138.6l0.9 4.4M489 138.6l4.1-2.2M491.3 209.1l-2.3 1M491.5 205.4l-2.4-1.6M489.1 203.8l0.3-4.2M489.2 119l2.3 1.8M489.2 119l0.2-2.4M492.6 106.5l-3.4-0.4M489.2 132.4l0-1.4M489.2 131l1.4-0.7M489.2 132.4l3.9 4M489.4 166.5l0.8 3M490.8 163.8l-1.4 2.7M491.6 116.7l-2.2-0.1M489.4 199.6l1.5-2.4M489.5 143.5l0.3 0M490.2 153.3l-0.6-0.4M490.6 144.6l-0.8-1.1M489.8 143.5l0.1-0.5M489.9 143l3.3-2.8M490 102.3l2.9 3.5M490 102.3l0.6-1.6M490.9 197.2l-0.7-1.6M490.3 193.1l-0.1 2.5M492 171.3l-1.8-1.8M490.2 155.9l3.5 1.3M490.2 153.3l0 2.6M490.2 153.3l1.6-0.5M492.6 188.4l-2.3 4.7M490.4 177.7l1.2 0.9M491.5 173.8l-1.1 3.9M490.6 130.3l5.8 1.2M490.6 130.3l2-5M490.6 100.7l3.6 1.6M490.7 98.6l-0.1 2.1M494 145.7l-3.4-1.1M491 97.8l-0.3 0.8M490.8 163.8l2.8-0.4M490.9 123.3l0.6 1.1M490.9 123.3l0.6-2.5M492.3 197.7l-1.4-0.5M491.4 97.7l-0.4 0.1M491.5 173.8l-0.5-0.6M492 171.3l-1 1.9M491.1 110.6l0 1.7M491.1 110.6l1.5-1.6M491.1 112.3l0.5 0.6M491.2 182.4l2 3.8M491.6 178.6l-0.4 3.8M491.5 173.8l2.4 0.6M492.7 119.9l-1.2 0.9M491.5 124.4l1.1 0.9M491.5 205.4l0.1 0.4M491.5 205.4l0.3-0.3M492.2 178.3l-0.6 0.3M492.7 119.9l-1.1-3.2M491.6 116.7l0.9-0.8M493.9 113.6l-2.3-0.7M491.6 112.9l0.9 3M494 154.6l-2.2-1.8M491.8 152.8l0.7-2.3M492.5 188.1l-0.7-0.2M495.5 170.2l-3.5 1.1M492.2 178.3l4.2 0.4M493.9 174.4l-1.7 3.9M492.3 197.7l1 2M492.3 197.7l1.7-0.3M492.5 115.9l3 0.1M492.5 150.5M493.9 147.7l-1.4 2.8M495.6 152l-3.1-1.5M492.5 188.1l0.1 0.3M492.5 188.1l0.7-1.9M492.6 106.5l0 2.5M492.6 106.5l0.3-0.7M497.1 190.9l-4.5-2.5M492.6 125.3l0.1 0M492.6 109l2.6 1.3M493.3 119.9l-0.6 0M496.4 131.5l-3.7-6.2M493.2 125.2l-0.5 0.1M492.9 105.8l1.3-0.9M493.1 136.4l0.1 0M493.2 186.2l3.8-2.7M493.2 140.2l0-3.8M493.5 136.3l-0.3 0.1M496.1 141.2l-2.9-1M497.8 127.9l-4.6-2.7M494.7 124l-1.5 1.2M493.3 119.9l1.5 0.7M493.3 119.9l2.2-3.9M497.1 139l-3.6-2.7M497.1 132.2l-3.6 4.1M493.6 163.4l3.1 1.3M493.6 163.4l0.1-6.2M494.3 156.3l-0.6 0.9M496.3 150.9l-2.4-3.2M493.9 147.7l0.1-2M493.9 113.6l1.7 2.3M495.2 110.3l-1.3 3.3M495.1 174l-1.2 0.4M494.3 156.3l-0.3-1.7M494 154.6l1.6-2.6M494 145.7l1.3-0.3M494.2 104.9l0.4 0M494.2 102.3l0 2.6M494.9 100.4l-0.7 1.9M498 155.6l-3.7 0.7M498.5 107.4l-3.9-2.5M498.3 103.1l-3.7 1.8M494.7 124l0.1-3.4M494.7 124l3.1-0.4M495.9 120.4l-1.1 0.2M495.1 174l2.6 2.7M495.5 170.2l-0.4 3.8M495.4 110.4l-0.2-0.1M497.1 149.8l-1.8-4.4M495.3 145.4l0.5-0.3M496.3 111.2l-0.9-0.8M495.4 110.4l3.1-3M495.5 170.2l1.1-1.6M495.5 116l0.1-0.1M495.6 152l0.6-0.3M495.7 115.9l-0.1 0M497.3 118.8l-1.6-2.9M496.3 115.3l-0.6 0.6M499.4 148.4l-3.6-3.3M496 144.8l-0.2 0.3M498 123l-2.1-2.6M495.9 120.4l1.4-1.6M496 144.8l0.1-3.6M498 144.3l-2 0.5M496.1 141.2l1.2-1.6M497.7 152.6l-1.5-0.9M496.2 151.7l0.1-0.8M496.3 111.2l3.7 0.3M496.3 111.2l0 4.1M496.3 150.9l0.8-1.1M496.3 115.3l4.3-0.6M496.4 178.7l0.6 4.8M497.7 176.7l-1.3 2M496.8 131.7l-0.4-0.2M501.5 175.4l-4.9-6.8M496.6 168.6l0.3-2.6M496.7 164.8l0-0.1M496.7 164.7l0.5-0.3M496.7 164.8l6.8 2.9M496.7 164.8l0.2 1.2M497.1 132.2l-0.3-0.5M497.8 127.9l-1 3.8M496.9 166l5.4 3.7M499.9 183.7l-2.9-0.2M497.3 139.6l-0.2-0.6M499.6 133.9l-2.5 5.1M497.1 149.8l2.2-0.9M499.4 133.3l-2.3-1.1M505.5 165.4l-8.3-1M497.9 163.5l-0.7 0.9M499.9 119.4l-2.6-0.6M500.5 140.3l-3.2-0.7M500.1 176.1l-2.4 0.6M498 155.6l-0.3-3M497.7 152.6l2.1-0.9M497.8 123.6l1.2 2.9M497.8 123.6l0.2-0.6M499 126.5l-1.2 1.4M498.9 161.1l-1 2.4M497.9 163.5l7.6-2.6M498 144.3l3.4 2.7M498 144.3l1.8-1.1M498 155.6l0.2 0.1M498 123l1.9-1.6M498.2 155.7l0.7 5.4M498.2 155.7l1.6-0.2M499.8 107.3l-1.3 0.1M500.3 105.4l-0.9-1.4M498.9 161.1l3.1-3M500 126.5l-1 0M499.3 148.9l0.6 1.2M499.4 148.4l-0.1 0.5M499.4 148.4l2-1.4M499.6 133.9l-0.2-0.6M499.8 133.1l-0.4 0.2M499.6 133.9l0 0.1M499.6 134l2.7 2.3M499.6 134l0.9 6.3M499.8 155.5l2.2 2.6M499.8 155.5l2.3-2.1M499.8 133.1l5.1 0.2M503 129l-3.2 4.1M499.8 143.2l3.5 2.6M500.7 140.4l-0.9 2.8M500 111.5l-0.2-4.2M500.3 106.9l-0.5 0.4M502.1 153.4l-2.3-1.7M499.8 151.7l0.1-1.6M499.9 121.4l0-2M499.9 119.4l0.7-0.8M499.9 150.1l3.8-0.3M499.9 121.4l2.5 1.7M501 184l-1.1-0.3M499.9 183.7l0.2-7.6M500 111.5l1.7 1.9M503 129l-3-2.5M501.8 124.7l-1.8 1.8M500.1 176.1l1.4-0.7M500.3 105.4l0 1.5M500.7 105.1l-0.4 0.3M500.3 106.9l1.7 0.4M500.5 140.3l0.1 0.1M500.6 118.6l0-3.9M500.6 114.7l1.1-1.3M500.7 140.4l-0.1 0M502.3 136.3l-1.7 4.1M500.6 118.6l2.5 0.4M500.7 140.4l3.8 0.4M501.4 147l1.4-0.4M501.5 175.4l1.8 0M503.3 180.5l0.8-1.4M501.9 113.3l-0.2 0.1M504.8 127.2l-3-2.5M501.8 124.7l0.6-1.6M501.9 113.3l2.5 3.2M502.2 113.2l-0.3 0.1M502 107.3l1.7 3.4M502.9 106.9l-0.9 0.4M502 158.1l0.5-0.1M502.1 153.4l0.2 0M502.2 113.2l4.8 0.5M502.2 113.2l1.5-2.5M504.6 172.6l-2.3-2.9M503.5 167.7l-1.2 2M502.3 136.3l0.8 0.3M503.4 154.3l-1.1-0.9M502.3 153.4l1.6-3.4M503.9 122.7l-1.5 0.4M502.5 158l3 2.9M502.5 158l0.9-1.4M502.8 146.6l0.9 3.2M502.8 146.6l0.5-0.8M504.3 128.7l-1.3 0.3M503.9 119.7l-0.8-0.7M503.1 119l1.3-2.5M505 138.4l-1.9-1.8M503.1 136.6l2-2.8M503.7 145.5l-0.4 0.3M503.3 175.4l0.9 2.2M503.3 175.4l1.1-1.3M503.4 156.6l0-2.3M503.4 154.3l2.8-0.3M505.8 157.2l-2.4-0.6M505.8 166.7l-2.3 1M503.7 149.8l0.2 0.2M505.2 145.8l-1.5-0.3M504.5 140.8l-0.8 4.7M503.7 110.7l1.8-0.9M505.5 123.4l-1.6-0.7M503.9 122.7l0-3M503.9 150l1.2 0.2M503.9 119.7l2.1-0.5M504.3 179.3l-0.2-0.2M504.2 177.6l-0.1 1.5M505.3 178l-1.1-0.4M504.3 128.7l1.6 3.1M504.3 128.7l0.5-0.7M504.4 116.5l0.9 0.2M504.4 174.1l3.7 0.4M504.4 174.1l0.2-1.5M505.4 140.2l-0.9 0.6M505.8 170.9l-1.2 1.7M504.8 128l4.9 2.5M504.8 128l0.1-0.2M504.9 127.8l-0.1-0.6M504.8 127.2l0.7-3.8M504.9 127.8l3.1-0.7M504.9 133.3l0.2 0.5M505.9 131.8l-1 1.5M505.4 140.2l-0.4-1.8M505 138.4l1.3-3M505.3 108.7l0.2 1.1M506.3 135.4l-1.2-1.6M505.1 150.2l1.5 3M506.7 149.4l-1.6 0.8M505.2 145.8l0.6 0.8M508.3 144.9l-3.1 0.9M506.4 118l-1.1-1.3M507.3 114.2l-2 2.5M507.2 140.4l-1.8-0.2M506.1 109.9l-0.6-0.1M505.5 123.4l1.4-0.3M505.5 160.9l1.3 0.3M505.5 165.4l0.3 1.3M505.5 165.4l2.2-3.7M508.9 148.2l-3.1-1.6M506.7 149.4l-0.9-2.8M506.8 161.2l-1-4M505.8 157.2l1.3-1.7M506.7 168.5l-0.9-1.8M505.8 170.9l4.9 0.4M506.7 168.5l-0.9 2.4M505.9 131.8l3.9-0.1M506.9 123.1l-0.9-3.9M506 119.2l0.5-0.4M506.1 109.9l1.2 1.4M506.7 109.4l-0.6 0.5M506.2 154l0.9 1.5M506.6 153.2l-0.4 0.8M509.3 135.3l-3 0.1M506.4 118l0.1 0.8M508.9 115.8l-2.5 2.2M509.3 119.7l-2.8-0.9M509 152l-2.4 1.2M506.7 168.5l6.3-1M508.5 149.3l-1.8 0.1M507.7 161.7l-0.9-0.5M506.9 123.1l0.7 0M507 113.7l0.3 0.5M507 113.7l0.3-2.4M507.1 155.5l0.9 0.4M507.2 140.4l1.1 4.5M507.2 140.4l1.4-0.5M507.3 111.3l1.3-0.3M507.3 114.2l0.3 0.1M508.9 115.8l-1.3-1.5M510.2 112.3l-2.6 2M507.6 123.1l0.7 0.6M509.3 119.7l-1.7 3.4M507.7 161.7l0.3 0M508 127.1l1.9 1.8M508 127.1l0.5-2.3M508.5 160.6l-0.5-4.7M508 155.9l0.9-0.3M512.5 164.1l-4.5-2.4M508.5 160.6l-0.5 1.1M508.5 124.8l-0.2-1.1M511.2 123.2l-2.9 0.5M510.2 146l-1.9-1.1M508.5 149.3l0.6 1.1M508.5 149.3l0.4-1.1M510.5 158.5l-2 2.1M511.7 126.5l-3.2-1.7M510.2 112.3l-1.6-1.3M508.6 111l0.3-0.5M510.2 140.4l-1.6-0.5M508.6 139.9l0.9-3.5M511.5 117l-2.6-1.2M510.2 146l-1.3 2.2M511.5 157.1l-2.6-1.5M510.1 153.1l-1.2 2.5M509 152l1.1 1.1M509.1 150.4l-0.1 1.6M509.1 150.4l3-0.4M510.7 119l-1.4 0.7M509.3 135.3l0.2 1.1M509.3 135.3l1.3-2.6M513.7 137.7l-4.2-1.3M509.7 130.5l0.1 1.2M509.7 130.5l0.2-1.6M509.8 131.7l0.8 1M511.1 127.9l-1.2 1M513.4 153.7l-3.3-0.6M512.8 145.5l-2.6 0.5M512.3 142.6l-2.1-2.2M510.2 140.4l3.5-2.7M510.2 112.3l1.2 0.1M514.2 160.8l-3.7-2.3M510.5 158.5l1-1.4M511.6 132.7l-1 0M512.4 122l-1.7-3M511.5 117l-0.8 2M514.7 129.8l-3.6-1.9M511.7 126.5l-0.6 1.4M512.1 126.2l-0.9-3M512.4 122l-1.2 1.2M513 114.5l-1.6-2.1M511.4 112.4l0-0.6M511.5 157.1l3.6-1.4M512.5 116.4l-1 0.6M514.8 135.6l-3.2-2.9M514.7 130.2l-3.1 2.5M512.1 126.2l-0.4 0.3M512.1 126.2l2.4-0.2M512.1 150l1.2 2.1M513.2 146.1l-1.1 3.9M512.3 142.6l0.5 2.9M516.1 138.5l-3.8 4.1M512.9 122.1l-0.5-0.1M512.5 164.1l0.8 1.6M512.5 164.1l1.7-3.3M515.1 120.8l-2.6-4.4M512.5 116.4l0.1 0M517.6 117.6l-5-1.2M512.6 116.4l0.4-1.9M512.9 145.5l-0.1 0M512.9 145.5l0.3 0.6M517.6 142.3l-4.7 3.2M515.2 125.2l-2.3-3.1M515.1 120.8l-2.2 1.3M513 167.5l0.2 0.9M513 167.5l0.3-1.8M513.7 113.9l-0.7 0.6M513.4 146.2l-0.2-0.1M513.3 165.7l1.1-0.3M513.3 152.1l0.1 1.6M513.5 151.9l-0.2 0.2M515.1 155.7l-1.7-2M517.8 146.2l-4.4 0M514.9 148l-1.5-1.8M514.9 148l-1.4 3.9M516.3 149.2l-2.8 2.7M515.2 137.4l-1.5 0.3M513.7 113.9l0.6-1.2M519.7 113.9l-6 0M514.9 159.6l-0.7 1.2M515.5 165.6l-1.1-0.2M517.5 163.1l-3.1 2.3M514.9 129.3l-0.4-3.3M514.5 126l0.7-0.8M514.7 129.8l0 0.4M514.9 129.3l-0.2 0.5M517.1 131.8l-2.4-1.6M515.1 136.5l-0.3-0.9M517.2 131.9l-2.4 3.7M516.3 149.2l-1.4-1.2M514.9 129.3l5-2.1M514.9 159.6l3.7 2.2M514.9 159.6l0.4-3.9M515.2 137.4l-0.1-0.9M519 133.9l-3.9 2.6M515.1 120.8l2.2 0.1M515.3 155.7l-0.2 0M517.3 124.7l-2.1 0.5M515.2 137.4l0.9 1.1M515.3 155.7l0.2 0M515.5 155.7l1.1 0.1M517.8 150l-2.3 5.7M516.8 138.8l-0.7-0.3M516.3 149.2l1.5 0.8M516.6 155.8l3.3 1.6M520.8 152.4l-4.2 3.4M516.8 138.8l0.8 3.5M516.8 138.8l3.1-1.1M517.2 131.9l-0.1-0.1M517.1 131.8l3.6-4.1M517.2 131.9l1.6 1.3M518 121.9l-0.7-1M517.6 117.6l-0.3 3.3M517.3 124.7l2.6 2.5M518 121.9l-0.7 2.8M518.6 143.1l-1-0.8M517.6 117.6l2.6-2.1M519.1 147.8l-1.3-1.6M518.6 143.1l-0.8 3.1M517.9 149.9l-0.1 0.1M517.9 149.9l2.7 1.5M517.9 149.9l1.2-2.1M521.4 121.4l-3.4 0.5M519.5 113.3l0.2 0.6M518.7 161.6l1.2-3.7M520 143.3l-1.4-0.2M519 133.9l-0.2-0.7M520.2 132.3l-1.4 0.9M520.8 136.4l-1.8-2.5M519.1 147.8l0.9-0.3M520.2 114.5l-0.5-0.6M519.9 157.9l0-0.5M521.6 156.6l-1.7 0.8M520.7 127.7l-0.8-0.5M522.4 141l-2.5-3.3M519.9 137.7l0.9-1.3M519.9 157.9l0.9 1.1M520 143.3l0.7 3.2M520.7 143l-0.7 0.3M522.7 149.6l-2.7-2.1M520 147.5l0.7-1M522 117.6l-1.8-2.1M520.2 115.5l0-1M521.9 113.6l-1.7 0.9M522.7 133.3l-2.5-1M521 127.8l-0.8 4.5M520.6 151.4l0.2 1M520.6 151.4l2.1-1.8M520.9 127.7l-0.2 0M523 146.2l-2.3 0.3M520.7 143l2.3 1.7M520.7 143l1.7-2M521.7 136l-0.9 0.4M520.8 152.4l2 1.7M521 127.8l-0.1-0.1M522.3 122.5l-1.4 5.2M525 128.9l-4-1.1M522.3 122.5l-0.9-1.1M522.1 119.2l-0.7 2.2M521.6 156.6l0.8 0.5M522.9 154.6l-1.3 2M524.3 137l-2.6-1M521.7 136l1-2.7M522.1 119.2l-0.1-1.6M522 117.6l4-0.4M526.5 120.8l-4.4-1.6M522.3 122.5l2.3 0.3M522.4 141l0.5 0M522.7 149.6l1.4-0.1M525.1 131.2l-2.4 2.1M522.8 154.1l0.1 0.5M524.3 151.4l-1.5 2.7M522.9 141l0.9 0.5M524.8 138l-1.9 3M522.9 154.6l1.3 0.3M523 146.2l2.2 1.8M523 144.7l0 1.5M523 144.7l1.3-1.1M523.8 141.5l0.5 2.1M523.8 141.5l2.1-0.2M524.3 151.4l-0.2-1.9M524.1 149.5l1-1.2M524.3 151.4l1.9 1.2M524.8 138l-0.5-1M524.3 137l2.2-2.4M524.3 143.6l2.7 1.4M526.1 127.5l-1.5-4.7M524.6 122.8l1.9-2M524.8 138l2 0.8M525 128.9l0.3 1.3M525 128.9l1.1-1.4M526.5 134.6l-1.4-3.4M525.1 131.2l0.2-1M527.1 150.1l-2-1.8M525.1 148.3l0.1-0.3M526.8 146.5l-1.6 1.5M525.3 130.2l5.5 1.9M527.5 144.4l-1.6-3.1M525.9 141.3l0.8-1M527 120.1l-1-2.9M526.9 115.6l-0.9 1.6M526.1 127.5l1-0.5M526.6 152l0.5-1.9M526.6 120.8l-0.1 0M526.8 134.7l-0.3-0.1M526.6 120.8l2.1 2.9M526.6 120.8l0.4-0.7M526.7 140.3l2.5 1.5M526.8 138.8l-0.1 1.5M526.8 134.7l1.8 2.6M526.8 134.7l3.5-1.1M526.8 146.5l3 1.4M527 145l-0.2 1.5M526.8 138.8l2-1.1M529.4 119.7l-2.4 0.4M527.5 144.4l-0.5 0.6M527.1 127l2.5 0.4M528.7 123.7l-1.6 3.3M527.1 150.1l0.9 0.3M528.7 143.7l-1.2 0.7M528.6 137.3l0.2 0.4M528.6 137.3l1.7-3.6M531 122.9l-2.3 0.8M528.7 143.7l2.4 0.9M528.7 143.7l0.5-1.9M528.8 137.7l1.8 0.8M529.2 141.8l1.1-1.1M531.2 131.8l-1.6-4.4M529.6 127.4l0.3-0.1M531 122.9l-0.6-1.4M531.1 144.6l-1.2 3.3M533.5 129.2l-3.6-1.9M532.2 125.3l-2.3 2M530.3 133.6l0 0.1M530.8 132.1l-0.5 1.5M533 142.8l-2.7-2.1M530.3 140.7l0.3-2.2M532.5 137l-2.2-3.3M531.3 138.2l-0.7 0.3M530.8 132.1l0.4-0.3M531.3 123.1l-0.3-0.2M531.1 144.6l1.3-0.2M531.2 131.8l2-0.3M533.5 140.4l-2.2-2.2M532.5 137l-1.2 1.2M532.5 137l0.4-0.1M534 137.4l-1.1-0.5M532.9 136.9l1.1-2.3M534 132.1l-0.8-0.6M533.5 129.2l-0.3 2.3M533.5 129.2l0.1-0.2" fill="none" stroke="#fff" stroke-width="0.5" stroke-opacity="0.25"/>
<path d="M125.6 128.3l1.4 0.2l4.6-1.8l3.6 2.4M130.3 142.2l-5.3 0.2l-0.5-0.3M131.7 153.5l-4.5-1M130.6 158.1l1.1-0.6M130.3 142.2l0.9 5.6l0.5 5.7M135.2 129.1l-1.6 4.4l-2.1 4.2l-1.2 4.5M132.8 158.9l-1.1-1.4M131.7 157.5l-0.1-1.9l0.2-1.8M131.8 153.8l1-0.6l-1.1 0.3M131.8 153.8l4.3-1.3l4.3-0.9l4.3-1M138 126.7l-2.2-3.5l-0.5-4.1l-1.4-3.8l-0.9-2.6M135.5 110.9l2-0.3l0.8-1.7M137.3 127.7l-0.3 1.8l-1.8-0.4M138 126.7l0.6 1.1l-1.3-0.1M137.3 127.7l2.5 4.5l3.6 3.5l4 3.1l3.6 3.5M138 126.7l2.9-3.4l4-1.2l4.1-0.9M144.7 150.6l2.3 3.9l3 3.5l1.5 3.4M144.7 150.6l1.5-4l4.3 0.3M153.6 103.6l-1.1-0.1M166.2 132l-3.6-1.8l-3.1-2.8l-2.9-3l-3.9-1.4l-3.7-1.8M149 121.2l2.6-3.3l-0.1-4.4l1.9-3.6l2.4-3.3M150.5 146.9l3.3 2.6l2 3.8l3.5 2.3M151 142.3l-1.9 2.1l1.4 2.5M168.6 172.6l-4.6-2l-5.1-0.9l-3.2-2.9M151 142.3l5.2-1.2l5.1-1.7l4.4-3.1M152.8 161l2.3-2.6l4.2-2.8M155.8 106.6l-0.9-1.6l-1.3-1.4M153.6 103.6l0-0.6M169.2 106.6l-4.4-2.1l-4.5 3.9l-4.5-1.8M163.9 59.4l0.7-2.5M164.3 155.5l-2.5-0.8l-2.5 0.9M161.8 55.2l0.3 0.1l2.5 1.6M166 91.7l4.1 2.4l3.9 2.5l3.1 3.6M164.3 155.5l3.8 3.4l1.3 5.2l3.5 3.7M164.3 155.5l1.1-4l1-3.9l3-3.1M166.2 56.7l-0.8 0.2l-0.8 0M168.6 172.6l-2.9 2.3l-0.2 0.7M167.2 77.2l2.2-0.1l4-1.4M165.7 136.3l2.3 3.9l1.4 4.3M165.7 136.3l1.7-2l-1.2-2.3M172.5 61.6l-3.4-2.2l-2.9-2.7M172.2 42.9l-0.8 5.1l-3.1 4.1l-2.1 4.6M166.2 132l2.7-2.8l3.2-2.2M168.6 172.6l2.5-2l1.7-2.7M172.1 127l0.1-4.1l-1.3-4l-0.2-4.2l-0.1-4.1l-1.4-4M169.2 106.6l3.8-3.3l4.4-2.2M169.4 144.5l4.8 0.9l5 0.6M172.2 42.9l-1.1-2.6l0-0.4M172.1 127l4.2 1.6l4.2-1.1M183.1 49.6l-4.1-1.5l-3.2-3l-3.6-2.2M172.5 61.6l0.5 1.2l0.8 0.9M183.1 49.6l-3.2 2.6l-1.1 4.3l-4.1 1.7l-2.2 3.4M172.9 167.8l0.9 0.5l-1-0.4M172.8 167.9l3.2 4.3l1.2 2M179.5 165.4l-3.3 1.2l-3.3 1.2M173.4 75.7l1.2-6l-0.8-6M173.4 75.7l1.3-1l-0.5 1.5M173.8 63.7l5.2-1.3l5.4-0.4M174.2 76.2l4.9 0.6l5-0.2M177.1 100.2l-1.2-3.9l1.5-4.2l-1-4l-1.1-3.9l-1.3-3.9l0.2-4.1M177.4 101.1l-1.2 0l0.9-0.9M185.7 101.9l-4.4 1.6l-3.9-2.4M185.2 154.8l-3.2-4.3l-2.8-4.5M179.2 146l4.1-2.6l1.6-4.6M186.7 168.7l-3.4-2l-3.8-1.3M185.2 154.8l-1.7 3.7l-1.5 3.7l-2.5 3.2M180.5 127.5l0.5 4.1l2.2 3.6l1.7 3.6M189.4 121.6l-4.7 2.5l-4.2 3.4M183.1 49.6l1.1 1.4l1.3-1.1M193.5 90.1l-2.1-3.6l-2.2-3.4l-3.3-2.8l-1.8-3.7M184.1 76.6l4.1-3.1l2.8-4.3M184.4 62l2.7 3.1l4 1.1M184.4 62l-0.1-4.1l1.3-3.9l-0.1-4.1M184.9 138.8l5.4-0.2l5.3 0.9l5.2 1M185.2 154.8l4.4-1.1l4.5-0.7M186.2 49.7l-1.1-1.9l0.4 2.1M187.8 104.6l-1.6-1l-0.5-1.7M193.5 90.1l-2.3 4.1l-3.3 3.5l-2.2 4.2M190 51.5l-2.7 0.8l-1.1-2.6M190.2 39.1l-1.6 1.2l0.4 5.3l-2.8 4.1M187.8 104.6l0.4 2.2l1.8 1.3M212.9 98l-4.6-0.4l-3.7 2.9l-4.4 0.1l-4.2 1l-3.9 2.3l-4.3 0.7M189.4 121.6l4.4 2.2l3.8 2.8l1.4 5.4l4.1 2.5M189.4 121.6l-1.2-4.9l2.6-4.3M190.8 112.4l-0.2-2.2l-0.6-2.1M221.6 106.7l-4.5 0.7l-4.6-0.1l-4.4 1.1l-4.6-1.3l-4.5 1.3l-4.5-1.2l-4.5 0.9M190 51.5l5.4 0.6l5.2 1M190 51.5l0.4 4.5l0.8 4.4l0.4 4.5M218.2 122.7l-4-1.2l-4.1-1.1l-3.6-2.4l-3.6-2.2l-4.1-0.9l-4-1.4l-4-1.1M204.3 78.3l-3.5-2.1l-3.6-1.8l-2.9-2.8l-3.3-2.4M191 69.2l-0.9-1.5l1-1.4M191.1 66.3l-0.5 0.1l0.5-0.2M191.6 64.9l0.8 1.1l-1.3 0.2M198.4 65.1l-3.6 1.1l-3.7 0.1M200.6 53.1l-1.9 4.8l-3.7 3.4l-3.4 3.6M204.2 85.4l-4.7 3.8l-6 0.9M194.1 153l1.6 4.8l2.9 4.1M194.1 153l1.1-4.2l2.8-2.9l3.1-2.7M198.1 163.6l0.4-1.4M203.2 67.1l-2.2-1.6l-2.6-0.4M205.2 55.4l-4.3 4.2l-2.5 5.5M198.5 162.2l1.2 0l-1.1-0.3M211.9 171l-0.8-1.1M201.4 162.7l-2.9-0.5M212.3 158.2l-4.9 0.3l-4.2 2.6l-4.6 0.8M206.1 51.6l-3-0.2l-2.5 1.7M201.1 143.2l-1.4-1.2l1.1-1.5M203.1 134.5l-0.4 3.3l-1.9 2.7M212.1 152.2l-3.3-3.5l-4.4-2l-3.3-3.5M203.1 134.5l4.2-2.5l4.7-1.7l3.5-3.6M204.3 78.3l-1.2-5.5l0.1-5.7M203.2 67.1l-0.4-2l2-0.5M211.1 172.4l0.3-0.2M212.9 98l-1.8-4.9l-4.6-3.1l-2.3-4.6M204.2 85.4l0.8-2.3l1.2-2.2M206.2 80.9l-1.8-0.7l-0.1-1.9M217 69.6l-4.3-1l-4.1-1.7l-3.8-2.3M204.8 64.6l-0.7-4.6l1.1-4.6M206.1 51.6l-0.7 1.8l-0.2 2M208 49.2l-1.9 2.4M217.1 75.5l-3.4 2.4l-3.3 2.4l-4.2 0.6M220.4 20.8l0.7-2.4M215.5 179.8l-2.3 3.2M211.4 172.2l4.5 2.4l-0.4 5.2M211.4 172.2l0.1-0.7l0.4-0.5M219.9 51.4l-5.1-0.2l-2.2-2.6M211.9 171l0.8 0.1l-0.3-0.8M212.1 152.2l-1.5 3l1.7 3M212.1 152.2l3.7-1.8l3.8-1.3l3.4-2.4M215.1 163.5l-0.5-3.2l-2.3-2.1M229.9 175.2l-4.2-1.9l-4.9 0.7l-4.1-2l-4.3-1.7M215.1 163.5l-1.1 3.5l-1.6 3.3M212.9 98l3.2 2.7l3.4 2.3l2.1 3.7M215.1 163.5l5.7 0l5.7-0.5M215.5 179.8l-0.6 0l0.6 0M215.5 179.8l4.8-1.4l4.5-2.6l5.1-0.5M215.5 179.8l2.3 4.2l4.6 1.1M223 146.7l0.2-4.7l-3-3.4l-0.8-4.2l-1.7-4l-2.2-3.7M215.5 126.7l2.2-1.5l0.5-2.5M217.1 75.5l0.5-3l-0.6-2.9M219.9 51.4l-0.7 4.5l0.3 4.8l-1 4.5l-1.5 4.4M226.7 79.8l-4.6-2.6l-5-1.7M218.2 122.7l3.9-4.1l4.4-3.4M222.4 185.1l-2 2.9l-1.2 1.7M229.2 50.2l-4.6 1.1l-4.7 0.1M236.9 16.8l1.2 0.1M219.6 14.7l1.5 3.7M221.1 18.4l1 5l4.6 2.6l2.8 3.7l2.4 4.1l2.6 3.9M221.6 106.7l1.1 0.5l0.9 0.7M222.4 185.1l1.6 0.3l1.6-0.4M223 146.7l3.4 0l2.7 1.9M226.5 115.2l-2.4-3.3l-0.5-4M223.6 107.9l1.2-4.6l3.2-3.7l0.8-4.7M225.6 185l0.2 3.9l0.7 2.2M229.9 180.4l-2.6 1.9l-1.7 2.7M226.5 163l2.3 2.9l2.7 2.5M229.4 149.2l-1.1 4.6l-0.4 4.7l-1.4 4.5M226.5 115.2l2.4 0.3l2.1 1.3M226.7 79.8l1.1 5l1.6 4.9l-0.6 5.2M226.7 79.8l3.4-2l3.4-2M228.8 94.9l3.7-2.9l4.2-1.2l4.7 0.5M229.1 148.6l0.2 0.3l0.1 0.3M229.1 148.6l2.9-4.1l2.3-4.5l2-4.7M232.9 53l-2.2-1.1l-1.5-1.7M234.5 37.7l-0.8 4.6l-3.1 3.6l-1.4 4.3M229.4 149.2l4.3 0.9l3.9 1.6l3.4 3.3l4.6-0.1M237.8 189.7l-2.7-3l-2.4-3.4l-2.8-2.9M229.9 180.4l0.7-2.5l-0.6-2.5M229.9 175.2l1.4 0l-1.4 0.1M229.9 175.2l0.4-3.5l1.2-3.3M230 175.4l-1 0.3l0.9-0.4M240.7 178.8l-5.4-1.5l-5.3-1.9M231.9 116.7l-0.2 2.4l-0.7-2.3M236.3 135.3l-1-4.7l-1.8-4.5l-1.8-4.5l-0.7-4.8M231.5 168.4l5.2-2.8l5.9-0.7M231.9 116.7l3.4 3.3l4.6 1.7l3.1 3.6l4 2.5l3.6 3M231.9 116.7l1-0.1l0.8-0.5M232.9 53l1.8 3.7l0.6 4.3l2.7 3.4l1.7 3.8M252.8 49.7l-3.9 1.1l-3.9 0.9l-3.9 1.5l-4.2-0.7l-4 0.5M233.5 75.8l2.3 4.5l5.4 1.4l2.4 4.4M239.7 68.2l-3.5 3.5l-2.7 4.1M233.7 116.1l4.4 1l4.3-1l4.3 0.2l4.4-0.6l4.3 0.5M233.7 116.1l2-4.2l3.9-2.4l1.9-4.2l4.7-1.7l2.3-3.8M241.8 33.8l-4.8 0l-2.5 3.9M238.9 193.6l-1.9-0.5l-0.1 0.2M236.3 135.3l5.2 1.2l3.9 3.7M239.2 193l-0.6-1.7l-0.8-1.6M237.8 189.7l2.4-5.2l0.5-5.7M238.1 16.9l1.1 4.2l0.3 4.3l2.6 3.9l-0.3 4.5M238.1 16.9l5.1-1.4l5.3-0.6M238.9 193.6l1.1 0.2l-0.8-0.8M238.9 193.6l0.2 0.8M246.3 189.6l-3.1 2.7l-4 0.7M239.7 68.2l5.1 0.6l5 1.2M240.7 178.8l1.9 0.1l1.4-1.4M246.9 95.6l-2.2-2.9l-3.3-1.4M241.4 91.3l1.3-2.5l0.9-2.7M241.8 33.8l4.4-0.9l4.5 0.5M244 177.5l0.6-4.3l-1.6-4.1l-0.4-4.2M242.6 164.9l3.2-2.2l2.6-3M243.6 86.1l3-2l3.4-1.1M246.4 179l-1.2-0.8l-1.2-0.7M253.7 201.4l-0.4 0.2M245.4 140.2l-0.2 0.1l0.2 0M250.6 130.8l-2.4 4.9l-2.8 4.5M245.4 140.3l5 0.6l5 0.1l5-0.9M245.6 154.9l0.1-4.9l-0.1-4.9l-0.2-4.8M245.6 154.9l1.5 1.4l1 1.8M246.3 189.6l0.7-5.3l-0.6-5.3M262.2 191l-5.3 0.2l-5.2-1.7l-5.4 0.1M246.4 179l3.2-0.3l2.9-1.4M246.9 95.6l1.1 2l0.5 2.2M246.9 95.6l4.3-3.8l3-5M248.4 159.7l0.1-0.9l-0.4-0.7M248.1 158.1l2.8-3.6l4.7-1.6l2.3-4l2.9-3.4M250.2 161l-0.5-1.2l-1.3-0.1M253.6 24.2l-1.4-5.3l-3.7-4M248.5 14.9l1.8-1.5M248.5 99.8l2.3 1.4l2.5-0.9M250 83l-0.7-4.3l0.4-4.4l0.1-4.3M249.8 70l0.6-0.4l0.8-0.2M250 83l2.4 1.5l1.8 2.3M250.2 161l5 0.8l4.9 0.7l4.8 1.6M253.1 173.3l-1.6-4l-0.5-4.2l-0.8-4.1M255.9 130.5l-2.6 0.6l-2.7-0.3M254.9 38.2l-3.5-1.2l-0.7-3.6M253.6 24.2l-2.8 4.2l-0.1 5M251.2 69.4l2.4 4.1l2.2 4.2l3 3.7l0.8 5.1l3.8 3.2M258.9 65.5l-4.8 0.2l-2.9 3.7M253.7 201.7l0-0.3M263.1 188.5l-3.7-3.6l-4.2-3.1l-2.7-4.5M252.5 177.3l0.1-2l0.5-2M260.2 59.5l-2.9-2.9l-1.6-3.9l-2.9-3M252.8 49.7l0.7-5.8l1.4-5.7M265.1 173.7l-6 0l-6-0.4M253.3 100.3l3.3 3.6l-1.3 4.2l-0.5 4.1l0.6 4M263.2 96.5l-4.7 2.3l-5.2 1.5M258.7 22.9l-2.6 0.7l-2.5 0.6M260.3 197.5l-2.6 3.1l-4 0.8M254.2 86.8l4.5 1.8l4.7 1.1M266 37.9l-5.6-1l-5.5 1.3M256.1 116.5l-0.6 0.9l-0.1-1.2M255.9 130.5l1.9 4.8l2.7 4.5M259.7 120.8l-2.6 4.6l-1.2 5.1M259.7 120.8l-0.9-2.9l-2.7-1.4M265.4 104.9l-3.7 3.4l-1.9 4.8l-3.7 3.4M260.3 197.5l-1.2 5.6l-0.6 3M268.9 23.1l-1.9-0.1l-4.2 0.1l-4.1-0.2M261.6 3.8l0.9 3.1l-1.6 3.8l1.3 4.5l-4.4 3.3l0.9 4.4M265 71.1l-2.7-3.2l-3.4-2.4M260.2 59.5l-1.1 2.9l-0.2 3.1M259.7 120.8l5.3 0.4l4.8 2.7l5.4 0.1M263.8 218.7l1.5-1.2M260.2 59.5l2.6-2.4l3.3-1.2M263.9 213.6l-1.6-1.3l-1.3 0.4M265.7 208.2l-3 0.5l-2.4 2M261.7 196.1l-0.1 1.3l-1.3 0.1M260.8 145.5l0.4-2.7l-0.8-2.7M260.5 139.8l-0.4 0.1l0.3 0.2M277.2 130.7l-3.6 3.3l-4.4 1.9l-5 0.8l-3.7 3.1M276.8 156.7l-3.1-4.1l-4.7-1.9l-3.7-3.1l-4.5-2.1M261.7 196.1l2.2 4.1l2.2 4.2M262.5 192.5l0.8 2.1l-1.6 1.5M262.2 191l-2.4 1.2l2.7 0.3M262.2 191l0.4-1.3l0.5-1.2M262.5 192.5l3.8 1.4l3.9 1.4l4.4 0.2l3.2 3M267.9 183.1l-2 3.1l-2.8 2.3M263.2 96.5l2.3 3.9l-0.1 4.5M265.5 90.6l-1.8 2.7l-0.5 3.2M266 230.6l1.8 0M265.5 90.6l-1.5 0.7l-0.6-1.6M263.9 213.6l1.4 1.7l0 2.2M265.7 208.2l0.4 3.1l-2.2 2.3M265.1 173.7l-1.4-4.8l1.2-4.8M276.8 156.7l-2.8 4.3l-4.9 1l-4.2 2.1M265 71.1l0.2 4.5l1.7 4.2l1 4.3l0.8 4.3M284.1 67.8l-4.6 1.8l-4.7 0.9l-5-0.4l-4.8 1M267.9 183.1l-0.9-4.9l-1.9-4.5M265.3 217.5l3.2 0.9l2.9-1.8M279.6 113.3l-3.7-1.9l-3.2-2.5l-3.4-2.4l-3.9-1.6M268.7 88.4l-1.6 1.1l-1.6 1.1M265.8 208.2l-0.1 0M265.8 208.1l0.2 0.2l-0.2-0.1M265.8 208.2l0-0.1M265.8 208.1l-0.3-1.9l0.6-1.8M270.6 213.5l-3.3-1.9l-1.5-3.4M267.8 51.1l-2-4.2l0.3-4.6l-0.1-4.4M268.1 36.4l-1.1 0.6l-1 0.9M273.8 206.5l-4-0.7l-3.7-1.4M289.1 60.6l-4.8-0.3l-4.5-1.4l-4.5-1.4l-4.6-1l-4.6-0.6M266.1 55.9l1-2.3l0.7-2.5M267.8 230.6l0.2 0.4M268.6 230l-0.5 0.1l-0.3 0.5M267.8 51.1l3.3-3.2l4.1-1.5l4.4-0.9M271.6 182.3l-1.3 2.8l-2.4-2M268.1 36.4l2.6 2.3l2.5 0.1M269.1 31.6l-0.1 0.4l-0.9 4.4M271.9 218.1l-2.2 3.6l-0.3 4.2l-0.8 4.1M274.7 228.5l-3 1l-3.1 0.5M282.7 89.2l-4.7-0.2l-4.5-1.6l-4.8 1M270.6 213.5l0.8 1.3l0.2 1.5M270.6 213.5l1.1-3.8l2.1-3.2M271.4 216.6l-0.6 1.1l1.1 0.4M271.6 216.3l0.1 0.3l-0.3 0M279.8 212.2l-4.6 1.1l-3.6 3M271.6 182.3l2.8 3.7l4 2.5l2.5 4.1l4.2 2.4M271.6 182.3l3.3-2.2l3.3-2M276.6 221.3l-1.3-3.1l-3.4-0.1M276.7 206.2l-1.5-0.3l-1.4 0.6M276.8 41l1.8 2.8M274.7 228.5l0.6 0.1l0.7 0.1M276.6 221.3l-1.5 3.4l-0.4 3.8M277.2 130.7l-0.9-3.4l-1.1-3.3M275.2 124l2.7-5.2l1.7-5.5M288.5 291.2l1.1 0.1M281.2 228.7l-2.6 0.2l-2.6-0.2M276 228.7l1.3 3.6M276.6 221.3l2.2-0.5l2.1-0.3M276.7 206.2l1.7 1.9l1.7 1.9M276.7 206.2l0.8-3.8l0.3-3.9M277.7 156.6l-0.3 2.6l-0.6-2.5M277.2 130.7l2.1 0.8l0.9 2.1M277.7 156.6l1.8 5l3.4 4.2l2.2 4.8M277.7 156.6l1.5-3.8l3.1-2.5M277.8 198.5l3.6-1.3l3.4-1.8M278.2 178.1l2.6 3.6l1.7 4.2l3.8 2.6l2.6 3.6M278.2 178.1l3.7-3.6l3.2-3.9M279.6 45.5l-0.7-0.7l-0.3-1M278.6 43.8l0.5-0.8M279.6 113.3l1.5-0.6l0.9-1.3M291.8 53l-4.4-2l-4.1-2.5l-3.7-3M285.4 236.6l-1.9 0.7M289 287.1l2.5 0.6M279.8 212.2l1.1 1.5l0.9 1.5M280.1 210l-0.9 1l0.6 1.2M282.7 208.6l-1.7 0l-0.9 1.4M280.2 133.6l2.1 4l-0.6 4.3l-0.5 4.3l1.1 4.1M280.2 133.6l3.9-1l4-0.4l3.9-1M282.6 223l-0.9-1.2l-0.8-1.3M280.9 220.5l-0.2-2.7l1.1-2.6M281.2 228.7l3 1.1l0.9 3.1M282.6 223l-0.9 2.8l-0.5 2.9M281.8 215.2l2.6-0.2l2.4 0.9M282 111.4l4.6 3.4l5.6 1M288 93.4l-1.8 4.4l-0.9 4.7l-2 4.4l-1.3 4.5M282.3 150.3l0.3-1.5l0.4 1.5M282.6 223l4-0.9l4.2 0.1M282.7 89.2l3.6 0.9l1.7 3.3M284.1 67.8l-2.2 4.2l1.7 4.4l0.8 4.4l-2 4.1l0.3 4.3M282.7 208.6l0.6-4.5l2.6-3.8M290.4 209.2l-3.8-1.5l-3.9 0.9M287.3 268l4 0.4M283 150.3l4.2 1.7l4.3 1.2l4.4 1l4.1 2M303.1 140.5l-4.7 0.6l-4 2l-3.6 2.9l-4.3 1.3l-3.5 3M284.1 67.8l1.5-4.2l3.5-3M285.1 195l1.2 1l-1.5-0.6M284.8 195.4l1.8 2.2l-0.7 2.7M295.2 282.2l-3.7-1.8l-1.9-4.5l-1.7-0.3M291.3 268.4l-3.4 3.2l-0.3 0.4M285.1 195l2.7 0.2l0.9-2.6M285.1 232.9l-0.2 1.9l0.5 1.8M292.3 225.6l-3.9 3.4l-3.3 3.9M285.1 170.6l4.8 2.8l5.5 0.4M285.4 236.6l3.1 1.5l3.3 0.9M289 292l0.6-0.7M291.6 206.2l-3.2-2.5l-2.5-3.4M286.8 215.9l1.4 2.4l2.4 1.3M290.4 209.2l-2 3.3l-1.6 3.4M292.9 253.3l0.5 0M294.9 92.9l-3.4 1.1l-3.5-0.6M288.9 192.1l0.7 0.6l-0.9-0.1M292.4 195.9l-1.9-1.6l-1.8-1.7M288.9 192.1l1.9-2.8l2.4-2.3M289.1 60.6l1.9-1l1.6-1.5M289.6 291.3l1.4 0.1l0.4-1.4M293.3 39.2l1.8 3.3M290.4 209.2l-0.2-0.9l0.5 0.8M290.6 219.6l0.4 0.4l0 0.6M293.2 211.6l-1.1 4.1l-1.5 3.9M290.7 209.1l1-1.3l-0.1-1.6M290.7 209.1l2.5 0l0 2.5M292.3 225.6l-0.2-2l-1.3-1.4M290.8 222.2l0.4-0.8l-0.2-0.8M299.1 216.5l-4.4 1.4l-3.7 2.7M292.5 268.3l-0.6-0.6l-0.6 0.7M292 291l-0.3-0.5l-0.3-0.5M291.5 287.7l1.7 1.3l-1.8 1M295.4 282.4l-2.4 2.3l-1.5 3M291.6 206.2l1-1.4l1.6-0.3M292.6 58.1l-0.3-2.5l-0.5-2.6M291.8 53l2.2-5.1l1.1-5.4M294.3 244.6l0.5-3.6l-3-2M294.2 236.6l-1.4 0.9l-1 1.5M292 291l3.8 1.8l4.4 0.4l1.6 1.1M292 291l0.5 2.2l0.1 0.3M292.2 115.8l-0.2 5.1l-1.8 5.1l1.8 5.2M292 131.2l1.5-0.2l1.4 0.6M292.2 115.8l3 1.2l3-1.3M297.6 228l-2.8-0.8l-2.5-1.6M301.3 198.5l-4.2-2.1l-4.7-0.5M294.2 204.5l-1.4-4.2l-0.4-4.4M292.5 268.3l1.3 4.6l1 4.6l0.4 4.7M292.6 268.2l-0.7-0.6l0.6 0.7M292.6 268.2l1-4.9l-0.1-5l-0.1-5M306.3 267.1l-4.5 0.7l-4.6 0.2l-4.6 0.2M301.8 62.6l-4.8-1.9l-4.4-2.6M293.2 187l3 3.9l4.1 3M293.2 187l1.9-2.4l0.9-3M293.2 211.6l0.9 0.8l1.1-0.3M293.5 253.2l-0.1 0l0 0.1M308.2 260.5l-3.3-2.6l-3.7-1.7l-3.6-2.1l-4.1-0.9M294.5 250.1l0.1 1.8l-1.1 1.3M294.2 204.5l2.1-0.6l2.1 0.5M297.6 228l0 5l-3.4 3.6M307.3 237.5l-4.4 1l-4.2-2.5l-4.5 0.6M294.5 250.1l-0.6-2.8l0.4-2.7M294.3 244.6l4.8-1.2l4.3-2.1l3.6-3.4M305.6 245.7l-5.6 2l-5.5 2.4M302.8 137.4l-3.9-3l-4-2.8M296.6 128.5l-1.1 1.4l-0.6 1.7M301.2 108.2l-1.4-3.9l-1.3-4l-2-3.6l-1.6-3.8M305.8 87.4l-4.3 0.4l-3 3.2l-3.6 1.9M300.8 39.9l-3.1 0.8l-2.6 1.8M298.4 204.4l-0.3 4.4l-2.9 3.3M296.6 212.8l-0.4-1l-1 0.3M295.2 282.2l0.9-0.3l-0.7 0.5M295.4 282.4l1.3-0.6l1.5 0.1M295.4 173.8l1.7 1l-0.6 1.8M295.4 173.8l2.4-1.4l1.1-2.5M296 181.6l3.1 4.2l4.1 3.2M296 181.6l0.7-2.5l-0.2-2.5M296.5 176.6l4.2 1.8l4.6 1l4.3 1.4M296.6 212.8l0.4 2.4l2.1 1.3M300.2 208.6l-1.1 2.7l-2.5 1.5M298.2 115.7l-1.1 4.2l-0.5 4.3l0 4.3M309.5 118.3l-4.5 0.9l-1.8 4.3l-2.7 3.2l-3.9 1.8M297.6 228l3.1 0.7l2.6-1.7M301.9 114.5l-1.8 0.7l-1.9 0.5M306.4 269l-4.3 3.3l-0.4 5.8l-3.5 3.8M303.8 284.5l-1.7-3.7l-3.9 1.1M298.7 204.3l-0.1 0l-0.2 0.1M300.2 208.6l-1.7-1.8l0.2-2.5M302.9 199.9l-1.8 2.5l-2.4 1.9M298.9 169.9l1.8-4.8l2.2-4.7M298.9 169.9l4.6-0.3l4.7 0l4.4 3.3l4.8-1.4M300.3 217l-0.6-0.1l-0.6-0.4M300 156.2l2.7 1.2l0.2 3M300 156.2l0.6-5.1l3.5-4.4l-0.5-5.4M306.5 212.2l-3-2l-3.3-1.6M300.3 193.9l-0.7 2.6l1.7 2M300.3 193.9l3.2-1.4l-0.3-3.5M303.3 227l-3-4.6l0-5.4M300.3 217l2.9-2.8l3.3-2M300.8 39.9l5.2 0.2l5.1-1.1l5.2 0.2M301.9 38.1l-1.1 1.8M301.9 114.5l-2.1-2.9l1.4-3.4M311.8 103.7l-5.4 2.1l-5.2 2.4M301.3 198.5l2.2-0.8l-0.6 2.2M315.5 77.5l-2.7-3.1l-3.4-2.3l-2-3.7l-3.4-2.3l-2.2-3.5M301.8 62.6l3.6-3l1.2-5.1l4-2.6l3.1-3.4l2.8-3.7l3.2-3.4M301.9 114.5l3.3 2.9l4.3 0.9M303 137.6l-0.5 0.1l0.3-0.3M302.8 137.4l0.5-4.2l1.5-3.7l1.3-3.9l3.7-3l-0.1-4.3M302.9 160.4l1.1 0.8l0.6-1.2M305.6 199.9l-1.4-0.5l-1.3 0.5M303 137.6l-1.2 1.5l1.3 1.4M303 137.6l4.1-1.1l3.5-2.6l4.3-0.8l4-1.3l3.9-1.7M303.1 140.5l1-0.1l-0.5 0.9M304 189.3l0.1-1.2l-0.9 0.9M303.3 227l1.4 1.1l1.8 0.2M303.6 141.3l4.5 1.5l3.5 3.2l3.9 2.7M307.6 294.9l1.2-1.8M310.4 273.9l-3.1 3l-2 3.6l-1.5 4M305 285.1l-0.2-1.1l-1 0.5M304 189.3l4.9 0.2l4.7-1.4M305.6 199.9l-1-5.3l-0.6-5.3M319.6 168.1l-4.1-1.4l-3.5-2.5l-3.5-2.5l-3.9-1.7M304.6 160l4.1-2.8l4.4-2.5l3.1-4M307.4 288.3l-1.7-1.2l-0.7-2M311.3 279.7l-3.5 2.3l-2.8 3.1M306.1 200l-0.3 0.2l-0.2-0.3M305.6 245.7l1.6 2.4l1.6 2.3M305.6 245.7l-0.1-4l1.5-3.8M311.8 103.7l-1-4.3l-1.7-4l-2.2-3.8l-1.1-4.2M315.5 77.5l-3.1 3.4l-4.8 1.7l-1.8 4.8M306.1 200l3.3 2.9l0 4.8l2.8 3.2M306.1 200l3.7-2.8l2-5l4.9-1.5M306.3 267.1l1.5 0.9l-1.4 1M308.9 261.4l-2.1 2.5l-0.5 3.2M310.4 273.9l-2-2.4l-2-2.5M310.1 234.6l-1.4-3.4l-2.2-2.9M306.5 228.3l2.2-4.2l1.1-4.9l4.4-2.7M306.5 212.2l2.9-0.7l2.8-0.6M308.5 295l0.5-1.8M307.3 237.5l0.2 0.4l-0.5 0M312.9 32.4l1.7 2.9l1.7 3.9M310.1 234.6l-0.9 1.9l-1.9 1M307.4 288.3l-0.2 2.7l1.6 2.1M316.3 283.4l-4.4 2.5l-4.5 2.4M308.8 250.4l-1.3 5l0.7 5.1M308.9 261.4l1.4-1.8l-2.1 0.9M308.8 293.1l0.2-0.1l0 0.2M308.8 250.4l2.7-2.5l3.2-1.9M313.6 261.1l-2.3 0.4l-2.4-0.1M311 293.9l-1.1 1.2M309.1 295l-0.1-1.8M309.7 118.3l0.2-1l-0.4 1M313.6 188.1l-0.6-4.4l-3.4-2.9M317.2 172.2l-3.5 4.5l-4.1 4.1M309.7 118.3l5.8-1l5.8-0.3M310.1 234.6l-0.3 1.6l0.6-1.5M314.7 246l-1.8-3.6l-1.2-3.9l-1.3-3.8M310.4 234.7l1.7-1l1.8 0.6M310.4 273.9l0.4 0.8l0.8 0.4M311 293.9l2.1 2.5l2 2.6l0.4-0.3l0.4 0.4l0.2-0.2l0.2 0.2l2.1-2.4l2.5-1.8M322.2 286.9l-4.6 1l-2.6 4.2l-4 1.8M311.3 279.7l3 1.2l2 2.5M311.6 275.1l0.3 2.3l-0.6 2.3M311.6 275.1l4.4-0.2l4.3 0.8M311.8 103.7l1.3 5.6l5.8 2.3l2.3 4.9M312.2 210.9l0.9 0.3l0.7 0.5M313.6 188.1l0.2 3l2.9-0.4M313.6 261.1l1.6 4.5l3.2 3.6l1.8 4.4M320.1 258.4l-3 2l-3.5 0.7M313.8 211.7l-0.2 2.4l0.6 2.4M320.6 207.9l-3.3 2.1l-3.5 1.7M322.6 237.6l-4.3-1.7l-4.4-1.6M317.8 229.6l-3 1.5l-0.9 3.2M315.1 217.3l0.4-1.3l-1.3 0.5M323.4 250.3l-4.3-2.3l-4.4-2M315.1 217.3l4.1 2.9l4.1 3M315.1 217.3l1.6 3.9l-0.2 4.4l1.3 4M315.5 148.7l0 1.1l0.7 0.9M323.8 131.9l-2.6 4l-1.5 4.4l-1.6 4.4l-2.6 4M315.5 77.5l2 1.3l1.9-1.3M326.2 157.4l-3.8-1.5l-3.2-2.5l-3-2.7M316.3 39.2l0.8 2.4l2.5-0.6M320.2 283.6l-1.9-0.9l-2 0.7M316.7 190.7l0.5-0.1l0.5 0.3M321.2 180.8l-1.7-4.4l-2.3-4.2M317.2 172.2l1-0.2l-0.8-0.5M317.4 171.5l0.5-2.1l1.7-1.3M322.7 194.5l-2.8-1.4l-2.2-2.2M317.7 190.9l1.8-4.1l1.4-4.2M322.9 225.4l-2.4 2.3l-2.7 1.9M319.4 77.5l3.7 2.2l4.1 1.4M319.4 77.5l2.8-3.9l1.1-4.4l-0.3-5l3.1-3.8l1.1-4.5l0.8-4.5M319.6 41l0.7 0l-0.6 0.4M325.1 33.7l-0.1 0.3l-1.8 4.2l-3.6 2.8M327.2 163.2l-3.1 3.4l-4.5 1.5M319.7 41.4l3.4 2.4l3 2.7l2 3.7M320.1 258.4l3 2l2.7 2.4M320.1 258.4l1.8-4l1.5-4.1M320.2 273.6l0.3 1l-0.1 1M325 266.2l-2.7 3.5l-2.1 3.9M320.2 283.6l1 1.6l1.1 1.4M320.3 275.7l1.3 4l-1.4 3.9M320.3 275.7l0.9 0.5l-0.8-0.6M320.4 275.6l3.4 0.9l2.9-1.9M320.6 207.9l3.2 1.1l2.9 1.6M322.7 194.5l-1.1 4.4l-0.6 4.5l-0.4 4.5M337.5 183.9l-4.2 0.7l-4-2.7l-4.2 0.9l-4.2-0.2M320.9 182.6l-0.1-0.9l0.4-0.9M320.9 294.9l2.7 0.5l1.3 2.3M322.2 286.9l-1.7 3.8l0.4 4.2M336 175l-5.4 0.7l-4.3 3.7l-5.1 1.4M321.2 116.5l0.4 0.2l-0.3 0.3M328.2 82.4l-0.5 4.4l-1.8 4l-1.4 4.2l-0.5 4.3l-0.5 4.4l-0.4 4.3l-0.3 4.4l-1.6 4.1M321.3 117l0.7-0.4l-0.4 0.7M324.9 297.7l-1 2.6l-2.4 1.2M322.8 130.1l-0.3-4.3l0.2-4.3l-1.1-4.2M321.6 117.3l1.2-1.2l1.4 0.8M322.3 286.6l-0.3 0l0.2 0.3M322.3 286.6l3 0.3l2.9 0.5M322.6 237.6l0.7 0.1l-0.1-0.7M326.4 247.1l-1.1-5.1l-2.7-4.4M322.7 194.5l3.4-1.3l3.6 0.1M322.8 130.1l0.7 0.8l0.3 1M322.9 225.4l0 0.4l0.4 0M323.3 223.2l0.3 1.2l-0.7 1M323.2 237l-0.3-5.6l0.4-5.6M323.2 237l2.4-3.7l4.1-1.2M323.3 225.8l2.5 3.7l3.9 2.2M327.6 220.7l-2.4 0.8l-1.9 1.7M323.4 250.3l1.1-1.7l1.9-0.9M323.8 131.9l4.6 1l2.2 4.6l5 0.3l2.9 3.5M324.2 116.9l1.6-4.5l3.6-3l2.7-3.7l1.9-4.2l3.7-3M334.2 116.4l-5.1-1.6l-4.9 2.1M324.9 297.7l2 0l1.7-0.8M325 266.2l2.4 3.6l-0.3 4.4M325.8 262.8l-1.2 1.5l0.4 1.9M325.8 262.8l1.7-0.4l1.5 1M327.2 163.2l0.2-3.1l-1.2-2.7M338.5 141.3l-1.3 4.1l-3.7 2.3l-1.7 3.8l-1.5 3.9l-4.1 2M326.4 247.7l2.9 0.2l1.9 2.2l1.5 4.2l2.9 3.5M326.4 247.1l-0.7 0.2l0.7 0.4M329.2 244.6l-0.1 2.6l-2.7-0.1M326.7 210.6l1.3 4.9l-0.4 5.2M333.1 209.5l-3.5-0.8l-2.9 1.9M326.7 274.6l1 0.5l-0.6-0.9M330.7 281l-2.6-2.8l-1.4-3.6M327.1 274.2l2.4-1.3l2.2-1.5M327.2 81.1l-0.2 1.2l1.2 0.1M327.2 81.1l2.8-3.4l3-3.3l3-3.2l4.2-1.7M334.2 168.1l-2.8-3.4l-4.2-1.5M327.6 220.7l2.4 0.6l2.4 1M328 51.4l4.8 0.8l1.2 4.8l3.7 2.1l2.6 3.3M328.1 50.2l0.7 0.7l-0.8 0.5M344.3 45.8l-3.8 1.8l-4.2 0.8l-4.2 0.5l-4 1.3M328.2 82.4l3.9 1.8l3.5 2.6M330.8 282l-1.1 2.8l-1.5 2.6M328.4 287.6l0.2-0.3l-0.4 0.1M328.4 287.6l2.6 1.4l3 0.1M328.4 287.6l0.7 4.6l-0.5 4.7M328.6 296.9l1.1 0.2l0 1.1l3.4-0.6l3.3-0.8M329 263.4l2 2.5l1.2 3M329 263.4l2.9-1.6l2.7-1.9M329.2 244.6l4 0.3l3.3-2.3M329.2 244.6l0.9-3.8l2.9-2.6M329.7 232.1l0-0.2l0-0.2M329.7 231.7l2.2-2.4l0.9-3.2l-1.1-1.7l0.7-2.1M329.7 232.1l2.7 0.8l1.7 2.4l1.2-1.1l-1.2 1.1M329.7 193.3l2.5 3.7l-0.3 4.3l-0.8 4.4l2 3.8M329.7 193.3l4.7-0.9l3.8-2.9M330.8 282l-0.4-0.5l0.3-0.5M331.7 271.4l0.5 1.4l1.4 0.7l0.7 0.4l-0.1 0.8l1.6 0.7l-1.8 0l-0.1 3.7l-3.2 1.9M330.8 282l2.5-1.9l3 0.9M332.2 268.9l-2 0.9l1.5 1.6M336.5 268.2l-1.9 1.7l-2.4-1M337.6 218.7l-2.8 1.6l-2.4 2M333 238.2l1.7 2.1l2.1 1.8M333 238.2l1.3-1.2l-0.2-1.7M333.1 209.5l2-0.2l1.9 0.9M335.9 291.4l0.2-2.1l-2.1-0.2M334 289.1l0-0.4l0.4 0.2M335.7 235.6l-0.7-0.8l-0.9 0.5M336 175l-1.9-3.2l0.1-3.7M334.2 168.1l3.2-2.3l3.7-1.5M334.2 116.4l3.6 3.4l4.4 2.4l3.9 3l3.5 3.5M334.2 116.4l3.1-3.5l3.3-3.3M335.6 86.8l1.1 0.9l0.6 1.3M335.6 86.8l4.3-1.4l4.1-2.1l4.5-1.2M336 175l0.5 1.2l0.7 1.1M338 217.1l-1.4-3.3l0.4-3.6M337 210.2l0-0.4l0.4 0.1M337.2 177.3l-0.8 3.4l1.1 3.2M337.2 177.3l5.3-0.8l5.2-0.7M342.6 91.9l-2.4-2l-2.9-0.9M337.3 89l0.5 4.7l-0.1 4.8M337.4 209.9l4.5 1.7l4.6 1.4l4.8 0.8M339 207.3l-1.3 1l-0.3 1.6M337.5 183.9l1.7 2.6l-1 2.8M337.6 218.7l1.4 2l1.7 1.8l2.8 0l2.7 0.7l1.4-0.6l1.5-0.3M337.6 218.7l2-0.3l-1.6-1.3M340.6 109.6l-1.9-5.5l-1-5.6M338 217.1l5.1 0.5l5.1-1.8l5 1.8M338.2 189.5l1.1 3.4l2.4 2.7M338.2 189.5l-2.1-0.8l2.1 0.6M338.2 189.3l4.3-0.4l3.9-1.6l4.1-0.8M338.5 141.3l0.3-1.2l0.6 1.1M341.7 199.6l-2.6 3.4l-0.1 4.3M339 207.3l4.1-0.5l3.9 1.3l4 0.2M339.4 141.2l3.4-2.3l3.4-2.1M339.4 141.2l0.6-0.1l-0.4 0.4M348.9 157.3l-1.5-4.4l-3.4-3.4l-1.4-4.5l-3-3.5M339.6 141.5l-1.3 4.7l0.4 4.5l1.8 4.5l-1.5 4.7l2.1 4.4M340.2 69.5l1-3.6l-0.9-3.5M348.3 67.8l-4 1l-4.1 0.7M340.3 62.4l1.9-5l3.2-4.4l0.8-5.5M355.9 108.4l-5.1 0l-5 2.4l-5.2-1.2M347.3 162.1l-3 1.5l-3.2 0.7M341.7 195.6l5.6 0.8l5.5 1.3M341.7 199.6l0.4-2l-0.4-2M341.7 199.6l3.9 3.6l4.4 2.9M357.2 102.9l-3.5-2.9l-3.5-2.9l-3.7-2.7l-3.9-2.5M342.6 91.9l5.5-1.9l5.6-1.6M343.7 33.2l-0.4 3.5l-0.4 4.6l1.4 4.5M352.4 28.8l-4.4 1.5l-1 0.4M344.3 45.8l0 1.9l1.9-0.2M350.6 49.5l-1.7-2.1l-2.7 0.1M346.2 136.8l3.9 2.3l3.8 2.6l2.8 3.7M346.2 136.8l0.9-3.9l2.4-3.2M350 164.2l-1-1.4l-1.7-0.7M348.9 157.3l-1.3 2.2l-0.3 2.6M347.7 175.8l3.9 1.6l3.6 2M347.7 175.8l0.3-2l1.5-1.5M356.6 76.2l-4.8-3.6l-3.5-4.8M348.3 67.8l2.2-4.6l3.8-3.4M348.5 82.1l3 2.1l3.2 1.8M356.6 76.2l-4.2 2.8l-3.9 3.1M355 154.3l-3.4 0.8l-2.7 2.2M349.1 222.3l-1.1 1l1 1.1M349.1 222.3l1.1-3l3-0.8M350 164.2l0.3 4.1l-0.8 4M349.5 172.3l4-1.2l4.2 0.2M349.5 129.7l3.8 2.5l5.2-1.2l3.3 4l4 1.8l4.6 0.7M349.6 128.7l0.2 0.5l-0.3 0.5M349.6 128.7l3.7-3.5l2.5-4.4M350 206.1l0.6 1.1l0.4 1.1M350 206.1l1.7-4.1l1.1-4.3M350 164.2l4.7 1l4.4 1.9M350.5 186.5l2 5.4l1.3 5.6M350.5 186.5l1.5-0.5l1.4-0.6M354.3 59.8l-2.1-5.1l-1.6-5.2M350.6 49.5l2-1.8l2.6 0.1M351 208.3l-0.7 0.6l0.7-0.6M351.3 213.8l0-2.7l-0.3-2.8M358.2 203.7l-3.4 2.7l-3.8 1.9M351.3 213.8l1.2 1.8l0.7 2M352.9 20.4l1.3 4.3l-1.8 4.1M352.4 28.8l1.1-0.2l1 0.5M353.8 197.5l-0.3 1.5l-0.7-1.3M353.2 217.6l-0.3 0.4l0.4-0.3M355.4 222.5l-1.3-1.9l-0.9-2.1M353.2 218.5l-0.3-0.4l0.4-0.4M360 214.7l-3.9 0.2l-2.8 2.8M353.4 185.4l1.7 1l-1.4-1.4M353.4 185.4l1.2 4.9l3.3 3.9M356.5 14.2l0.8 0.6l3.3-0.3M361.3 187l-3.7-1.6l-3.9-0.4M355.2 179.4l-1.7 2.5l0.2 3.1M360.6 93.4l-3-3.2l-3.9-1.8M353.7 88.4l1.2-0.9l-0.2-1.5M355.5 197.6l-0.8-0.8l-0.9 0.7M358 61.3l-2.4 0.6l-1.3-2.1M354.5 29.1l4.1 0.3l3.6-3.3l0.9 0.3M354.5 29.1l2.9 3.9l0 5l2.2 4.2M359 85.4l-2 1.5l-2.3-0.9M362.8 159.2l-3.8-2.6l-4-2.3M356.7 145.4l0.2 4.6l-1.9 4.3M355.2 47.8l4.2 1.6l4.5 1M359.6 42.2l-2.3 2.7l-2.1 2.9M355.4 222.5l-1.2 0.4l1 0.8M357.1 178.1l-0.9 0.6l-1 0.7M355.4 222.5l3.1 0.9l2.3 2.3l3.1-0.4l2.5-1.9M356.7 199.5l-0.4-1l-0.8-0.9M357.9 194.2l-1.5 1.5l-0.9 1.9M355.8 120.8l4.2 2.2l4.7 0.7M356 119.1l-0.9 0.8l0.7 0.9M355.9 108.4l-1.2 5.4l1.3 5.3M355.9 108.4l-0.4-0.7l0.7 0M356 119.1l4.8-1.5l5-0.7l5-1.2M370 113l-4.6-1.7l-5-0.8l-4.2-2.8M357 104.5l0 1.7l-0.8 1.5M356.6 76.2l0.9 0.2l0.9 0M362.4 145.5l-2.9 2l-2.8-2.1M358.2 203.7l-0.7-2.1l-0.8-2.1M365.9 198.6l-4.6 0.9l-4.6 0M357.2 102.9l0.5 0.9l-0.7 0.7M373.4 109.1l-4.5 0.1l-3.8-2.2l-3.6-2.6l-4.5 0.1M360.4 178.9l-1.7-0.2l-1.6-0.6M357.7 171.3l0.5 3.5l-1.1 3.3M359.7 100.5l-0.7 1.7l-1.8 0.7M359.1 167.1l-1.5 1.9l0.1 2.3M357.9 194.2l0.2 0.2l0.1-0.3M358 61.3l-1.3 5l1.1 5.1l0.6 5M358 61.3l3.1-0.7l2.9 1.2M359 204.2l-0.2-0.7l-0.6 0.2M358.2 194.1l3.5 1l3.4 1.2M360.8 191.2l-1.2 1.5l-1.4 1.4M361.3 77.4l-1.8 0.5l-1.1-1.5M360.4 206.7l-1.1-1l-0.3-1.5M359 204.2l3.3-3.3l4.6-0.7M360.6 93.4l0.9-4.3l-2.5-3.7M359 85.4l0.2-4.3l2.1-3.7M359.8 166.7l0.4 1.6l-1.1-1.2M359.6 42.2l5.3-1.3l4.4-3.2M361.2 95.1l-1.7 2.4l0.2 3M359.7 100.5l4.2-1.5l4.1-0.2l4.1 2.5l4.2-0.5M366.2 170l-2.7-2.5l-3.7-0.8M362.8 159.2l-1.4 3.8l-1.6 3.7M360 214.7l0.6 0.3l0.8-0.1M360.4 206.7l-0.5 4l0.1 4M360.4 178.9l1 1.6l1.5 1.1M367.6 174.3l-4.1 1.6l-3.1 3M360.4 206.7l3.2-0.7l3.3 0.7M361.2 95.1l-1-0.6l0.4-1.1M365.5 191.1l-2.3 2.2l-2.4-2.1M361.3 187l0.1 2.2l-0.6 2M361.2 95.1l3.1-2.9l3.8-1.9l2.9-3.1M363.4 185.7l-1.1 0.7l-1 0.6M365 76.7l-1.9 0l-1.8 0.7M361.4 214.9l2 4.1l3.7 2.8M366.5 212.7l-2.7 0.9l-2.4 1.3M363.8 148.9l0.9-2.3l-2.3-1.1M362.4 145.5l4.5-2.3l3.2-3.8M362.8 159.2l-0.2-1.6l1.2 0.9M362.9 181.6l0.2 1.5l1.1 1.2M371.1 177.5l-3.6 3.1l-4.6 1M365.7 190.2l-2.1-1.8l-0.2-2.7M363.4 185.7l-0.8-1.4l1.6 0M363.8 148.9l0.6 4.3l0.1 4.3M374.1 152.1l-4.5-3.5l-5.8 0.3M363.8 158.5l3.4 4.3l4.2 3.5M363.8 158.5l0.1-0.1l0.1 0M366.5 52.3l-2.9 1.3l0.3-3.2M369.3 37.7l-2.1 4.1l-0.9 4.7l-2.4 3.9M364 158.4l3.2 0.3l2.8 1.4M364.5 157.5l-0.9 0.1l0.4 0.8M366.5 52.3l-1.9 4.6l-0.6 4.9M364.5 62.2l0.1-0.6l-0.6 0.2M364.6 184.3l-0.3 1.2l-0.1-1.2M364.5 62.2l1.4 4.8l-0.1 4.9l-0.8 4.8M364.5 62.2l5.6-0.1l5.5 0.6M364.5 157.5l4.1-3.7l5.4-1.4M369.2 187.7l-2.1-2l-2.5-1.4M371.5 181.3l-3.9 0.4l-3 2.6M370.2 128.2l-1.7-3.5l-3.8-1M364.7 123.7l2.7-3.4l3.6-2.2M365 76.7l4.7 0.2l4 2.5M365.1 196.3l-0.4 1.4l1.2 0.9M366.7 193.2l-1.6 1.1l0 2M366.7 193.2l-1.6-0.5l0.4-1.6M365.5 191.1l2.1-0.1l-1.9-0.8M369.2 187.7l-1.5 1.5l-2 1M366.9 200.2l-0.9-0.5l-0.1-1.1M366.2 170l1.4 1.9l0 2.4M366.2 170l2-1.2l2.1-1.1M367.6 225.9l0-1.5l-1.2-1M366.4 223.4l0.2-0.9l0.5-0.7M366.5 52.3l4.2-0.4l3.1-1.2M366.5 212.7l2.4 2.2l3.1-0.9M366.5 212.7l-1.4-3.1l1.8-2.9M374.4 192.2l-3.9 0.3l-3.8 0.7M366.9 206.7l1.5-2.2l2.2-1.5M370.5 202.2l-1.9-0.7l-1.7-1.3M373.7 219.1l-3.6 0.7l-3 2M371.1 177.1l-2-1.1l-1.5-1.7M374.4 188l-2.7 1.5l-2.5-1.8M369.7 37.5l0 0.2l-0.4 0M370 160.1l0.9 0.9l1 0.8M370 160.1l2-2.4l2.9-0.9M370 113l1.1 1.2l-0.3 1.5M373.4 109.1l-1.7 1.9l-1.7 2M376.2 148.9l-4.2-4.1l-1.9-5.4M370.4 137.7l-0.9 0.7l0.6 1M370.2 128.2l0.2 2.2l1.8 1.4M373.9 121.1l-3.5 2.7l-0.2 4.4M370.3 167.7l3.3 0.4l-0.4 3.4M370.3 167.7l-0.3-1.4l1.4 0M370.4 137.7l-0.6-0.1l0.6-0.1M370.4 137.5l1-2.3l1-2.2M370.4 137.7l4.7 0.4l4.6 0.7l4.4 2M370.5 202.2l0 0.4l0.1 0.4M370.5 202.2l2.5-3.4l3-2.9M370.6 203l0.2 0.9l0.9 0.4M371.1 116.1l-1.8 1l1.5-1.4M373.9 121.1l-1.1-1.9l-1.8-1.1M371 118.1l0.7-1l-0.6-1M376.3 100.8l-2.7-4.2l-1.7-4.5l-0.9-4.9M371 87.2l2.6-2.5l0.2-3.6M371.5 181.3l0.6-2l-1-1.8M371.1 177.1l0.5 0.2l-0.5 0.2M371.1 116.1l5.1 0.4l4.1-1.7M371.1 177.1l2.2 0.6l0.7-2.2M371.4 166.3l-0.1-1l0.8 0.7M375.1 186.6l-1.1-3.2l-2.5-2.1M375.9 206.2l-2.2-0.8l-2-1.1M372 214l-1.1-4.8l0.8-4.9M371.9 161.8l-0.9 2.1l1.1 2.1M375 159.8l-1.5 1.1l-1.6 0.9M374.9 216.6l-0.8-2.1l-2.1-0.5M372.1 166l1-2.2l0.8 2.3M372.4 133l0.6-0.7l-0.8-0.5M372.2 131.8l3.4-3.3l2.8-4M372.4 133l3.2-1.4l3.4 0.9M374 175.5l0.2-2.1l-1-1.9M373.2 171.5l1.2-1.2l0.8-1.4M378.6 106.2l-2.3 1.9l-2.9 1M374.4 78.5l-1.8-0.7l1.1 1.6M373.7 79.4l1.6-0.2l-1.6 0.4M380.4 225.2l-2 0.2l-1.5-1.3l-2.5-1.3l-0.4-2.7l0.1-0.6l-0.4-0.4M374.9 216.6l0.5 1.7l-1.7 0.8M385 83.6l-6-1.1l-5.3-2.9M373.8 81.1l0.3-0.8l-0.4-0.7M373.8 81.1l2.4 3.8l3.3 2.9M375.2 168.9l0.1-1.8l-1.4-1M375.1 165.4l-0.6 0.4l-0.6 0.3M373.9 121.1l2.6-1.3l2.9 0.4M374 152.4l1.4 2l-0.5 2.4M374.1 152.1l-0.8-0.2l0.7 0.5M374 175.5l1.4-0.3l1.3-0.1M376.1 149.5l-0.5 1.7l-1.5 0.9M374.4 192.2l0.9 1.8l0.7 1.9M374.4 192.2l0.2-2.1l-0.2-2.1M377.2 69.6l-1.8 4.3l-1 4.6M374.4 78.5l4.2-0.4l4.1-0.6M375.1 186.6l-1.5 0.2l0.8 1.2M374.3 48.1l0.1-0.1M377.8 215.5l-1.3 1.1l-1.6 0M375.8 158.5l-1.5-0.3l0.6-1.4M375.8 158.5l0.9 1.5l-1.7-0.2M375 159.8l1.1 2.8l-1 2.8M375.1 186.6l1.4-0.4l1.2-0.8M379.9 164.6l-2.5-0.5l-2.3 1.3M375.2 168.9l1.9-0.3l-0.1 1.9M375.6 62.7l-0.6 2.7l2.4 1.5M375.6 62.7l0.1-0.8l0.4-0.7M382.4 161.6l-3-2.3l-3.6-0.8M380.4 210.5l-2.5-1.9l-2-2.4M375.9 206.2l2.9-3.6l3.4-3.1M376 195.9l1.2 0.2l1.2 0.4M376.1 149.5l3.4 2.8l3.2 3.1M376.1 149.5l0.4-0.2l-0.3-0.4M376.2 60.7l0.2 0.3l-0.3 0.2M376.1 61.2l5.5-0.2l3.6-0.4M375.8 54.6l-0.3 2.1l0.7 4M384.9 145.2l-4.6 1.3l-4.1 2.4M376.2 60.7l4.8-2.5M376.3 100.8l-0.1 1.6l1.2-1.1M382.2 177.1l-2.9-0.6l-2.6-1.4M376.7 175.1l-0.8-2.4l1.1-2.2M377 170.5l1.7-0.9l1.4-1.5M377.4 66.9l-1.5 1.3l1.3 1.4M377.2 69.6l4.4-0.2l4.1 1.5M377.4 66.9l3.2-0.6l3.2-0.8M377.4 101.3l1.2 0.2l-0.5 1.2l-1.2 2l1.7 1.5M379.5 87.8l0.2 5.1l-0.2 5l-0.6 2l-1.5 1.4M377.7 185.4l2.4 1.6l2.7 0.4M377.7 185.4l1.9-4.3l2.6-4M384.2 220.1l-3.6-1.8l-2.8-2.8M380.4 210.5l-1.3 2.5l-1.3 2.5M383 190.5l-2.5 2.9l-2.1 3.1M378.4 196.5l2.1-0.1l0.7 1.9M381.5 127.5l-0.7-2.4l-2.4-0.6M379.5 120.7l0.1 2.1l-1.2 1.7M378.6 106.2l2.3-0.5l-1.3 2M379 132.5l1.8 0.7l1.9 0.4M379 132.5l2-2.2l0.5-2.8M379.4 120.2l-0.2-3.1l1.8-2.4M379.4 120.2l1.8-0.3l-1.7 0.8M379.5 87.8l0.9 1.1l1.3-0.4M386 125.6l-2.5-3.4l-4-1.5M379.6 107.7l-0.6 3.2l2.1 2.5M390.9 106.5l-5.7 0.2l-5.6 1M379.9 164.6l-1.4 1.8l1.6 1.7M382.4 161.6l-1.2 1.5l-1.3 1.5M383.5 172.1l-1.9-1.8l-1.5-2.2M381 114.5l-0.9 0.3l0.2 0M380.3 114.8l0.7-0.3M380.3 114.8l0.7-0.1M382.9 209l-1.4 0.6l-1.1 0.9M380.8 225.1l1.3-0.7l1-0.9l0.8-1l0.5-1.2M381.1 113.4l-1.4 0.4l1.3 0.7M386.4 117.7l-2.5-1.9l-2.9-1.1M387.3 112.3l-3.2 0l-3 1.1M382.2 199.5l0-1l-1-0.2M386.4 192.6l-1.7 3.7l-3.5 2M386 125.6l-1.7 2.2l-2.8-0.3M382.7 199.9l0.3-0.9l-0.8 0.5M382.2 177.1l0.8 1l0.1-1.3M382.4 161.6l0.9-0.5l1-0.2M384.4 205.9l-1.6-2.8l-0.1-3.2M382.7 199.9l1.8-3.3l3.1 1.9M382.7 155.4l0.8 2.7l0.8 2.8M387.1 150.2l-3.2 1.7l-1.2 3.5M384.1 140.8l-0.6-3.6l-0.8-3.6M384.6 132.6l-0.9 0.6l-1 0.4M382.8 187.4l-0.4 1.6l0.6 1.5M382.8 187.4l-0.2-0.9l0.4 0.8M382.9 209l2.9 2.1l2.8 2.1M382.9 209l0.2-1.8l1.3-1.3M383 187.3l3.2 0.5l2.3 2.4M391.2 180.3l-3.8 3.9l-4.4 3.1M383 190.5l0.8 2.6l2.6-0.5M383.1 176.8l3.7 2l4.1 1M383.1 176.8l0.8-2.3l-0.4-2.4M383.5 172.1l1-3.6l3.4-1.7M385.7 142.8l-0.8-1l-0.8-1M384.2 220.1l-0.1 0.6l0.3 0.6M388.5 217l-1.9 1.8l-2.4 1.3M384.3 160.9l1.5 0l1.3 0.7M384.4 221.3l3.1 2.1l2.9 2.2M384.4 205.9l3.7 1.1l3.6-1.6M384.6 132.6l2.1 2.6l3.3-0.2M384.6 132.6l1.6-2.9l1.1-3.1M384.9 145.2l0 0.7l0.7 0.2M384.9 145.2l0.7-1.1l0.1-1.3M385.6 146.1l5.2 1.2l5.2 1.1M385.6 146.1l-0.1 2.4l1.6 1.7M385.7 142.8l4.2-1.2l3.4-2.6M387.2 125.9l-1.2 2.3l0-2.6M389.3 123.7l-1.6-2.9l-1.3-3.1M386.4 117.7l3-0.7l2.6-1.6M386.4 192.6l0.5 0l0.4-0.3M387.1 150.2l0.1 0.8l0.8-0.1M389.3 160.5l-0.7 1.3l-1.5-0.2M387.9 166.8l0.2-2.7l-1-2.5M387.2 125.9l0.5 0.3l-0.4 0.4M387.2 125.9l1.2-1l0.9-1.2M387.3 126.6l1.5 1.1l1 1.5M392 115.4l-3.1-0.5l-1.6-2.6M391.7 108.6l-2.6 1.4l-1.8 2.3M389.1 197.4l0.9-3.2l-2.7-1.9M388.5 191l-0.6 0.7l-0.6 0.6M387.6 198.5l1.8 0.7l-0.3-1.8M391.6 203.9l-2.7-2.2l-1.3-3.2M387.9 166.8l1.9 2.5l2.7 1.8M389.4 155.2l-1.2-2l-0.2-2.3M388 150.9l3.7-0.2l3.7-0.4M388.5 190.2l0.1 0.4l-0.1 0.4M392.6 181.7l-2.3 4.1l-1.8 4.4M388.5 191l4.3 0.2l2.9 3.2M388.5 217l3.4 1.5l3.5 1.3M388.5 217l0.2-1.9l-0.1-1.9M394.5 209.6l-1.9 3.5l-4 0.1M389.1 197.4l2.2-1.2l2.4 0.5M395.4 122.3l-2.9 1.3l-3.2 0.1M393.2 160.3l-1.9 1l-2-0.8M389.3 160.5l-0.9-2.7l1-2.6M389.4 155.2l3.4-1.6l2.7-2.7M389.8 129.2l0.4 2.9l-0.2 2.9M392.4 130l-1-1.4l-1.6 0.6M393.2 138l-0.8-2.3l-2.4-0.7M390.9 106.5l-0.2 1.2l1 0.9M391.5 104.3l-1 0.9l0.4 1.3M390.9 179.8l1.6-3.8l0.4-4.1M390.9 179.8l0.5 0l-0.2 0.5M392.6 181.4l-0.3-1.2l-1.1 0.1M391.7 205.4l-0.3-0.7l0.2-0.8M391.6 203.9l2.5-3.1M394.8 111.6l-1.4-1.7l-1.7-1.3M395 207.6l-1.6-1.1l-1.7-1.1M394.8 115.4l-1.4-0.9l-1.4 0.9M392 225.9l2.5-0.2l-0.1-2.4l-0.5-2.1l1.5-1.4M392.4 138.8l-0.1-0.1M392.4 138.8l-0.3 0.1l0.2-0.2M392.3 138.7l-0.3 0l0.6-0.3M392.3 138.7l0.3-0.3M393.3 139l-0.9-0.2M393.3 138.2l-0.9 0.6M392.4 130l0.4 4l0.4 4M396.4 127.8l-2.3 0.5l-1.7 1.7M392.5 171.1l0.7 0.1l-0.3 0.7M392.5 171.1l1.9-3.2l0.7-3.8M392.6 181.7l-0.4-0.1l0.4-0.2M394.7 181.1l-1.1-0.3l-1 0.6M392.6 181.7l0.1 6l4.1 4.3M392.6 138.4l0.6-0.4M392.6 138.4l0.7-0.2M392.9 171.9l3-1.5l3.3-0.5M393.2 160.3l0 0.2l0.1-0.1M393.2 160.3l0.7-0.6l0.1-1M395.6 135.4l-1.7 0.9l-0.6 1.9M395.1 140.6l-1.6 0l-0.2-1.6M394.7 162l-1.3-0.3l-0.1-1.3M393.3 160.4l4.8-2.8l5.5 0.6M393.7 196.7l0.6 0.5M394.2 200.5l-0.5-3.8M394 158.7l0.1-3.9l1.5-3.7M394 158.7l3.3-2l3.5-1.8l-3.3-1l-1.9-2.8M394.1 200.8l0 0.5l3.8 3.3M394.2 200.5l-0.1 0.3M394.1 200.8l0.1 0l0-0.3M394.3 197.2l-0.1 3.3M394.3 197.2l0.6 0.6l-0.5-1.6M394.4 196.2l-0.1 1M394.4 196.2l0-1.3l1.3-0.5M394.5 209.6l1.1 4.4l2 4.1M394.5 209.6l-1.1-1.3l1.6-0.7M394.7 162l3.8 0.6l3.7 1.5M394.7 162l-1.3 1.4l1.7 0.7M394.7 181.1l3.9 3.4l4.4 2.7M394.7 181.1l0.8-1.5l1.7 0.4M394.8 115.4l1.7 2.2l0.2 2.8M394.8 111.6l1.1 1.3l-0.9 1.3l0.1 0.6l-0.3 0.6M394.8 111.6l1.5-2.6l2.8-1.2M395 207.6l0.4 0.4l-0.1-0.5M395.1 164.1l2.1 2.9l2 2.9M395.1 140.6l0.5 3.3l1.1 3.1l-1.1 0.1l1.1 0.2M403 139.6l-3.9 0.7l-4 0.3M404.2 212.9l-3.9-3.5l-5-1.9M395.3 207.5l0.9-1.3l1.4-0.7l1.2-0.1l-0.9-0.8M395.5 150.9l-0.9-0.2l0.8-0.4M396 148.4l-0.1 1l-0.5 0.9M397.6 218.1l-1.5 0.3l-0.7 1.4M396.4 127.8l-0.1-2.8l-0.9-2.7M395.4 122.3l-0.1-1.2l1.2-0.2l0.4-0.2l-0.2-0.3M395.5 150.9l1.6-0.5l-1.5 0.7M395.6 135.4l1.9-3.5l-0.9-3.9M395.6 135.4l1.8-0.4l1.6-0.9l0.8-2.2l0.9-2.2l-1.7-1.6l-2.4-0.1M395.7 194.4l0.1-0.2l0.2 0M402.2 198.3l-2.6-2.8l-3.6-1.3M396.8 192l-0.5 1.1l-0.3 1.1M396 148.4l-0.4-1l1.1-0.1M396.6 128l-0.3 0.1l0.1-0.3M400.1 148.7l-1.7-0.8l-1.7-0.6M396.7 120.4l0.4 0.2l0.1-0.4l0.6 0.4l0.2-0.7M401 190.2l-2.1 0.9l-2.1 0.9M402.6 179.3l-2.4 2.5l-3-1.8M400.4 171.2l-0.5 4.8l-2.7 4M397.6 218.1l0.3-1.7l0.2 1.7M401.4 201.1l-0.4 3.1l-3.1 0.4M399.2 169.9l0.2 1.1l0.3-1" fill="none" stroke="#ffd0d0" stroke-width="0.6" stroke-opacity="0.22"/>
<g fill="none" stroke="#2b2424" stroke-width="1.6" stroke-linejoin="round" stroke-opacity="0.9">
<polyline points="119.9,137.1 124.8,137.9 134.6,138.7 147.7,139.5 160.8,142 167.4,146.1 173.9,151 180.5,155.1 187,159.2 193.6,162.5 200.1,164.1"/>
<polyline points="193.6,162.5 208.2,157.5 218.4,154.5 227.1,143.6 234.3,143.6 243.8,147.1 250.9,153.1 255.6,153.1 267.5,151.9 284.2,151.9 288.9,150.7 303.2,156.6 319.8,159 340,160.2 352.7,157.5 364.9,159.2 367,161.4"/>
<polyline points="250.9,153.1 250.9,173.3 265.2,175.6 268.7,179.2 268.7,189.9 266.3,197 264,201.8"/>
<polyline points="279.8,61.1 286.4,69.8 297.3,76.4 306,80.7 304,90 300,105 298.2,114.5 290.9,129 285.5,143.6 288.9,150.7"/>
<polyline points="237.3,37.1 240.5,50.2 242.7,65.5 248.2,72 253.6,69.8 258,65.5 264.5,58.9 273.3,56.7 279.8,61.1 280.5,52 281,44.7"/>
<polyline points="324.3,37.8 332.8,44.2 339.2,50.6 345.6,59.1 352,69.8 357.4,65.6 362.7,59.1 369.1,52.7 373.4,49.5"/>
<polyline points="415.8,71.9 413.4,83.8 409.9,93.3 402.8,102.8 395.6,109.9 390.9,114.6 386.1,121.8 382.6,131.3 379,140.8 374.3,155 367,161.4 366,193.4 362.7,210.5 359.8,215 356.8,219 348.7,225.1 342.6,231.2 339.6,239.2 341.6,252.4"/>
<polyline points="294.1,246.3 304.2,243.3 314.3,242.3 324.4,243.3 330.5,245.3 333.5,243.3 334.5,246.3 338.6,248.3 341.6,252.4 348.7,255.4 356.8,259.4 362.8,263.5 366.9,259.4 372.9,256.4 380,255.4 388.5,254 401.6,252.4"/>
<polyline points="362.8,263.5 360.8,271.6 356.8,277.6 350.7,285.7 344.6,293.8 340.6,300 339.5,298.2"/>
<polyline points="362.8,263.5 368.9,267.5 375.4,268.7 380,269.8 391.8,271.5 395,273 400,271.6 402.6,275.5 403.9,280.5 407.7,285.6 409,289.5 410.3,294.5 411.5,300 420.5,298.4 428,295.8 437,293.3 448.5,290.7 456,285.6 460,280.5 461.2,274.2 465,271.6"/>
<polyline points="339.5,298.2 352.5,296.5 368.9,298.2 378.7,301.4 385.3,311.3 391.8,324.3"/>
<polyline points="390.9,114.6 395.6,117 401.6,124.1 400.4,133.6 405.1,140.8 407.5,147.9 412.3,155"/>
<polyline points="452,87 452.4,93.6 450.5,104 448.6,115.4 448.6,123 445.7,130.6 434.3,139.4 425,145 420,150"/>
<polyline points="467.6,88 468.5,100.2 467.6,105.9 470.4,115.4 470.4,123 473.3,128.7 474.2,133.5 472.3,138.2 473.3,145.8 468,154"/>
<polyline points="500,119 497,123 494.2,126.8 493.2,134.4"/>
<polyline points="474.2,133.5 483.7,136.3 493.2,134.4"/>
<polyline points="495.1,125.9 502.7,124.9 508.4,125.9 516,127.8 525.6,127.8 533.5,127.8"/>
<polyline points="483.7,136.3 491.3,140.1 497,139.2 506.5,136.3 512,138 519.8,141 527.5,141 534.5,140"/>
<polyline points="410.5,172.3 426,169.7 436.6,167 447,164.4 457.5,161.8 468,154 478.4,151.4 488.9,151.4 496.7,152.7"/>
<polyline points="496.7,152.7 499.3,151.4 509.8,154 516,151.5 523.7,149.6 531.3,147.7"/>
<polyline points="499.3,154 509.8,159.2 520,164.4"/>
<polyline points="496.7,152.7 502,165.8 509.8,172.3"/>
<polyline points="412.3,155 410.5,165 410.5,172.3 411.8,185.4 413.2,195 414.9,205 416.5,210 416.5,218.3 413.2,216.6 408.2,220 406.5,226.6 403.2,227.4"/>
<polyline points="366,193.4 375,194 384.1,194.5 397,197.7 411.9,196.6"/>
<polyline points="401.6,252.4 401.5,244.9 400.7,236.6 403.2,233.3 403.2,229"/>
<polyline points="416.5,218.3 423.2,216 432.1,211.6 438.3,212.5 442.8,216 451.7,217.8 460.6,220.5 466,224.1 474.9,226.7 478.4,228.5 484,227.5"/>
<polyline points="478.4,228.5 474.9,235.7 473.1,242.8 476.6,248.1 471.3,250.8 468.6,253.5 467.7,258.8 466,264.2 462.4,271.3 463.8,278.5"/>
<polyline points="462.4,271.3 468,274 474,279"/>
<polyline points="420,299 421,306"/>
<polyline points="329.2,331.8 337,338.4 355.4,339.7 368.4,337 381.5,335.8 389.3,334.4"/>
<polyline points="334.4,347.5 345,346.5 358,346.2 368.4,352.7 378.9,359.3 385.4,361.9"/>

</g>
<polygon fill="none" stroke="#2a1a1a" stroke-width="0.8" points="163.7,40.4 178,39.5 180.8,38.5 185.6,37.6 189.4,35.7 190.3,39.5 192.2,42.3 194.3,45.7 198.5,48.5 202.8,50 206.4,48.5 210,50 214.2,47.8 218.5,45.7 222.8,42.8 224.2,38.5 225.6,35 223.1,26.2 219.8,19.6 217.6,14.2 222,15.3 227.5,17.5 234,17.5 242.7,15.3 249.4,13.8 254.5,11.6 258.1,10.2 259.5,8.7 261.7,7.3 260.6,5.8 260.3,3.6 262.5,4 265.4,3.3 267.5,5.1 266.8,7.3 266.1,10.2 269,11.6 270.8,13.8 271.2,16.7 272.6,17.5 271.2,19.6 269,21.8 268.3,30 272.2,38.2 277.6,41.5 280.9,44.7 284.2,42.5 292.9,39.3 301.6,38.2 309.3,36 311.5,32.7 316.9,31.6 323.5,32.7 326.4,34.6 335,33.5 341.4,34.6 346.7,31.4 349.9,25 354.2,18.5 357.4,12.6 360.6,14.3 361.7,20.7 363.8,29.2 369.1,36.7 373.4,42 374.5,47.4 373.4,52.7 377.7,56 384.1,60.2 390.5,62.4 399,65.6 409.5,67.7 418.9,71.3 426,73.6 430.7,78.4 440.2,80.7 447.3,84.3 456.7,85.5 463.8,86.6 470.9,87.8 480.4,92 489.8,96.5 497,102 504.5,108.3 513,112.6 522,113.6 527,115.7 531.2,122.8 534,130 534,138.5 532.6,144.2 528.3,150 521.2,158.5 515.5,165.6 508.4,174.1 502.7,181.3 498.4,188.4 494.1,197 491.3,207 491.3,218.3 491.2,225.7 489.8,234.3 488.3,242.8 485.5,248.5 484,258.5 481.2,268.5 478.4,275.6 475.5,281.3 471.2,285.6 468.4,292.7 461.3,297 458.4,301.2 447,302.7 439.9,302.7 430,305.5 421.4,309.8 412.8,312.6 402.8,316.9 395.7,321.2 390.5,331.6 389,337.3 390.5,346 389,351.7 384.7,357.4 381.1,364.4 376.7,368.7 373.8,373.1 369.5,378.9 365.1,386.2 357.8,393.5 352,399.3 347.6,403.6 346.2,406.5 344.7,410.2 341.1,413.1 338.2,416 336.7,416 336.3,412.4 338.9,409.5 341.8,406.5 343.3,403.6 344.7,401.5 337.5,402.9 333.1,399.3 328.7,394.9 324.4,392 320,390.5 310,384.7 298.6,380.4 294.3,377.5 302.9,368.9 312.8,358 320.4,351.3 328,348.4 334.1,344.6 334.7,339 333.7,335.1 330.9,331.3 326.1,329.4 326.1,327.5 328,320 328,314.2 324.2,312.3 316.6,311.4 314.7,304.7 313.8,298 310.9,295.2 301.4,294.3 290,293.3 288.5,291.3 289.7,281.8 288,277 287.3,267.5 290.9,260.4 293.3,252 292,245 283.8,239 282.6,233 266,230.7 264.8,220.8 261.3,213.6 258.9,206.5 254,201.8 247,199.4 237.5,193.4 230,191.6 225.6,191 218.4,189.5 214,185 211.8,179.3 211.1,172 211.1,166.2 209.6,162.5 202.4,162.5 196.5,164 190.7,166.2 184.9,169.8 179.1,172.7 175.5,175.6 164.5,175.6 156.5,174.9 155.8,167.6 155.1,160.4 150,161.8 148,161.8 139.7,164.1 137.3,160.6 127.8,157 126.6,147.5 124.3,141.6 120.7,138 123,130.9 127.8,126.1 129,121.4 132.6,113 140.9,107.1 147.6,106 153.3,103.1 159,102.1 163.7,103.1 164.7,100.2 165.6,94.6 166.6,87 167.5,79.4 166.6,71.8 164.7,64.2 163.7,58.5 161.8,55.6 161.8,52.4 167.5,51.3 169.4,49 164.7,48 163.7,46.1"/>
<!-- DF -->
<rect x="392.4" y="223.3" width="10" height="5.8" fill="#fbe3da" stroke="#2a2222" stroke-width="1"/>
<!-- lagoons -->
<polygon fill="#fff" stroke="#2a1a1a" stroke-width="0.9" points="360.7,378.2 367.3,380.4 365.1,385.5 359.3,392 353.5,396.4 350.8,398.1 352.7,392.7 357.8,386.2 359,381.8"/>
<polygon fill="#fff" stroke="#2a1a1a" stroke-width="0.9" points="344.7,401.5 347.6,403.6 346.2,406.5 344.7,410.2 341.1,413.1 338.2,416 336.7,416 336.3,412.4 338.9,409.5 341.8,406.5 343.3,403.6"/>
<!-- Teresina speck -->
<polygon fill="#fff" points="440.5,136.5 443,136 444,138 443,140.5 441,140 440,138.5"/>

<g stroke="#151010" stroke-width="1">
<circle cx="263" cy="22.9" r="2.2" fill="#1f4fd8"/>
<circle cx="236" cy="59" r="3.1" fill="#f01010"/>
<circle cx="370" cy="68.7" r="7.0" fill="#ff1414" stroke-width="1.5"/>
<circle cx="431.4" cy="77.9" r="1.9" fill="#f39020"/>
<circle cx="429.8" cy="84.8" r="2.9" fill="#f39020"/>
<circle cx="439" cy="82.4" r="2.2" fill="#f39020"/>
<circle cx="444.9" cy="83.8" r="2.2" fill="#f39020"/>
<circle cx="446.1" cy="96.8" r="2" fill="#f5e400"/>
<circle cx="463.8" cy="87.1" r="2.2" fill="#f39020"/>
<circle cx="469.5" cy="88.3" r="2.2" fill="#f39020"/>
<circle cx="475.7" cy="102.5" r="2.2" fill="#22dd22"/>
<circle cx="475.2" cy="127.5" r="2.2" fill="#22dd22"/>
<circle cx="493.2" cy="137.5" r="2.2" fill="#22dd22"/>
<circle cx="500.5" cy="117.4" r="2" fill="#f01010"/>
<circle cx="505.7" cy="120.9" r="2" fill="#f01010"/>
<circle cx="507.6" cy="125.7" r="2" fill="#f5e400"/>
<circle cx="532.6" cy="126" r="2.2" fill="#1f5fd8"/>
<circle cx="536.2" cy="141.4" r="2.2" fill="#1f5fd8"/>
<circle cx="307.5" cy="189.2" r="2.1" fill="#8aa898"/>
<circle cx="305.3" cy="254.2" r="1.6" fill="#e8b020"/>
<circle cx="400.2" cy="223.3" r="2.3" fill="#8a9aa8"/>
<circle cx="404.8" cy="170" r="2.2" fill="#e82020"/>
<circle cx="458.3" cy="199.3" r="2.2" fill="#e82020"/>
<circle cx="479" cy="233.9" r="4.5" fill="#ff1414" stroke-width="1.3"/>
<circle cx="454" cy="269.2" r="2.3" fill="#e82020"/>
<circle cx="436.2" cy="298.9" r="2.4" fill="#e82020"/>
<circle cx="429.3" cy="304.1" r="2.4" fill="#e82020"/>
<circle cx="387.3" cy="356.7" r="2" fill="#1f4fd8"/>

</g>
<g stroke="none"><path d="M440.2,87.7 A2.5,2.5 0 0 0 440.2,92.7 Z" fill="#1f5fd8"/><path d="M440.2,87.7 A2.5,2.5 0 0 1 440.2,92.7 Z" fill="#22cc33"/></g>
<circle cx="440.2" cy="90.2" r="2.5" fill="none" stroke="#222" stroke-width="0.8"/>
<!-- legend -->
<text class="t" x="7.5" y="210.5" font-size="13.35">Cases of human rabies by animals</text>
<g stroke="#4a4038" stroke-width="1.1">
<circle cx="13.1" cy="222.8" r="5.3" fill="#ee1c24"/>
<circle cx="13.1" cy="234.7" r="5.3" fill="#f7941d"/>
<circle cx="13.1" cy="246.5" r="5.3" fill="#fff200"/>
<circle cx="13.1" cy="258.4" r="5.3" fill="#00a651"/>
<circle cx="13.1" cy="270.3" r="5.3" fill="#4472c4"/>
<circle cx="13.1" cy="282.2" r="5.3" fill="#808080"/>
</g>
<g class="t" font-size="10.25">
<text x="22.6" y="226.2">bats</text>
<text x="22.6" y="238.1">dogs</text>
<text x="22.6" y="249.9">wild canids</text>
<text x="22.6" y="261.8">NHPs</text>
<text x="22.6" y="273.7">cats</text>
<text x="22.6" y="285.6">ignored</text>
</g>
<text class="t" x="7.1" y="316" font-size="13.35">Mean temperature (°C)</text>
<rect x="11" y="325.3" width="12" height="11.9" fill="#fdeee8"/>
<rect x="11" y="337.2" width="12" height="11.9" fill="#fbb9a0"/>
<rect x="11" y="349.1" width="12" height="11.9" fill="#f86a4c"/>
<rect x="11" y="361" width="12" height="11.9" fill="#e0262a"/>
<rect x="11" y="372.9" width="12" height="11.9" fill="#6c0a12"/>
<g class="t" font-size="10.3">
<text x="26.7" y="335.3">13.5 – 19.3</text>
<text x="26.7" y="347.1">19.3 – 21.4</text>
<text x="26.7" y="358.9">21.4 – 23.2</text>
<text x="26.7" y="370.7">23.2 – 25.2</text>
<text x="26.7" y="382.5">25.2 – 27.8</text>
</g>
<!-- north arrow -->
<text x="496" y="26.6" font-family="Liberation Sans,Arial,sans-serif" font-size="17.5" fill="#000">N</text>
<polygon fill="#000" points="502,28.4 518.4,53.8 502,46.8 486,53.8"/>
<!-- scale bar -->
<rect x="445" y="369" width="98" height="5" fill="#000"/>
<text class="t" x="444.6" y="367.3" font-size="8">0</text>
<text class="t" x="543.8" y="365.8" font-size="8.5" text-anchor="end">1000km</text>
</svg>
</body></html>
